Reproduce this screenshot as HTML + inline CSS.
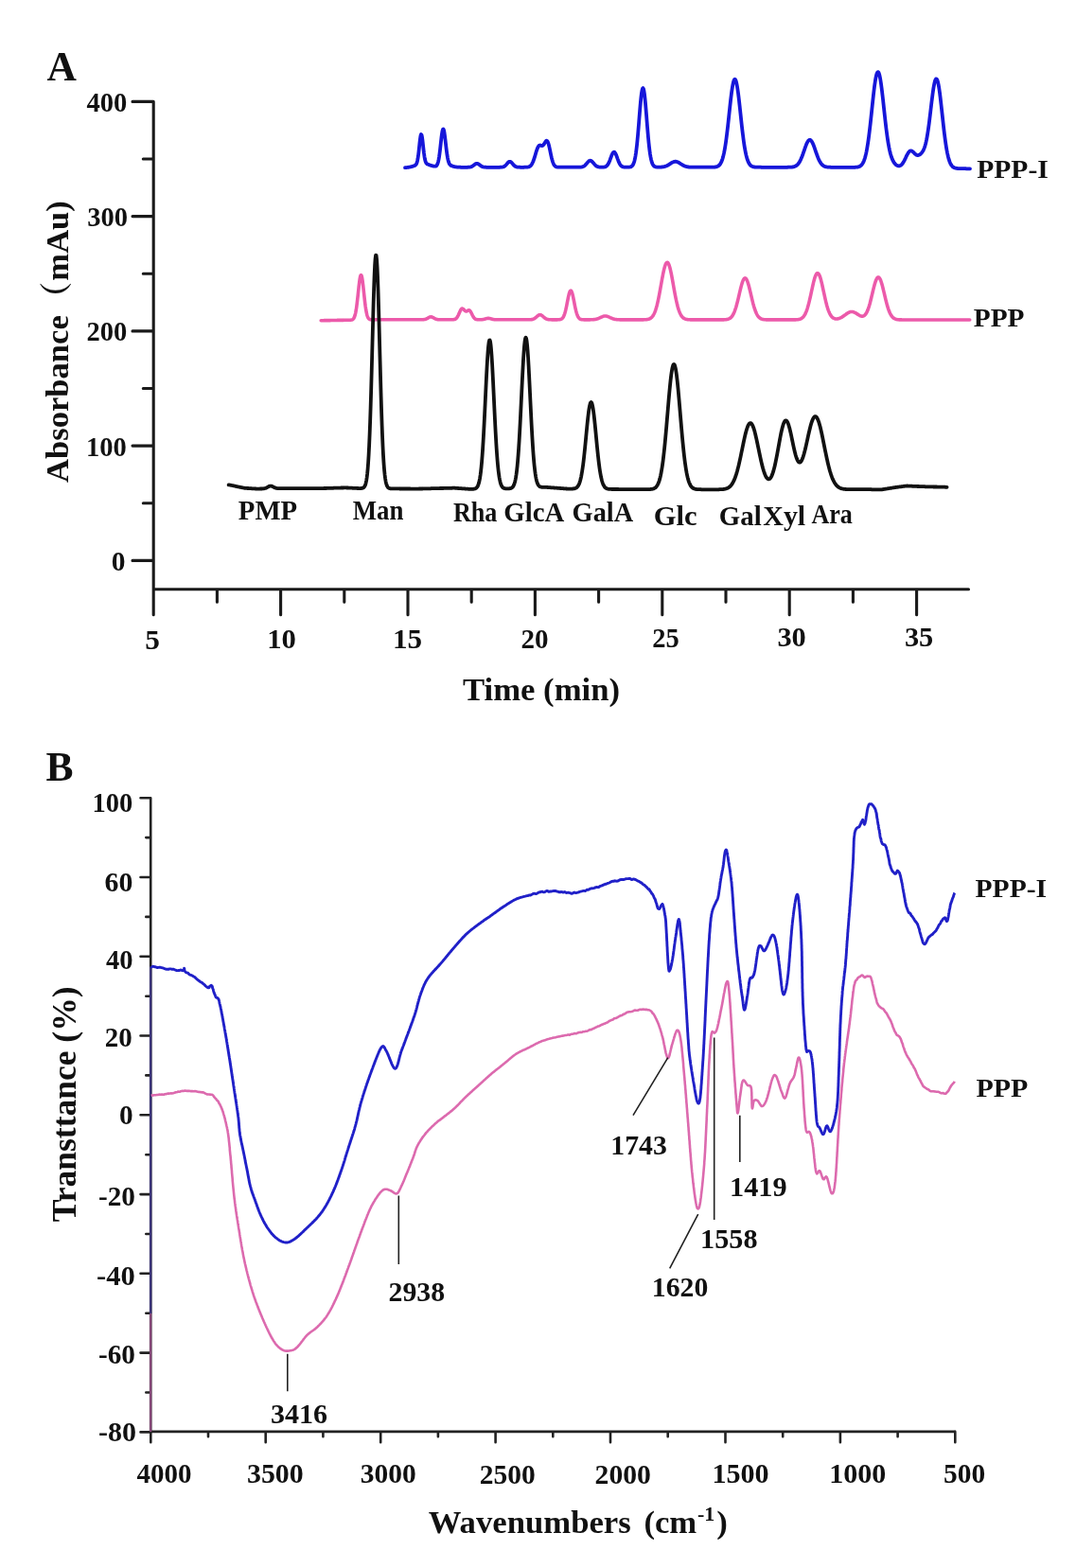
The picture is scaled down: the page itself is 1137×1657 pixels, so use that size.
<!DOCTYPE html><html><head><meta charset="utf-8"><title>Figure</title><style>html,body{margin:0;padding:0;background:#fff;}svg{display:block;}text{font-family:"Liberation Serif","Times New Roman",serif;font-weight:bold;fill:#111;}</style></head><body>
<svg width="1137" height="1657" viewBox="0 0 1137 1657">
<rect width="1137" height="1657" fill="#fff"/>
<path d="M162.2 107.6 V622.8 M162.2 622.8 H1023.5 M140 592.4 H162.2 M140 471.1 H162.2 M140 349.9 H162.2 M140 228.6 H162.2 M140 107.4 H162.2 M151.3 531.8 H162.2 M151.3 410.5 H162.2 M151.3 289.3 H162.2 M151.3 168 H162.2 M162.2 622.8 V649.8 M296.6 622.8 V649.8 M431 622.8 V649.8 M565.4 622.8 V649.8 M699.8 622.8 V649.8 M834.2 622.8 V649.8 M968.6 622.8 V649.8 M229.4 622.8 V636.3 M363.8 622.8 V636.3 M498.2 622.8 V636.3 M632.6 622.8 V636.3 M767 622.8 V636.3 M901.4 622.8 V636.3" stroke="#1a1a1a" stroke-width="3.1" fill="none" stroke-linecap="round" stroke-linejoin="round"/>
<path d="M339.2 338.7 L339.7 338.7 L340.2 338.7 L340.7 338.7 L341.2 338.7 L341.7 338.7 L342.2 338.7 L342.7 338.6 L343.2 338.6 L343.7 338.6 L344.2 338.6 L344.7 338.6 L345.2 338.6 L345.7 338.6 L346.2 338.6 L346.7 338.6 L347.2 338.6 L347.7 338.6 L348.2 338.6 L348.7 338.6 L349.2 338.6 L349.7 338.5 L350.2 338.5 L350.7 338.5 L351.2 338.5 L351.7 338.5 L352.2 338.5 L352.7 338.5 L353.2 338.5 L353.7 338.5 L354.2 338.5 L354.7 338.5 L355.2 338.5 L355.7 338.5 L356.2 338.4 L356.7 338.4 L357.2 338.4 L357.7 338.4 L358.2 338.4 L358.7 338.4 L359.2 338.4 L359.7 338.4 L360.2 338.4 L360.7 338.4 L361.2 338.4 L361.7 338.4 L362.2 338.4 L362.7 338.4 L363.2 338.3 L363.7 338.3 L364.2 338.3 L364.7 338.3 L365.2 338.3 L365.7 338.3 L366.2 338.3 L366.7 338.3 L367.2 338.3 L367.7 338.3 L368.2 338.3 L368.7 338.3 L369.2 338.2 L369.7 338.2 L370.2 338.2 L370.7 338.2 L371.2 338.1 L371.7 338 L372.2 337.8 L372.7 337.6 L373.2 337.2 L373.7 336.6 L374.2 335.7 L374.7 334.5 L375.2 332.9 L375.7 330.8 L376.2 328.2 L376.7 324.9 L377.2 321.1 L377.7 316.8 L378.2 312.2 L378.7 307.4 L379.2 302.7 L379.7 298.4 L380.2 294.8 L380.7 292.2 L381.2 290.8 L381.7 290.7 L382.2 291.8 L382.7 294.2 L383.2 297.6 L383.7 301.7 L384.2 306.4 L384.7 311.1 L385.2 315.8 L385.7 320.2 L386.2 324.1 L386.7 327.4 L387.2 330.2 L387.7 332.4 L388.2 334.1 L388.7 335.3 L389.2 336.2 L389.7 336.8 L390.2 337.2 L390.7 337.5 L391.2 337.7 L391.7 337.8 L392.2 337.8 L392.7 337.9 L393.2 337.9 L393.7 337.9 L394.2 337.9 L394.7 337.9 L395.2 337.9 L395.7 337.9 L396.2 337.9 L396.7 337.8 L397.2 337.8 L397.7 337.8 L398.2 337.8 L398.7 337.8 L399.2 337.8 L399.7 337.8 L400.2 337.8 L400.7 337.8 L401.2 337.8 L401.7 337.8 L402.2 337.8 L402.7 337.8 L403.2 337.8 L403.7 337.8 L404.2 337.8 L404.7 337.8 L405.2 337.8 L405.7 337.8 L406.2 337.8 L406.7 337.8 L407.2 337.8 L407.7 337.8 L408.2 337.8 L408.7 337.8 L409.2 337.8 L409.7 337.8 L410.2 337.8 L410.7 337.8 L411.2 337.8 L411.7 337.8 L412.2 337.8 L412.7 337.8 L413.2 337.8 L413.7 337.8 L414.2 337.8 L414.7 337.8 L415.2 337.8 L415.7 337.8 L416.2 337.8 L416.7 337.8 L417.2 337.8 L417.7 337.8 L418.2 337.8 L418.7 337.8 L419.2 337.8 L419.7 337.8 L420.2 337.8 L420.7 337.8 L421.2 337.8 L421.7 337.8 L422.2 337.8 L422.7 337.8 L423.2 337.8 L423.7 337.8 L424.2 337.8 L424.7 337.8 L425.2 337.8 L425.7 337.8 L426.2 337.8 L426.7 337.8 L427.2 337.8 L427.7 337.8 L428.2 337.8 L428.7 337.8 L429.2 337.8 L429.7 337.8 L430.2 337.8 L430.7 337.8 L431.2 337.8 L431.7 337.8 L432.2 337.8 L432.7 337.8 L433.2 337.8 L433.7 337.8 L434.2 337.8 L434.7 337.8 L435.2 337.8 L435.7 337.8 L436.2 337.8 L436.7 337.8 L437.2 337.8 L437.7 337.8 L438.2 337.8 L438.7 337.8 L439.2 337.8 L439.7 337.8 L440.2 337.8 L440.7 337.8 L441.2 337.8 L441.7 337.8 L442.2 337.8 L442.7 337.8 L443.2 337.8 L443.7 337.8 L444.2 337.8 L444.7 337.8 L445.2 337.8 L445.7 337.8 L446.2 337.8 L446.7 337.8 L447.2 337.7 L447.7 337.7 L448.2 337.6 L448.7 337.5 L449.2 337.4 L449.7 337.3 L450.2 337.1 L450.7 336.9 L451.2 336.6 L451.7 336.4 L452.2 336.1 L452.7 335.8 L453.2 335.5 L453.7 335.2 L454.2 335 L454.7 334.9 L455.2 334.8 L455.7 334.8 L456.2 334.9 L456.7 335.1 L457.2 335.4 L457.7 335.6 L458.2 335.9 L458.7 336.2 L459.2 336.5 L459.7 336.8 L460.2 337 L460.7 337.2 L461.2 337.4 L461.7 337.5 L462.2 337.6 L462.7 337.7 L463.2 337.7 L463.7 337.8 L464.2 337.8 L464.7 337.8 L465.2 337.8 L465.7 337.8 L466.2 337.8 L466.7 337.8 L467.2 337.8 L467.7 337.8 L468.2 337.8 L468.7 337.8 L469.2 337.8 L469.7 337.8 L470.2 337.8 L470.7 337.8 L471.2 337.8 L471.7 337.8 L472.2 337.8 L472.7 337.8 L473.2 337.8 L473.7 337.8 L474.2 337.8 L474.7 337.8 L475.2 337.8 L475.7 337.8 L476.2 337.8 L476.7 337.8 L477.2 337.8 L477.7 337.8 L478.2 337.8 L478.7 337.8 L479.2 337.7 L479.7 337.6 L480.2 337.5 L480.7 337.4 L481.2 337.1 L481.7 336.8 L482.2 336.4 L482.7 335.8 L483.2 335.1 L483.7 334.3 L484.2 333.3 L484.7 332.2 L485.2 331.1 L485.7 329.9 L486.2 328.8 L486.7 327.8 L487.2 327 L487.7 326.4 L488.2 326.1 L488.7 326.1 L489.2 326.3 L489.7 326.7 L490.2 327.2 L490.7 327.8 L491.2 328.3 L491.7 328.7 L492.2 328.9 L492.7 329 L493.2 328.8 L493.7 328.6 L494.2 328.3 L494.7 328 L495.2 327.8 L495.7 327.8 L496.2 328 L496.7 328.5 L497.2 329.2 L497.7 330 L498.2 331 L498.7 332 L499.2 333.1 L499.7 334 L500.2 334.9 L500.7 335.6 L501.2 336.2 L501.7 336.7 L502.2 337.1 L502.7 337.3 L503.2 337.5 L503.7 337.6 L504.2 337.7 L504.7 337.8 L505.2 337.8 L505.7 337.8 L506.2 337.8 L506.7 337.8 L507.2 337.8 L507.7 337.8 L508.2 337.8 L508.7 337.8 L509.2 337.7 L509.7 337.7 L510.2 337.6 L510.7 337.5 L511.2 337.4 L511.7 337.3 L512.2 337.2 L512.7 337 L513.2 336.9 L513.7 336.7 L514.2 336.6 L514.7 336.5 L515.2 336.4 L515.7 336.3 L516.2 336.3 L516.7 336.4 L517.2 336.5 L517.7 336.6 L518.2 336.7 L518.7 336.8 L519.2 337 L519.7 337.1 L520.2 337.3 L520.7 337.4 L521.2 337.5 L521.7 337.6 L522.2 337.7 L522.7 337.7 L523.2 337.8 L523.7 337.8 L524.2 337.8 L524.7 337.8 L525.2 337.8 L525.7 337.8 L526.2 337.8 L526.7 337.8 L527.2 337.8 L527.7 337.8 L528.2 337.8 L528.7 337.8 L529.2 337.8 L529.7 337.8 L530.2 337.8 L530.7 337.8 L531.2 337.8 L531.7 337.8 L532.2 337.8 L532.7 337.8 L533.2 337.8 L533.7 337.8 L534.2 337.8 L534.7 337.8 L535.2 337.8 L535.7 337.8 L536.2 337.8 L536.7 337.8 L537.2 337.8 L537.7 337.8 L538.2 337.8 L538.7 337.8 L539.2 337.8 L539.7 337.8 L540.2 337.8 L540.7 337.8 L541.2 337.8 L541.7 337.8 L542.2 337.8 L542.7 337.8 L543.2 337.8 L543.7 337.8 L544.2 337.8 L544.7 337.8 L545.2 337.8 L545.7 337.8 L546.2 337.8 L546.7 337.8 L547.2 337.8 L547.7 337.8 L548.2 337.8 L548.7 337.8 L549.2 337.8 L549.7 337.8 L550.2 337.8 L550.7 337.8 L551.2 337.8 L551.7 337.8 L552.2 337.8 L552.7 337.8 L553.2 337.8 L553.7 337.8 L554.2 337.8 L554.7 337.8 L555.2 337.8 L555.7 337.8 L556.2 337.8 L556.7 337.8 L557.2 337.8 L557.7 337.8 L558.2 337.8 L558.7 337.8 L559.2 337.8 L559.7 337.8 L560.2 337.8 L560.7 337.8 L561.2 337.7 L561.7 337.6 L562.2 337.6 L562.7 337.4 L563.2 337.3 L563.7 337.1 L564.2 336.9 L564.7 336.6 L565.2 336.3 L565.7 335.9 L566.2 335.5 L566.7 335.1 L567.2 334.6 L567.7 334.2 L568.2 333.7 L568.7 333.4 L569.2 333.1 L569.7 332.8 L570.2 332.7 L570.7 332.7 L571.2 332.7 L571.7 332.9 L572.2 333.2 L572.7 333.5 L573.2 333.9 L573.7 334.3 L574.2 334.8 L574.7 335.2 L575.2 335.7 L575.7 336.1 L576.2 336.4 L576.7 336.7 L577.2 337 L577.7 337.2 L578.2 337.4 L578.7 337.5 L579.2 337.6 L579.7 337.7 L580.2 337.7 L580.7 337.8 L581.2 337.8 L581.7 337.8 L582.2 337.8 L582.7 337.8 L583.2 337.9 L583.7 337.9 L584.2 337.9 L584.7 337.9 L585.2 337.9 L585.7 337.9 L586.2 337.9 L586.7 337.9 L587.2 337.9 L587.7 337.9 L588.2 337.9 L588.7 337.9 L589.2 337.8 L589.7 337.8 L590.2 337.8 L590.7 337.8 L591.2 337.7 L591.7 337.7 L592.2 337.5 L592.7 337.4 L593.2 337.2 L593.7 336.8 L594.2 336.4 L594.7 335.8 L595.2 335.1 L595.7 334.1 L596.2 333 L596.7 331.5 L597.2 329.8 L597.7 327.9 L598.2 325.7 L598.7 323.3 L599.2 320.7 L599.7 318.1 L600.2 315.6 L600.7 313.2 L601.2 311.1 L601.7 309.3 L602.2 308 L602.7 307.3 L603.2 307.1 L603.7 307.5 L604.2 308.5 L604.7 310 L605.2 311.9 L605.7 314.1 L606.2 316.6 L606.7 319.2 L607.2 321.8 L607.7 324.3 L608.2 326.6 L608.7 328.7 L609.2 330.5 L609.7 332.1 L610.2 333.5 L610.7 334.6 L611.2 335.4 L611.7 336.1 L612.2 336.6 L612.7 337 L613.2 337.3 L613.7 337.5 L614.2 337.6 L614.7 337.7 L615.2 337.8 L615.7 337.8 L616.2 337.8 L616.7 337.8 L617.2 337.9 L617.7 337.9 L618.2 337.9 L618.7 337.9 L619.2 337.9 L619.7 337.9 L620.2 337.9 L620.7 337.9 L621.2 337.9 L621.7 337.9 L622.2 337.9 L622.7 337.9 L623.2 337.9 L623.7 337.8 L624.2 337.8 L624.7 337.8 L625.2 337.8 L625.7 337.8 L626.2 337.8 L626.7 337.7 L627.2 337.7 L627.7 337.6 L628.2 337.6 L628.7 337.5 L629.2 337.4 L629.7 337.3 L630.2 337.2 L630.7 337.1 L631.2 336.9 L631.7 336.8 L632.2 336.6 L632.7 336.4 L633.2 336.2 L633.7 335.9 L634.2 335.7 L634.7 335.5 L635.2 335.2 L635.7 335 L636.2 334.8 L636.7 334.6 L637.2 334.4 L637.7 334.2 L638.2 334.1 L638.7 334 L639.2 334 L639.7 334 L640.2 334 L640.7 334.1 L641.2 334.2 L641.7 334.3 L642.2 334.5 L642.7 334.7 L643.2 334.9 L643.7 335.1 L644.2 335.3 L644.7 335.6 L645.2 335.8 L645.7 336 L646.2 336.2 L646.7 336.5 L647.2 336.7 L647.7 336.8 L648.2 337 L648.7 337.1 L649.2 337.3 L649.7 337.4 L650.2 337.5 L650.7 337.5 L651.2 337.6 L651.7 337.7 L652.2 337.7 L652.7 337.8 L653.2 337.8 L653.7 337.8 L654.2 337.8 L654.7 337.8 L655.2 337.9 L655.7 337.9 L656.2 337.9 L656.7 337.9 L657.2 337.9 L657.7 337.9 L658.2 337.9 L658.7 337.9 L659.2 337.9 L659.7 337.9 L660.2 337.9 L660.7 337.9 L661.2 337.9 L661.7 337.9 L662.2 337.9 L662.7 337.9 L663.2 337.9 L663.7 337.9 L664.2 337.9 L664.7 337.9 L665.2 337.9 L665.7 337.9 L666.2 337.9 L666.7 337.9 L667.2 337.9 L667.7 337.9 L668.2 337.9 L668.7 337.9 L669.2 337.9 L669.7 337.9 L670.2 337.9 L670.7 337.9 L671.2 337.9 L671.7 337.9 L672.2 337.9 L672.7 337.9 L673.2 337.9 L673.7 337.9 L674.2 337.9 L674.7 337.9 L675.2 337.9 L675.7 337.9 L676.2 337.9 L676.7 337.9 L677.2 337.9 L677.7 337.9 L678.2 337.9 L678.7 337.9 L679.2 337.9 L679.7 337.9 L680.2 337.8 L680.7 337.8 L681.2 337.8 L681.7 337.8 L682.2 337.8 L682.7 337.7 L683.2 337.7 L683.7 337.6 L684.2 337.5 L684.7 337.4 L685.2 337.3 L685.7 337.2 L686.2 337 L686.7 336.7 L687.2 336.5 L687.7 336.1 L688.2 335.7 L688.7 335.3 L689.2 334.7 L689.7 334.1 L690.2 333.4 L690.7 332.5 L691.2 331.5 L691.7 330.4 L692.2 329.2 L692.7 327.8 L693.2 326.2 L693.7 324.5 L694.2 322.7 L694.7 320.6 L695.2 318.4 L695.7 316.1 L696.2 313.7 L696.7 311.1 L697.2 308.4 L697.7 305.6 L698.2 302.8 L698.7 300 L699.2 297.2 L699.7 294.4 L700.2 291.8 L700.7 289.2 L701.2 286.8 L701.7 284.6 L702.2 282.7 L702.7 281 L703.2 279.6 L703.7 278.5 L704.2 277.8 L704.7 277.4 L705.2 277.3 L705.7 277.6 L706.2 278.3 L706.7 279.3 L707.2 280.7 L707.7 282.3 L708.2 284.2 L708.7 286.4 L709.2 288.7 L709.7 291.2 L710.2 293.9 L710.7 296.6 L711.2 299.4 L711.7 302.3 L712.2 305.1 L712.7 307.9 L713.2 310.6 L713.7 313.2 L714.2 315.6 L714.7 318 L715.2 320.2 L715.7 322.3 L716.2 324.2 L716.7 325.9 L717.2 327.5 L717.7 328.9 L718.2 330.2 L718.7 331.3 L719.2 332.3 L719.7 333.2 L720.2 334 L720.7 334.6 L721.2 335.2 L721.7 335.7 L722.2 336.1 L722.7 336.4 L723.2 336.7 L723.7 336.9 L724.2 337.1 L724.7 337.3 L725.2 337.4 L725.7 337.5 L726.2 337.6 L726.7 337.7 L727.2 337.7 L727.7 337.8 L728.2 337.8 L728.7 337.8 L729.2 337.8 L729.7 337.9 L730.2 337.9 L730.7 337.9 L731.2 337.9 L731.7 337.9 L732.2 337.9 L732.7 337.9 L733.2 337.9 L733.7 337.9 L734.2 337.9 L734.7 337.9 L735.2 337.9 L735.7 337.9 L736.2 337.9 L736.7 337.9 L737.2 337.9 L737.7 337.9 L738.2 337.9 L738.7 337.9 L739.2 337.9 L739.7 337.9 L740.2 337.9 L740.7 337.9 L741.2 337.9 L741.7 337.9 L742.2 337.9 L742.7 337.9 L743.2 337.9 L743.7 337.9 L744.2 337.9 L744.7 337.9 L745.2 337.9 L745.7 337.9 L746.2 337.9 L746.7 337.9 L747.2 337.9 L747.7 337.9 L748.2 337.9 L748.7 337.9 L749.2 337.9 L749.7 337.9 L750.2 337.9 L750.7 337.9 L751.2 337.9 L751.7 337.9 L752.2 337.9 L752.7 337.9 L753.2 337.9 L753.7 337.9 L754.2 337.9 L754.7 337.9 L755.2 337.9 L755.7 337.9 L756.2 337.9 L756.7 337.9 L757.2 337.9 L757.7 337.9 L758.2 337.9 L758.7 337.9 L759.2 337.9 L759.7 337.9 L760.2 337.9 L760.7 337.9 L761.2 337.9 L761.7 337.9 L762.2 337.9 L762.7 337.9 L763.2 337.9 L763.7 337.9 L764.2 337.9 L764.7 337.9 L765.2 337.8 L765.7 337.8 L766.2 337.8 L766.7 337.7 L767.2 337.7 L767.7 337.6 L768.2 337.5 L768.7 337.4 L769.2 337.3 L769.7 337.1 L770.2 336.9 L770.7 336.7 L771.2 336.4 L771.7 336.1 L772.2 335.7 L772.7 335.2 L773.2 334.6 L773.7 334 L774.2 333.2 L774.7 332.3 L775.2 331.4 L775.7 330.3 L776.2 329.1 L776.7 327.7 L777.2 326.2 L777.7 324.7 L778.2 322.9 L778.7 321.1 L779.2 319.2 L779.7 317.2 L780.2 315.1 L780.7 313 L781.2 310.8 L781.7 308.7 L782.2 306.6 L782.7 304.5 L783.2 302.6 L783.7 300.7 L784.2 299.1 L784.7 297.6 L785.2 296.4 L785.7 295.4 L786.2 294.6 L786.7 294.1 L787.2 293.9 L787.7 294 L788.2 294.4 L788.7 295 L789.2 295.9 L789.7 297.1 L790.2 298.5 L790.7 300.1 L791.2 301.8 L791.7 303.7 L792.2 305.7 L792.7 307.8 L793.2 309.9 L793.7 312.1 L794.2 314.2 L794.7 316.3 L795.2 318.4 L795.7 320.4 L796.2 322.2 L796.7 324 L797.2 325.6 L797.7 327.2 L798.2 328.5 L798.7 329.8 L799.2 331 L799.7 332 L800.2 332.9 L800.7 333.7 L801.2 334.4 L801.7 335 L802.2 335.5 L802.7 335.9 L803.2 336.3 L803.7 336.6 L804.2 336.9 L804.7 337.1 L805.2 337.2 L805.7 337.4 L806.2 337.5 L806.7 337.6 L807.2 337.7 L807.7 337.7 L808.2 337.8 L808.7 337.8 L809.2 337.8 L809.7 337.9 L810.2 337.9 L810.7 337.9 L811.2 337.9 L811.7 337.9 L812.2 337.9 L812.7 337.9 L813.2 337.9 L813.7 337.9 L814.2 337.9 L814.7 337.9 L815.2 337.9 L815.7 337.9 L816.2 337.9 L816.7 337.9 L817.2 337.9 L817.7 337.9 L818.2 337.9 L818.7 337.9 L819.2 337.9 L819.7 337.9 L820.2 337.9 L820.7 337.9 L821.2 337.9 L821.7 337.9 L822.2 337.9 L822.7 337.9 L823.2 337.9 L823.7 337.9 L824.2 337.9 L824.7 337.9 L825.2 337.9 L825.7 337.9 L826.2 337.9 L826.7 337.9 L827.2 337.9 L827.7 337.9 L828.2 337.9 L828.7 337.9 L829.2 337.9 L829.7 337.9 L830.2 337.9 L830.7 337.9 L831.2 337.9 L831.7 337.9 L832.2 337.9 L832.7 337.9 L833.2 337.9 L833.7 337.9 L834.2 337.9 L834.7 337.9 L835.2 337.9 L835.7 337.9 L836.2 337.9 L836.7 337.9 L837.2 337.9 L837.7 337.9 L838.2 337.9 L838.7 337.9 L839.2 337.9 L839.7 337.9 L840.2 337.9 L840.7 337.9 L841.2 337.8 L841.7 337.8 L842.2 337.8 L842.7 337.7 L843.2 337.7 L843.7 337.6 L844.2 337.5 L844.7 337.4 L845.2 337.3 L845.7 337.1 L846.2 336.9 L846.7 336.6 L847.2 336.3 L847.7 335.9 L848.2 335.5 L848.7 335 L849.2 334.4 L849.7 333.7 L850.2 333 L850.7 332.1 L851.2 331.1 L851.7 329.9 L852.2 328.7 L852.7 327.3 L853.2 325.8 L853.7 324.1 L854.2 322.3 L854.7 320.4 L855.2 318.4 L855.7 316.2 L856.2 314 L856.7 311.8 L857.2 309.4 L857.7 307.1 L858.2 304.8 L858.7 302.5 L859.2 300.3 L859.7 298.2 L860.2 296.2 L860.7 294.4 L861.2 292.8 L861.7 291.5 L862.2 290.4 L862.7 289.5 L863.2 288.9 L863.7 288.7 L864.2 288.7 L864.7 289 L865.2 289.7 L865.7 290.6 L866.2 291.7 L866.7 293.1 L867.2 294.8 L867.7 296.6 L868.2 298.6 L868.7 300.7 L869.2 303 L869.7 305.3 L870.2 307.6 L870.7 309.9 L871.2 312.2 L871.7 314.5 L872.2 316.7 L872.7 318.8 L873.2 320.8 L873.7 322.7 L874.2 324.4 L874.7 326.1 L875.2 327.6 L875.7 328.9 L876.2 330.1 L876.7 331.2 L877.2 332.2 L877.7 333.1 L878.2 333.8 L878.7 334.5 L879.2 335 L879.7 335.5 L880.2 335.9 L880.7 336.2 L881.2 336.4 L881.7 336.6 L882.2 336.8 L882.7 336.9 L883.2 337 L883.7 337 L884.2 337 L884.7 336.9 L885.2 336.9 L885.7 336.8 L886.2 336.6 L886.7 336.5 L887.2 336.3 L887.7 336.1 L888.2 335.9 L888.7 335.6 L889.2 335.4 L889.7 335.1 L890.2 334.8 L890.7 334.4 L891.2 334.1 L891.7 333.7 L892.2 333.4 L892.7 333 L893.2 332.7 L893.7 332.3 L894.2 331.9 L894.7 331.6 L895.2 331.2 L895.7 330.9 L896.2 330.6 L896.7 330.4 L897.2 330.1 L897.7 329.9 L898.2 329.7 L898.7 329.6 L899.2 329.5 L899.7 329.5 L900.2 329.5 L900.7 329.5 L901.2 329.6 L901.7 329.7 L902.2 329.9 L902.7 330.1 L903.2 330.3 L903.7 330.5 L904.2 330.8 L904.7 331.1 L905.2 331.4 L905.7 331.8 L906.2 332.1 L906.7 332.4 L907.2 332.7 L907.7 333 L908.2 333.3 L908.7 333.6 L909.2 333.8 L909.7 334 L910.2 334.1 L910.7 334.2 L911.2 334.2 L911.7 334.2 L912.2 334 L912.7 333.8 L913.2 333.5 L913.7 333.1 L914.2 332.6 L914.7 332 L915.2 331.3 L915.7 330.4 L916.2 329.4 L916.7 328.3 L917.2 327 L917.7 325.6 L918.2 324.1 L918.7 322.4 L919.2 320.7 L919.7 318.8 L920.2 316.8 L920.7 314.8 L921.2 312.7 L921.7 310.6 L922.2 308.5 L922.7 306.4 L923.2 304.4 L923.7 302.4 L924.2 300.6 L924.7 298.9 L925.2 297.3 L925.7 296 L926.2 294.9 L926.7 294 L927.2 293.4 L927.7 293.1 L928.2 293 L928.7 293.2 L929.2 293.6 L929.7 294.4 L930.2 295.3 L930.7 296.5 L931.2 298 L931.7 299.6 L932.2 301.3 L932.7 303.2 L933.2 305.2 L933.7 307.3 L934.2 309.4 L934.7 311.5 L935.2 313.7 L935.7 315.7 L936.2 317.8 L936.7 319.7 L937.2 321.6 L937.7 323.4 L938.2 325 L938.7 326.6 L939.2 328 L939.7 329.3 L940.2 330.4 L940.7 331.5 L941.2 332.4 L941.7 333.3 L942.2 334 L942.7 334.6 L943.2 335.2 L943.7 335.7 L944.2 336.1 L944.7 336.4 L945.2 336.7 L945.7 336.9 L946.2 337.1 L946.7 337.3 L947.2 337.5 L947.7 337.6 L948.2 337.7 L948.7 337.7 L949.2 337.8 L949.7 337.8 L950.2 337.9 L950.7 337.9 L951.2 337.9 L951.7 337.9 L952.2 337.9 L952.7 337.9 L953.2 338 L953.7 338 L954.2 338 L954.7 338 L955.2 338 L955.7 338 L956.2 338 L956.7 338 L957.2 338 L957.7 338 L958.2 338 L958.7 338 L959.2 338 L959.7 338 L960.2 338 L960.7 338 L961.2 338 L961.7 338 L962.2 338 L962.7 338 L963.2 338 L963.7 338 L964.2 338 L964.7 338 L965.2 338 L965.7 338 L966.2 338 L966.7 338 L967.2 338 L967.7 338 L968.2 338 L968.7 338 L969.2 338 L969.7 338 L970.2 338 L970.7 338 L971.2 338 L971.7 338 L972.2 338 L972.7 338 L973.2 338 L973.7 338 L974.2 338 L974.7 338 L975.2 338 L975.7 338 L976.2 338 L976.7 338 L977.2 338 L977.7 338 L978.2 338 L978.7 338 L979.2 338 L979.7 338 L980.2 338 L980.7 338 L981.2 338 L981.7 338 L982.2 338 L982.7 338 L983.2 338 L983.7 338 L984.2 338 L984.7 338 L985.2 338 L985.7 338 L986.2 338 L986.7 338 L987.2 338 L987.7 338 L988.2 338 L988.7 338 L989.2 338 L989.7 338 L990.2 338 L990.7 338 L991.2 338 L991.7 338 L992.2 338 L992.7 338 L993.2 338 L993.7 338 L994.2 338 L994.7 338 L995.2 338 L995.7 338 L996.2 338 L996.7 338 L997.2 338 L997.7 338 L998.2 338 L998.7 338 L999.2 338 L999.7 338 L1000.2 338 L1000.7 338 L1001.2 338 L1001.7 338 L1002.2 338 L1002.7 338 L1003.2 338 L1003.7 338 L1004.2 338 L1004.7 338 L1005.2 338 L1005.7 338 L1006.2 338 L1006.7 338 L1007.2 338 L1007.7 338 L1008.2 338 L1008.7 338 L1009.2 338 L1009.7 338 L1010.2 338 L1010.7 338 L1011.2 338 L1011.7 338 L1012.2 338 L1012.7 338 L1013.2 338 L1013.7 338 L1014.2 338 L1014.7 338 L1015.2 338 L1015.7 338 L1016.2 338 L1016.7 338 L1017.2 338 L1017.7 338 L1018.2 338 L1018.7 338 L1019.2 338 L1019.7 338 L1020.2 338 L1020.7 338 L1021.2 338 L1021.7 338 L1022.2 338 L1022.7 338 L1023.2 338 L1023.7 338 L1024.2 338 L1024.7 338" stroke="#ec5aaa" stroke-width="3.6" fill="none" stroke-linejoin="round" stroke-linecap="round"/>
<path d="M428 177.2 L428.5 177.2 L429 177.1 L429.5 177.1 L430 177 L430.5 176.9 L431 176.9 L431.5 176.8 L432 176.7 L432.5 176.6 L433 176.6 L433.5 176.4 L434 176.3 L434.5 176.2 L435 176.1 L435.5 175.9 L436 175.8 L436.5 175.6 L437 175.5 L437.5 175.3 L438 175.1 L438.5 174.8 L439 174.5 L439.5 174 L440 173.2 L440.5 172 L441 170.2 L441.5 167.7 L442 164.4 L442.5 160.2 L443 155.5 L443.5 150.8 L444 146.5 L444.5 143.4 L445 142 L445.5 142.5 L446 144.8 L446.5 148.5 L447 153.1 L447.5 157.7 L448 162 L448.5 165.6 L449 168.3 L449.5 170.3 L450 171.6 L450.5 172.5 L451 173 L451.5 173.4 L452 173.6 L452.5 173.8 L453 174 L453.5 174.2 L454 174.4 L454.5 174.5 L455 174.7 L455.5 174.9 L456 175 L456.5 175.2 L457 175.3 L457.5 175.5 L458 175.6 L458.5 175.7 L459 175.7 L459.5 175.7 L460 175.7 L460.5 175.6 L461 175.3 L461.5 174.8 L462 174 L462.5 172.8 L463 171.2 L463.5 168.9 L464 166.1 L464.5 162.6 L465 158.5 L465.5 154 L466 149.4 L466.5 145 L467 141.2 L467.5 138.3 L468 136.7 L468.5 136.4 L469 137.5 L469.5 139.9 L470 143.4 L470.5 147.5 L471 151.9 L471.5 156.2 L472 160.3 L472.5 163.9 L473 166.8 L473.5 169.2 L474 171 L474.5 172.3 L475 173.3 L475.5 174 L476 174.5 L476.5 174.9 L477 175.1 L477.5 175.3 L478 175.5 L478.5 175.7 L479 175.8 L479.5 176 L480 176.1 L480.5 176.2 L481 176.3 L481.5 176.4 L482 176.4 L482.5 176.5 L483 176.6 L483.5 176.6 L484 176.6 L484.5 176.7 L485 176.7 L485.5 176.7 L486 176.7 L486.5 176.7 L487 176.8 L487.5 176.8 L488 176.8 L488.5 176.8 L489 176.8 L489.5 176.8 L490 176.8 L490.5 176.8 L491 176.8 L491.5 176.8 L492 176.8 L492.5 176.8 L493 176.8 L493.5 176.8 L494 176.8 L494.5 176.7 L495 176.7 L495.5 176.7 L496 176.7 L496.5 176.6 L497 176.5 L497.5 176.4 L498 176.2 L498.5 176 L499 175.7 L499.5 175.4 L500 175.1 L500.5 174.7 L501 174.3 L501.5 173.9 L502 173.5 L502.5 173.2 L503 173 L503.5 172.8 L504 172.8 L504.5 172.9 L505 173 L505.5 173.3 L506 173.6 L506.5 174 L507 174.4 L507.5 174.8 L508 175.2 L508.5 175.5 L509 175.8 L509.5 176.1 L510 176.3 L510.5 176.4 L511 176.5 L511.5 176.6 L512 176.7 L512.5 176.7 L513 176.7 L513.5 176.7 L514 176.8 L514.5 176.8 L515 176.8 L515.5 176.8 L516 176.8 L516.5 176.8 L517 176.8 L517.5 176.8 L518 176.8 L518.5 176.8 L519 176.8 L519.5 176.8 L520 176.8 L520.5 176.8 L521 176.8 L521.5 176.8 L522 176.8 L522.5 176.8 L523 176.8 L523.5 176.8 L524 176.8 L524.5 176.8 L525 176.8 L525.5 176.8 L526 176.8 L526.5 176.8 L527 176.8 L527.5 176.8 L528 176.8 L528.5 176.7 L529 176.7 L529.5 176.7 L530 176.7 L530.5 176.6 L531 176.5 L531.5 176.4 L532 176.3 L532.5 176.1 L533 175.8 L533.5 175.4 L534 175 L534.5 174.5 L535 174 L535.5 173.4 L536 172.8 L536.5 172.2 L537 171.7 L537.5 171.2 L538 170.9 L538.5 170.8 L539 170.8 L539.5 171 L540 171.3 L540.5 171.7 L541 172.3 L541.5 172.9 L542 173.5 L542.5 174.1 L543 174.6 L543.5 175.1 L544 175.5 L544.5 175.8 L545 176.1 L545.5 176.3 L546 176.4 L546.5 176.6 L547 176.6 L547.5 176.7 L548 176.7 L548.5 176.7 L549 176.7 L549.5 176.7 L550 176.8 L550.5 176.8 L551 176.8 L551.5 176.8 L552 176.8 L552.5 176.8 L553 176.8 L553.5 176.8 L554 176.7 L554.5 176.7 L555 176.7 L555.5 176.7 L556 176.7 L556.5 176.7 L557 176.6 L557.5 176.6 L558 176.5 L558.5 176.4 L559 176.2 L559.5 176 L560 175.7 L560.5 175.3 L561 174.8 L561.5 174.2 L562 173.4 L562.5 172.5 L563 171.5 L563.5 170.3 L564 168.9 L564.5 167.5 L565 165.9 L565.5 164.2 L566 162.5 L566.5 160.8 L567 159.2 L567.5 157.8 L568 156.5 L568.5 155.4 L569 154.6 L569.5 154 L570 153.7 L570.5 153.5 L571 153.6 L571.5 153.7 L572 153.9 L572.5 154 L573 154 L573.5 153.8 L574 153.4 L574.5 152.8 L575 152.1 L575.5 151.2 L576 150.4 L576.5 149.6 L577 149 L577.5 148.7 L578 148.8 L578.5 149.3 L579 150.3 L579.5 151.7 L580 153.5 L580.5 155.6 L581 157.9 L581.5 160.4 L582 162.8 L582.5 165.1 L583 167.2 L583.5 169.1 L584 170.8 L584.5 172.2 L585 173.3 L585.5 174.3 L586 175 L586.5 175.5 L587 175.9 L587.5 176.2 L588 176.4 L588.5 176.5 L589 176.6 L589.5 176.7 L590 176.7 L590.5 176.7 L591 176.7 L591.5 176.7 L592 176.7 L592.5 176.7 L593 176.7 L593.5 176.7 L594 176.7 L594.5 176.7 L595 176.7 L595.5 176.7 L596 176.7 L596.5 176.7 L597 176.7 L597.5 176.7 L598 176.7 L598.5 176.7 L599 176.7 L599.5 176.7 L600 176.7 L600.5 176.7 L601 176.7 L601.5 176.7 L602 176.7 L602.5 176.7 L603 176.7 L603.5 176.7 L604 176.7 L604.5 176.7 L605 176.7 L605.5 176.7 L606 176.7 L606.5 176.7 L607 176.7 L607.5 176.7 L608 176.7 L608.5 176.7 L609 176.7 L609.5 176.7 L610 176.7 L610.5 176.7 L611 176.7 L611.5 176.7 L612 176.7 L612.5 176.7 L613 176.7 L613.5 176.6 L614 176.6 L614.5 176.5 L615 176.4 L615.5 176.3 L616 176.1 L616.5 175.9 L617 175.6 L617.5 175.3 L618 174.9 L618.5 174.4 L619 173.9 L619.5 173.3 L620 172.7 L620.5 172.1 L621 171.5 L621.5 171 L622 170.5 L622.5 170.1 L623 169.9 L623.5 169.7 L624 169.8 L624.5 169.9 L625 170.2 L625.5 170.6 L626 171.1 L626.5 171.6 L627 172.2 L627.5 172.8 L628 173.4 L628.5 174 L629 174.5 L629.5 175 L630 175.3 L630.5 175.7 L631 175.9 L631.5 176.1 L632 176.3 L632.5 176.4 L633 176.5 L633.5 176.6 L634 176.6 L634.5 176.7 L635 176.7 L635.5 176.7 L636 176.7 L636.5 176.7 L637 176.7 L637.5 176.6 L638 176.6 L638.5 176.5 L639 176.4 L639.5 176.3 L640 176 L640.5 175.8 L641 175.4 L641.5 174.9 L642 174.3 L642.5 173.6 L643 172.7 L643.5 171.6 L644 170.5 L644.5 169.2 L645 167.8 L645.5 166.5 L646 165.1 L646.5 163.8 L647 162.7 L647.5 161.8 L648 161.1 L648.5 160.8 L649 160.7 L649.5 161 L650 161.6 L650.5 162.5 L651 163.6 L651.5 164.8 L652 166.2 L652.5 167.6 L653 168.9 L653.5 170.2 L654 171.4 L654.5 172.5 L655 173.4 L655.5 174.2 L656 174.8 L656.5 175.3 L657 175.7 L657.5 176 L658 176.2 L658.5 176.4 L659 176.5 L659.5 176.6 L660 176.6 L660.5 176.7 L661 176.7 L661.5 176.7 L662 176.7 L662.5 176.7 L663 176.7 L663.5 176.7 L664 176.7 L664.5 176.6 L665 176.6 L665.5 176.5 L666 176.4 L666.5 176.3 L667 176 L667.5 175.7 L668 175.3 L668.5 174.7 L669 173.9 L669.5 172.8 L670 171.4 L670.5 169.7 L671 167.5 L671.5 164.8 L672 161.6 L672.5 157.8 L673 153.5 L673.5 148.5 L674 143.1 L674.5 137.2 L675 131.1 L675.5 124.7 L676 118.5 L676.5 112.4 L677 106.9 L677.5 102 L678 98.1 L678.5 95.2 L679 93.5 L679.5 93.1 L680 94 L680.5 96.2 L681 99.5 L681.5 103.9 L682 109 L682.5 114.8 L683 120.9 L683.5 127.3 L684 133.6 L684.5 139.6 L685 145.3 L685.5 150.6 L686 155.3 L686.5 159.4 L687 163 L687.5 165.9 L688 168.4 L688.5 170.4 L689 172 L689.5 173.3 L690 174.2 L690.5 174.9 L691 175.5 L691.5 175.8 L692 176.1 L692.5 176.3 L693 176.4 L693.5 176.5 L694 176.6 L694.5 176.6 L695 176.6 L695.5 176.7 L696 176.7 L696.5 176.6 L697 176.6 L697.5 176.6 L698 176.6 L698.5 176.6 L699 176.5 L699.5 176.5 L700 176.4 L700.5 176.4 L701 176.3 L701.5 176.2 L702 176.1 L702.5 175.9 L703 175.8 L703.5 175.6 L704 175.4 L704.5 175.2 L705 175 L705.5 174.7 L706 174.5 L706.5 174.2 L707 173.8 L707.5 173.5 L708 173.2 L708.5 172.9 L709 172.5 L709.5 172.2 L710 171.9 L710.5 171.6 L711 171.4 L711.5 171.2 L712 171 L712.5 170.8 L713 170.8 L713.5 170.7 L714 170.7 L714.5 170.8 L715 170.9 L715.5 171 L716 171.2 L716.5 171.4 L717 171.7 L717.5 172 L718 172.3 L718.5 172.6 L719 172.9 L719.5 173.3 L720 173.6 L720.5 173.9 L721 174.2 L721.5 174.5 L722 174.8 L722.5 175 L723 175.3 L723.5 175.5 L724 175.7 L724.5 175.8 L725 176 L725.5 176.1 L726 176.2 L726.5 176.3 L727 176.4 L727.5 176.5 L728 176.5 L728.5 176.6 L729 176.6 L729.5 176.6 L730 176.6 L730.5 176.7 L731 176.7 L731.5 176.7 L732 176.7 L732.5 176.7 L733 176.7 L733.5 176.7 L734 176.7 L734.5 176.7 L735 176.7 L735.5 176.7 L736 176.7 L736.5 176.7 L737 176.7 L737.5 176.7 L738 176.7 L738.5 176.7 L739 176.7 L739.5 176.7 L740 176.7 L740.5 176.7 L741 176.7 L741.5 176.7 L742 176.7 L742.5 176.7 L743 176.7 L743.5 176.7 L744 176.7 L744.5 176.7 L745 176.7 L745.5 176.7 L746 176.7 L746.5 176.7 L747 176.7 L747.5 176.7 L748 176.7 L748.5 176.7 L749 176.7 L749.5 176.7 L750 176.7 L750.5 176.7 L751 176.7 L751.5 176.7 L752 176.7 L752.5 176.7 L753 176.7 L753.5 176.7 L754 176.6 L754.5 176.6 L755 176.6 L755.5 176.5 L756 176.5 L756.5 176.4 L757 176.3 L757.5 176.1 L758 175.9 L758.5 175.7 L759 175.4 L759.5 175 L760 174.6 L760.5 174.1 L761 173.4 L761.5 172.6 L762 171.7 L762.5 170.6 L763 169.3 L763.5 167.8 L764 166.1 L764.5 164.1 L765 161.9 L765.5 159.4 L766 156.6 L766.5 153.5 L767 150.2 L767.5 146.5 L768 142.6 L768.5 138.5 L769 134.2 L769.5 129.6 L770 125 L770.5 120.3 L771 115.6 L771.5 111 L772 106.5 L772.5 102.3 L773 98.3 L773.5 94.7 L774 91.5 L774.5 88.8 L775 86.6 L775.5 85 L776 84.1 L776.5 83.7 L777 84.1 L777.5 85 L778 86.6 L778.5 88.8 L779 91.5 L779.5 94.7 L780 98.3 L780.5 102.3 L781 106.5 L781.5 111 L782 115.6 L782.5 120.3 L783 125 L783.5 129.7 L784 134.2 L784.5 138.5 L785 142.6 L785.5 146.6 L786 150.2 L786.5 153.6 L787 156.6 L787.5 159.4 L788 161.9 L788.5 164.2 L789 166.1 L789.5 167.9 L790 169.3 L790.5 170.6 L791 171.7 L791.5 172.7 L792 173.4 L792.5 174.1 L793 174.6 L793.5 175.1 L794 175.4 L794.5 175.7 L795 175.9 L795.5 176.1 L796 176.3 L796.5 176.4 L797 176.5 L797.5 176.5 L798 176.6 L798.5 176.6 L799 176.7 L799.5 176.7 L800 176.7 L800.5 176.7 L801 176.7 L801.5 176.7 L802 176.7 L802.5 176.7 L803 176.7 L803.5 176.7 L804 176.7 L804.5 176.8 L805 176.8 L805.5 176.8 L806 176.8 L806.5 176.8 L807 176.8 L807.5 176.8 L808 176.8 L808.5 176.8 L809 176.8 L809.5 176.8 L810 176.8 L810.5 176.8 L811 176.8 L811.5 176.8 L812 176.8 L812.5 176.8 L813 176.8 L813.5 176.8 L814 176.8 L814.5 176.8 L815 176.8 L815.5 176.8 L816 176.8 L816.5 176.8 L817 176.8 L817.5 176.8 L818 176.8 L818.5 176.8 L819 176.8 L819.5 176.8 L820 176.8 L820.5 176.8 L821 176.8 L821.5 176.8 L822 176.8 L822.5 176.8 L823 176.8 L823.5 176.8 L824 176.8 L824.5 176.8 L825 176.8 L825.5 176.8 L826 176.8 L826.5 176.8 L827 176.8 L827.5 176.8 L828 176.8 L828.5 176.8 L829 176.8 L829.5 176.8 L830 176.8 L830.5 176.8 L831 176.8 L831.5 176.8 L832 176.8 L832.5 176.7 L833 176.7 L833.5 176.7 L834 176.7 L834.5 176.7 L835 176.7 L835.5 176.7 L836 176.6 L836.5 176.6 L837 176.5 L837.5 176.5 L838 176.4 L838.5 176.3 L839 176.2 L839.5 176 L840 175.8 L840.5 175.6 L841 175.3 L841.5 175 L842 174.6 L842.5 174.2 L843 173.7 L843.5 173.1 L844 172.4 L844.5 171.7 L845 170.9 L845.5 169.9 L846 168.9 L846.5 167.8 L847 166.6 L847.5 165.4 L848 164 L848.5 162.7 L849 161.2 L849.5 159.8 L850 158.3 L850.5 156.9 L851 155.4 L851.5 154.1 L852 152.8 L852.5 151.6 L853 150.6 L853.5 149.7 L854 148.9 L854.5 148.4 L855 148 L855.5 147.8 L856 147.8 L856.5 148 L857 148.5 L857.5 149.1 L858 149.8 L858.5 150.8 L859 151.9 L859.5 153 L860 154.3 L860.5 155.7 L861 157.1 L861.5 158.6 L862 160.1 L862.5 161.5 L863 162.9 L863.5 164.3 L864 165.6 L864.5 166.9 L865 168.1 L865.5 169.1 L866 170.1 L866.5 171 L867 171.9 L867.5 172.6 L868 173.2 L868.5 173.8 L869 174.3 L869.5 174.7 L870 175.1 L870.5 175.4 L871 175.7 L871.5 175.9 L872 176.1 L872.5 176.2 L873 176.3 L873.5 176.4 L874 176.5 L874.5 176.6 L875 176.6 L875.5 176.7 L876 176.7 L876.5 176.7 L877 176.7 L877.5 176.7 L878 176.8 L878.5 176.8 L879 176.8 L879.5 176.8 L880 176.8 L880.5 176.8 L881 176.8 L881.5 176.8 L882 176.8 L882.5 176.8 L883 176.8 L883.5 176.8 L884 176.8 L884.5 176.8 L885 176.8 L885.5 176.8 L886 176.8 L886.5 176.8 L887 176.8 L887.5 176.8 L888 176.8 L888.5 176.8 L889 176.8 L889.5 176.8 L890 176.8 L890.5 176.8 L891 176.8 L891.5 176.8 L892 176.8 L892.5 176.8 L893 176.8 L893.5 176.8 L894 176.8 L894.5 176.8 L895 176.8 L895.5 176.8 L896 176.8 L896.5 176.8 L897 176.8 L897.5 176.8 L898 176.8 L898.5 176.8 L899 176.8 L899.5 176.8 L900 176.8 L900.5 176.8 L901 176.8 L901.5 176.8 L902 176.8 L902.5 176.8 L903 176.8 L903.5 176.8 L904 176.7 L904.5 176.7 L905 176.7 L905.5 176.6 L906 176.5 L906.5 176.5 L907 176.3 L907.5 176.2 L908 176 L908.5 175.8 L909 175.5 L909.5 175.1 L910 174.7 L910.5 174.2 L911 173.6 L911.5 172.8 L912 172 L912.5 170.9 L913 169.7 L913.5 168.3 L914 166.8 L914.5 164.9 L915 162.9 L915.5 160.6 L916 158 L916.5 155.2 L917 152 L917.5 148.6 L918 145 L918.5 141.1 L919 136.9 L919.5 132.6 L920 128.1 L920.5 123.4 L921 118.7 L921.5 113.9 L922 109.1 L922.5 104.5 L923 99.9 L923.5 95.6 L924 91.6 L924.5 88 L925 84.7 L925.5 81.9 L926 79.6 L926.5 77.9 L927 76.7 L927.5 76.1 L928 76.2 L928.5 76.8 L929 78.1 L929.5 79.9 L930 82.3 L930.5 85.2 L931 88.5 L931.5 92.2 L932 96.2 L932.5 100.5 L933 104.9 L933.5 109.5 L934 114.2 L934.5 118.8 L935 123.4 L935.5 127.9 L936 132.2 L936.5 136.4 L937 140.3 L937.5 144 L938 147.4 L938.5 150.6 L939 153.5 L939.5 156.2 L940 158.6 L940.5 160.7 L941 162.7 L941.5 164.4 L942 166 L942.5 167.3 L943 168.6 L943.5 169.6 L944 170.6 L944.5 171.4 L945 172.2 L945.5 172.8 L946 173.4 L946.5 173.9 L947 174.3 L947.5 174.6 L948 174.9 L948.5 175.1 L949 175.3 L949.5 175.3 L950 175.4 L950.5 175.3 L951 175.1 L951.5 174.9 L952 174.6 L952.5 174.2 L953 173.7 L953.5 173.1 L954 172.4 L954.5 171.6 L955 170.8 L955.5 169.9 L956 168.9 L956.5 167.8 L957 166.8 L957.5 165.7 L958 164.7 L958.5 163.7 L959 162.8 L959.5 161.9 L960 161.1 L960.5 160.5 L961 160 L961.5 159.6 L962 159.4 L962.5 159.3 L963 159.4 L963.5 159.6 L964 159.9 L964.5 160.3 L965 160.7 L965.5 161.2 L966 161.7 L966.5 162.3 L967 162.7 L967.5 163.1 L968 163.5 L968.5 163.8 L969 164 L969.5 164.1 L970 164.1 L970.5 164 L971 163.8 L971.5 163.6 L972 163.3 L972.5 162.9 L973 162.5 L973.5 162 L974 161.4 L974.5 160.7 L975 160 L975.5 159.1 L976 158.1 L976.5 156.9 L977 155.6 L977.5 154 L978 152.2 L978.5 150.2 L979 147.9 L979.5 145.3 L980 142.4 L980.5 139.3 L981 135.9 L981.5 132.2 L982 128.4 L982.5 124.3 L983 120.1 L983.5 115.9 L984 111.6 L984.5 107.4 L985 103.4 L985.5 99.5 L986 95.9 L986.5 92.6 L987 89.8 L987.5 87.4 L988 85.5 L988.5 84.2 L989 83.4 L989.5 83.3 L990 83.8 L990.5 84.8 L991 86.5 L991.5 88.6 L992 91.3 L992.5 94.5 L993 98.1 L993.5 102 L994 106.2 L994.5 110.6 L995 115.1 L995.5 119.7 L996 124.3 L996.5 128.9 L997 133.4 L997.5 137.7 L998 141.9 L998.5 145.8 L999 149.5 L999.5 152.9 L1000 156.1 L1000.5 159 L1001 161.6 L1001.5 163.9 L1002 166 L1002.5 167.9 L1003 169.5 L1003.5 170.9 L1004 172.1 L1004.5 173.2 L1005 174.1 L1005.5 174.8 L1006 175.4 L1006.5 176 L1007 176.4 L1007.5 176.8 L1008 177 L1008.5 177.3 L1009 177.5 L1009.5 177.6 L1010 177.7 L1010.5 177.8 L1011 177.9 L1011.5 178 L1012 178 L1012.5 178.1 L1013 178.1 L1013.5 178.1 L1014 178.1 L1014.5 178.1 L1015 178.2 L1015.5 178.2 L1016 178.2 L1016.5 178.2 L1017 178.2 L1017.5 178.2 L1018 178.2 L1018.5 178.2 L1019 178.2 L1019.5 178.2 L1020 178.2 L1020.5 178.2 L1021 178.3 L1021.5 178.3 L1022 178.3 L1022.5 178.3 L1023 178.3 L1023.5 178.3 L1024 178.3 L1024.5 178.3 L1025 178.3" stroke="#1616da" stroke-width="3.8" fill="none" stroke-linejoin="round" stroke-linecap="round"/>
<path d="M241.6 512.4 L242.1 512.4 L242.6 512.5 L243.1 512.6 L243.6 512.7 L244.1 512.8 L244.6 512.9 L245.1 513 L245.6 513.1 L246.1 513.2 L246.6 513.3 L247.1 513.4 L247.6 513.5 L248.1 513.6 L248.6 513.7 L249.1 513.9 L249.6 514 L250.1 514.1 L250.6 514.2 L251.1 514.3 L251.6 514.4 L252.1 514.5 L252.6 514.6 L253.1 514.7 L253.6 514.8 L254.1 514.9 L254.6 515 L255.1 515.1 L255.6 515.2 L256.1 515.3 L256.6 515.4 L257.1 515.5 L257.6 515.6 L258.1 515.7 L258.6 515.8 L259.1 515.8 L259.6 515.9 L260.1 515.9 L260.6 515.9 L261.1 516 L261.6 516 L262.1 516 L262.6 516 L263.1 516.1 L263.6 516.1 L264.1 516.1 L264.6 516.2 L265.1 516.2 L265.6 516.2 L266.1 516.3 L266.6 516.3 L267.1 516.3 L267.6 516.4 L268.1 516.4 L268.6 516.4 L269.1 516.4 L269.6 516.5 L270.1 516.5 L270.6 516.5 L271.1 516.6 L271.6 516.6 L272.1 516.6 L272.6 516.6 L273.1 516.6 L273.6 516.6 L274.1 516.6 L274.6 516.5 L275.1 516.5 L275.6 516.5 L276.1 516.5 L276.6 516.5 L277.1 516.5 L277.6 516.4 L278.1 516.4 L278.6 516.3 L279.1 516.3 L279.6 516.1 L280.1 516 L280.6 515.9 L281.1 515.7 L281.6 515.4 L282.1 515.2 L282.6 514.9 L283.1 514.6 L283.6 514.3 L284.1 514 L284.6 513.8 L285.1 513.7 L285.6 513.6 L286.1 513.6 L286.6 513.6 L287.1 513.7 L287.6 513.9 L288.1 514.2 L288.6 514.4 L289.1 514.7 L289.6 515 L290.1 515.2 L290.6 515.5 L291.1 515.6 L291.6 515.8 L292.1 515.9 L292.6 516 L293.1 516.1 L293.6 516.1 L294.1 516.1 L294.6 516.2 L295.1 516.2 L295.6 516.2 L296.1 516.2 L296.6 516.2 L297.1 516.2 L297.6 516.2 L298.1 516.2 L298.6 516.2 L299.1 516.2 L299.6 516.2 L300.1 516.2 L300.6 516.2 L301.1 516.2 L301.6 516.2 L302.1 516.2 L302.6 516.2 L303.1 516.2 L303.6 516.2 L304.1 516.2 L304.6 516.2 L305.1 516.2 L305.6 516.2 L306.1 516.2 L306.6 516.2 L307.1 516.2 L307.6 516.2 L308.1 516.2 L308.6 516.2 L309.1 516.2 L309.6 516.2 L310.1 516.2 L310.6 516.2 L311.1 516.2 L311.6 516.2 L312.1 516.2 L312.6 516.2 L313.1 516.2 L313.6 516.2 L314.1 516.2 L314.6 516.2 L315.1 516.2 L315.6 516.2 L316.1 516.2 L316.6 516.2 L317.1 516.2 L317.6 516.1 L318.1 516.1 L318.6 516.1 L319.1 516.1 L319.6 516.1 L320.1 516.1 L320.6 516.1 L321.1 516.1 L321.6 516.1 L322.1 516.1 L322.6 516.1 L323.1 516.1 L323.6 516.1 L324.1 516.1 L324.6 516.1 L325.1 516.1 L325.6 516.1 L326.1 516.1 L326.6 516.1 L327.1 516.1 L327.6 516.1 L328.1 516.1 L328.6 516.1 L329.1 516.1 L329.6 516.1 L330.1 516.1 L330.6 516.1 L331.1 516.1 L331.6 516.1 L332.1 516.1 L332.6 516.1 L333.1 516.1 L333.6 516.1 L334.1 516.1 L334.6 516.1 L335.1 516.1 L335.6 516.1 L336.1 516.1 L336.6 516.1 L337.1 516.1 L337.6 516.1 L338.1 516.1 L338.6 516.1 L339.1 516.1 L339.6 516.1 L340.1 516.1 L340.6 516.1 L341.1 516.1 L341.6 516.1 L342.1 516 L342.6 516 L343.1 516 L343.6 516 L344.1 516 L344.6 516 L345.1 516 L345.6 515.9 L346.1 515.9 L346.6 515.9 L347.1 515.9 L347.6 515.9 L348.1 515.9 L348.6 515.9 L349.1 515.8 L349.6 515.8 L350.1 515.8 L350.6 515.8 L351.1 515.8 L351.6 515.8 L352.1 515.8 L352.6 515.7 L353.1 515.7 L353.6 515.7 L354.1 515.7 L354.6 515.7 L355.1 515.7 L355.6 515.7 L356.1 515.6 L356.6 515.6 L357.1 515.6 L357.6 515.6 L358.1 515.6 L358.6 515.6 L359.1 515.6 L359.6 515.6 L360.1 515.5 L360.6 515.5 L361.1 515.5 L361.6 515.5 L362.1 515.5 L362.6 515.5 L363.1 515.5 L363.6 515.4 L364.1 515.4 L364.6 515.4 L365.1 515.4 L365.6 515.4 L366.1 515.5 L366.6 515.5 L367.1 515.5 L367.6 515.5 L368.1 515.5 L368.6 515.6 L369.1 515.6 L369.6 515.6 L370.1 515.6 L370.6 515.7 L371.1 515.7 L371.6 515.7 L372.1 515.7 L372.6 515.8 L373.1 515.8 L373.6 515.8 L374.1 515.8 L374.6 515.8 L375.1 515.9 L375.6 515.9 L376.1 515.9 L376.6 515.9 L377.1 516 L377.6 516 L378.1 516 L378.6 516 L379.1 516.1 L379.6 516.1 L380.1 516.1 L380.6 516.1 L381.1 516.1 L381.6 516 L382.1 516 L382.6 515.9 L383.1 515.8 L383.6 515.6 L384.1 515.3 L384.6 514.9 L385.1 514.3 L385.6 513.4 L386.1 512.2 L386.6 510.4 L387.1 508.1 L387.6 505 L388.1 500.9 L388.6 495.7 L389.1 489.1 L389.6 481 L390.1 471.2 L390.6 459.7 L391.1 446.4 L391.6 431.3 L392.1 414.7 L392.6 396.7 L393.1 377.9 L393.6 358.7 L394.1 339.8 L394.6 321.9 L395.1 305.6 L395.6 291.6 L396.1 280.7 L396.6 273.2 L397.1 269.6 L397.6 270 L398.1 274.4 L398.6 282.6 L399.1 294.2 L399.6 308.7 L400.1 325.4 L400.6 343.6 L401.1 362.6 L401.6 381.8 L402.1 400.5 L402.6 418.2 L403.1 434.6 L403.6 449.3 L404.1 462.3 L404.6 473.5 L405.1 482.9 L405.6 490.7 L406.1 496.9 L406.6 501.9 L407.1 505.8 L407.6 508.8 L408.1 511 L408.6 512.6 L409.1 513.8 L409.6 514.6 L410.1 515.2 L410.6 515.6 L411.1 515.9 L411.6 516.1 L412.1 516.2 L412.6 516.3 L413.1 516.3 L413.6 516.3 L414.1 516.4 L414.6 516.4 L415.1 516.4 L415.6 516.4 L416.1 516.4 L416.6 516.4 L417.1 516.4 L417.6 516.4 L418.1 516.4 L418.6 516.4 L419.1 516.4 L419.6 516.4 L420.1 516.4 L420.6 516.4 L421.1 516.4 L421.6 516.4 L422.1 516.5 L422.6 516.5 L423.1 516.5 L423.6 516.5 L424.1 516.5 L424.6 516.5 L425.1 516.5 L425.6 516.5 L426.1 516.5 L426.6 516.5 L427.1 516.5 L427.6 516.5 L428.1 516.5 L428.6 516.5 L429.1 516.5 L429.6 516.5 L430.1 516.5 L430.6 516.5 L431.1 516.5 L431.6 516.5 L432.1 516.5 L432.6 516.5 L433.1 516.5 L433.6 516.5 L434.1 516.6 L434.6 516.6 L435.1 516.6 L435.6 516.6 L436.1 516.6 L436.6 516.6 L437.1 516.6 L437.6 516.6 L438.1 516.6 L438.6 516.6 L439.1 516.6 L439.6 516.6 L440.1 516.6 L440.6 516.6 L441.1 516.6 L441.6 516.6 L442.1 516.6 L442.6 516.5 L443.1 516.5 L443.6 516.5 L444.1 516.5 L444.6 516.5 L445.1 516.5 L445.6 516.5 L446.1 516.5 L446.6 516.5 L447.1 516.4 L447.6 516.4 L448.1 516.4 L448.6 516.4 L449.1 516.4 L449.6 516.4 L450.1 516.4 L450.6 516.4 L451.1 516.4 L451.6 516.3 L452.1 516.3 L452.6 516.3 L453.1 516.3 L453.6 516.3 L454.1 516.3 L454.6 516.3 L455.1 516.3 L455.6 516.2 L456.1 516.2 L456.6 516.2 L457.1 516.2 L457.6 516.2 L458.1 516.2 L458.6 516.2 L459.1 516.2 L459.6 516.2 L460.1 516.1 L460.6 516.1 L461.1 516.1 L461.6 516.1 L462.1 516.1 L462.6 516.1 L463.1 516.1 L463.6 516.1 L464.1 516.1 L464.6 516 L465.1 516 L465.6 516 L466.1 516 L466.6 516 L467.1 516 L467.6 516 L468.1 516 L468.6 516 L469.1 515.9 L469.6 515.9 L470.1 515.9 L470.6 515.9 L471.1 515.9 L471.6 515.9 L472.1 515.9 L472.6 515.9 L473.1 515.9 L473.6 515.8 L474.1 515.8 L474.6 515.8 L475.1 515.8 L475.6 515.8 L476.1 515.8 L476.6 515.8 L477.1 515.8 L477.6 515.8 L478.1 515.7 L478.6 515.7 L479.1 515.7 L479.6 515.7 L480.1 515.7 L480.6 515.7 L481.1 515.8 L481.6 515.8 L482.1 515.8 L482.6 515.9 L483.1 515.9 L483.6 516 L484.1 516 L484.6 516 L485.1 516.1 L485.6 516.1 L486.1 516.1 L486.6 516.2 L487.1 516.2 L487.6 516.2 L488.1 516.3 L488.6 516.3 L489.1 516.3 L489.6 516.4 L490.1 516.4 L490.6 516.4 L491.1 516.5 L491.6 516.5 L492.1 516.6 L492.6 516.6 L493.1 516.6 L493.6 516.7 L494.1 516.7 L494.6 516.7 L495.1 516.8 L495.6 516.8 L496.1 516.8 L496.6 516.9 L497.1 516.9 L497.6 516.9 L498.1 516.9 L498.6 516.9 L499.1 516.8 L499.6 516.8 L500.1 516.8 L500.6 516.7 L501.1 516.6 L501.6 516.5 L502.1 516.4 L502.6 516.1 L503.1 515.8 L503.6 515.4 L504.1 514.8 L504.6 514.1 L505.1 513.1 L505.6 511.7 L506.1 510.1 L506.6 508 L507.1 505.3 L507.6 502.1 L508.1 498.2 L508.6 493.5 L509.1 488 L509.6 481.7 L510.1 474.5 L510.6 466.5 L511.1 457.7 L511.6 448.1 L512.1 438.1 L512.6 427.6 L513.1 417 L513.6 406.5 L514.1 396.4 L514.6 387 L515.1 378.6 L515.6 371.4 L516.1 365.7 L516.6 361.7 L517.1 359.6 L517.6 359.4 L518.1 361.1 L518.6 364.7 L519.1 370.1 L519.6 377 L520.1 385.2 L520.6 394.4 L521.1 404.4 L521.6 414.8 L522.1 425.4 L522.6 435.9 L523.1 446 L523.6 455.7 L524.1 464.6 L524.6 472.8 L525.1 480.2 L525.6 486.6 L526.1 492.3 L526.6 497.1 L527.1 501.1 L527.6 504.5 L528.1 507.2 L528.6 509.4 L529.1 511.2 L529.6 512.5 L530.1 513.6 L530.6 514.4 L531.1 515 L531.6 515.4 L532.1 515.7 L532.6 516 L533.1 516.1 L533.6 516.2 L534.1 516.3 L534.6 516.4 L535.1 516.4 L535.6 516.4 L536.1 516.4 L536.6 516.4 L537.1 516.4 L537.6 516.3 L538.1 516.3 L538.6 516.2 L539.1 516.2 L539.6 516 L540.1 515.9 L540.6 515.6 L541.1 515.2 L541.6 514.8 L542.1 514.2 L542.6 513.4 L543.1 512.3 L543.6 510.9 L544.1 509.2 L544.6 507.1 L545.1 504.4 L545.6 501.2 L546.1 497.3 L546.6 492.7 L547.1 487.2 L547.6 481 L548.1 474 L548.6 466.1 L549.1 457.4 L549.6 448.1 L550.1 438.2 L550.6 427.9 L551.1 417.4 L551.6 406.9 L552.1 396.8 L552.6 387.3 L553.1 378.6 L553.6 371.1 L554.1 365 L554.6 360.5 L555.1 357.7 L555.6 356.7 L556.1 357.6 L556.6 360.4 L557.1 364.9 L557.6 371 L558.1 378.4 L558.6 387 L559.1 396.5 L559.6 406.6 L560.1 417 L560.6 427.4 L561.1 437.7 L561.6 447.5 L562.1 456.8 L562.6 465.4 L563.1 473.3 L563.6 480.3 L564.1 486.5 L564.6 491.9 L565.1 496.4 L565.6 500.3 L566.1 503.5 L566.6 506.1 L567.1 508.2 L567.6 509.9 L568.1 511.2 L568.6 512.2 L569.1 513 L569.6 513.5 L570.1 514 L570.6 514.3 L571.1 514.5 L571.6 514.6 L572.1 514.7 L572.6 514.8 L573.1 514.8 L573.6 514.8 L574.1 514.8 L574.6 514.8 L575.1 514.8 L575.6 514.8 L576.1 514.8 L576.6 514.8 L577.1 514.9 L577.6 514.9 L578.1 515 L578.6 515 L579.1 515 L579.6 515.1 L580.1 515.1 L580.6 515.1 L581.1 515.2 L581.6 515.2 L582.1 515.3 L582.6 515.3 L583.1 515.3 L583.6 515.4 L584.1 515.4 L584.6 515.4 L585.1 515.5 L585.6 515.5 L586.1 515.6 L586.6 515.6 L587.1 515.6 L587.6 515.7 L588.1 515.7 L588.6 515.7 L589.1 515.8 L589.6 515.8 L590.1 515.9 L590.6 515.9 L591.1 515.9 L591.6 516 L592.1 516 L592.6 516 L593.1 516.1 L593.6 516.1 L594.1 516.2 L594.6 516.2 L595.1 516.2 L595.6 516.3 L596.1 516.3 L596.6 516.3 L597.1 516.4 L597.6 516.4 L598.1 516.5 L598.6 516.5 L599.1 516.5 L599.6 516.6 L600.1 516.6 L600.6 516.6 L601.1 516.6 L601.6 516.6 L602.1 516.6 L602.6 516.6 L603.1 516.6 L603.6 516.6 L604.1 516.6 L604.6 516.6 L605.1 516.5 L605.6 516.5 L606.1 516.4 L606.6 516.4 L607.1 516.3 L607.6 516.1 L608.1 515.9 L608.6 515.7 L609.1 515.4 L609.6 515 L610.1 514.5 L610.6 513.9 L611.1 513.1 L611.6 512.2 L612.1 511 L612.6 509.6 L613.1 508 L613.6 506.1 L614.1 503.8 L614.6 501.2 L615.1 498.3 L615.6 495 L616.1 491.4 L616.6 487.4 L617.1 483 L617.6 478.4 L618.1 473.5 L618.6 468.4 L619.1 463.2 L619.6 457.9 L620.1 452.7 L620.6 447.7 L621.1 443 L621.6 438.6 L622.1 434.6 L622.6 431.3 L623.1 428.6 L623.6 426.6 L624.1 425.4 L624.6 425 L625.1 425.4 L625.6 426.6 L626.1 428.6 L626.6 431.3 L627.1 434.7 L627.6 438.6 L628.1 443 L628.6 447.8 L629.1 452.8 L629.6 458 L630.1 463.3 L630.6 468.5 L631.1 473.6 L631.6 478.5 L632.1 483.1 L632.6 487.5 L633.1 491.5 L633.6 495.2 L634.1 498.5 L634.6 501.4 L635.1 504 L635.6 506.2 L636.1 508.2 L636.6 509.8 L637.1 511.2 L637.6 512.4 L638.1 513.3 L638.6 514.1 L639.1 514.8 L639.6 515.3 L640.1 515.7 L640.6 516 L641.1 516.2 L641.6 516.4 L642.1 516.6 L642.6 516.7 L643.1 516.8 L643.6 516.8 L644.1 516.9 L644.6 516.9 L645.1 516.9 L645.6 516.9 L646.1 517 L646.6 517 L647.1 517 L647.6 517 L648.1 517 L648.6 517 L649.1 517 L649.6 517 L650.1 517 L650.6 517 L651.1 517 L651.6 517 L652.1 517 L652.6 517 L653.1 517 L653.6 517 L654.1 517.1 L654.6 517.1 L655.1 517.1 L655.6 517.1 L656.1 517.1 L656.6 517.1 L657.1 517.1 L657.6 517.1 L658.1 517.1 L658.6 517.1 L659.1 517.1 L659.6 517.1 L660.1 517.1 L660.6 517.1 L661.1 517.1 L661.6 517.1 L662.1 517.1 L662.6 517.1 L663.1 517.1 L663.6 517.1 L664.1 517.1 L664.6 517.1 L665.1 517.1 L665.6 517.1 L666.1 517.1 L666.6 517.1 L667.1 517.1 L667.6 517.1 L668.1 517.1 L668.6 517.1 L669.1 517.1 L669.6 517.1 L670.1 517.1 L670.6 517.1 L671.1 517.1 L671.6 517.1 L672.1 517.1 L672.6 517.1 L673.1 517.1 L673.6 517.1 L674.1 517.1 L674.6 517.1 L675.1 517.1 L675.6 517.1 L676.1 517.1 L676.6 517.1 L677.1 517.1 L677.6 517.1 L678.1 517.1 L678.6 517.1 L679.1 517.1 L679.6 517.1 L680.1 517.1 L680.6 517.1 L681.1 517.1 L681.6 517.1 L682.1 517.1 L682.6 517.1 L683.1 517.1 L683.6 517.1 L684.1 517.1 L684.6 517.1 L685.1 517.1 L685.6 517.1 L686.1 517.1 L686.6 517.1 L687.1 517 L687.6 517 L688.1 516.9 L688.6 516.9 L689.1 516.8 L689.6 516.7 L690.1 516.6 L690.6 516.4 L691.1 516.2 L691.6 515.9 L692.1 515.6 L692.6 515.3 L693.1 514.8 L693.6 514.2 L694.1 513.6 L694.6 512.8 L695.1 511.9 L695.6 510.8 L696.1 509.5 L696.6 508.1 L697.1 506.4 L697.6 504.5 L698.1 502.3 L698.6 499.8 L699.1 497 L699.6 494 L700.1 490.6 L700.6 486.9 L701.1 482.8 L701.6 478.4 L702.1 473.8 L702.6 468.8 L703.1 463.5 L703.6 458 L704.1 452.3 L704.6 446.5 L705.1 440.5 L705.6 434.6 L706.1 428.6 L706.6 422.7 L707.1 417 L707.6 411.6 L708.1 406.5 L708.6 401.8 L709.1 397.5 L709.6 393.8 L710.1 390.7 L710.6 388.2 L711.1 386.4 L711.6 385.3 L712.1 384.9 L712.6 385.3 L713.1 386.4 L713.6 388.2 L714.1 390.7 L714.6 393.8 L715.1 397.5 L715.6 401.8 L716.1 406.5 L716.6 411.6 L717.1 417.1 L717.6 422.8 L718.1 428.6 L718.6 434.6 L719.1 440.6 L719.6 446.5 L720.1 452.4 L720.6 458.1 L721.1 463.6 L721.6 468.8 L722.1 473.8 L722.6 478.5 L723.1 482.9 L723.6 486.9 L724.1 490.6 L724.6 494 L725.1 497.1 L725.6 499.9 L726.1 502.3 L726.6 504.5 L727.1 506.4 L727.6 508.1 L728.1 509.6 L728.6 510.9 L729.1 511.9 L729.6 512.9 L730.1 513.7 L730.6 514.3 L731.1 514.9 L731.6 515.3 L732.1 515.7 L732.6 516 L733.1 516.3 L733.6 516.5 L734.1 516.6 L734.6 516.8 L735.1 516.9 L735.6 517 L736.1 517 L736.6 517.1 L737.1 517.1 L737.6 517.2 L738.1 517.2 L738.6 517.2 L739.1 517.2 L739.6 517.2 L740.1 517.2 L740.6 517.2 L741.1 517.3 L741.6 517.3 L742.1 517.3 L742.6 517.3 L743.1 517.3 L743.6 517.3 L744.1 517.3 L744.6 517.3 L745.1 517.3 L745.6 517.3 L746.1 517.3 L746.6 517.3 L747.1 517.3 L747.6 517.3 L748.1 517.3 L748.6 517.3 L749.1 517.3 L749.6 517.3 L750.1 517.3 L750.6 517.3 L751.1 517.3 L751.6 517.3 L752.1 517.3 L752.6 517.3 L753.1 517.3 L753.6 517.3 L754.1 517.3 L754.6 517.3 L755.1 517.3 L755.6 517.3 L756.1 517.3 L756.6 517.3 L757.1 517.3 L757.6 517.3 L758.1 517.3 L758.6 517.3 L759.1 517.3 L759.6 517.3 L760.1 517.2 L760.6 517.2 L761.1 517.2 L761.6 517.2 L762.1 517.2 L762.6 517.1 L763.1 517.1 L763.6 517.1 L764.1 517 L764.6 517 L765.1 516.9 L765.6 516.8 L766.1 516.7 L766.6 516.6 L767.1 516.4 L767.6 516.3 L768.1 516.1 L768.6 515.9 L769.1 515.7 L769.6 515.4 L770.1 515.1 L770.6 514.7 L771.1 514.3 L771.6 513.8 L772.1 513.3 L772.6 512.7 L773.1 512.1 L773.6 511.4 L774.1 510.6 L774.6 509.7 L775.1 508.7 L775.6 507.7 L776.1 506.5 L776.6 505.3 L777.1 503.9 L777.6 502.4 L778.1 500.9 L778.6 499.2 L779.1 497.5 L779.6 495.6 L780.1 493.6 L780.6 491.6 L781.1 489.4 L781.6 487.2 L782.1 484.9 L782.6 482.6 L783.1 480.2 L783.6 477.7 L784.1 475.3 L784.6 472.8 L785.1 470.4 L785.6 468 L786.1 465.6 L786.6 463.3 L787.1 461.1 L787.6 459 L788.1 457 L788.6 455.2 L789.1 453.5 L789.6 452 L790.1 450.6 L790.6 449.5 L791.1 448.6 L791.6 447.9 L792.1 447.4 L792.6 447.1 L793.1 447.1 L793.6 447.3 L794.1 447.7 L794.6 448.4 L795.1 449.3 L795.6 450.4 L796.1 451.7 L796.6 453.2 L797.1 454.8 L797.6 456.6 L798.1 458.6 L798.6 460.7 L799.1 462.9 L799.6 465.1 L800.1 467.5 L800.6 469.9 L801.1 472.3 L801.6 474.7 L802.1 477.1 L802.6 479.5 L803.1 481.9 L803.6 484.2 L804.1 486.5 L804.6 488.6 L805.1 490.7 L805.6 492.7 L806.1 494.6 L806.6 496.3 L807.1 498 L807.6 499.5 L808.1 500.8 L808.6 502 L809.1 503.1 L809.6 504.1 L810.1 504.8 L810.6 505.4 L811.1 505.9 L811.6 506.2 L812.1 506.3 L812.6 506.3 L813.1 506.1 L813.6 505.8 L814.1 505.2 L814.6 504.5 L815.1 503.6 L815.6 502.6 L816.1 501.3 L816.6 499.9 L817.1 498.4 L817.6 496.6 L818.1 494.7 L818.6 492.7 L819.1 490.5 L819.6 488.2 L820.1 485.7 L820.6 483.2 L821.1 480.6 L821.6 477.9 L822.1 475.1 L822.6 472.3 L823.1 469.6 L823.6 466.8 L824.1 464.1 L824.6 461.5 L825.1 458.9 L825.6 456.5 L826.1 454.3 L826.6 452.2 L827.1 450.4 L827.6 448.7 L828.1 447.3 L828.6 446.2 L829.1 445.3 L829.6 444.7 L830.1 444.4 L830.6 444.4 L831.1 444.6 L831.6 445.2 L832.1 446 L832.6 447.1 L833.1 448.4 L833.6 450 L834.1 451.7 L834.6 453.6 L835.1 455.7 L835.6 457.9 L836.1 460.2 L836.6 462.6 L837.1 465 L837.6 467.4 L838.1 469.8 L838.6 472.1 L839.1 474.4 L839.6 476.5 L840.1 478.6 L840.6 480.5 L841.1 482.2 L841.6 483.8 L842.1 485.1 L842.6 486.3 L843.1 487.2 L843.6 487.9 L844.1 488.4 L844.6 488.7 L845.1 488.7 L845.6 488.5 L846.1 488.1 L846.6 487.4 L847.1 486.6 L847.6 485.5 L848.1 484.3 L848.6 482.9 L849.1 481.3 L849.6 479.6 L850.1 477.7 L850.6 475.8 L851.1 473.7 L851.6 471.6 L852.1 469.3 L852.6 467.1 L853.1 464.8 L853.6 462.5 L854.1 460.2 L854.6 458 L855.1 455.8 L855.6 453.7 L856.1 451.7 L856.6 449.8 L857.1 448 L857.6 446.4 L858.1 445 L858.6 443.7 L859.1 442.6 L859.6 441.7 L860.1 440.9 L860.6 440.5 L861.1 440.2 L861.6 440.1 L862.1 440.3 L862.6 440.7 L863.1 441.2 L863.6 442.1 L864.1 443.1 L864.6 444.3 L865.1 445.7 L865.6 447.2 L866.1 449 L866.6 450.8 L867.1 452.8 L867.6 455 L868.1 457.2 L868.6 459.5 L869.1 461.9 L869.6 464.3 L870.1 466.8 L870.6 469.3 L871.1 471.8 L871.6 474.3 L872.1 476.8 L872.6 479.2 L873.1 481.6 L873.6 484 L874.1 486.2 L874.6 488.5 L875.1 490.6 L875.6 492.6 L876.1 494.6 L876.6 496.4 L877.1 498.2 L877.6 499.8 L878.1 501.4 L878.6 502.8 L879.1 504.2 L879.6 505.5 L880.1 506.7 L880.6 507.7 L881.1 508.7 L881.6 509.6 L882.1 510.5 L882.6 511.2 L883.1 511.9 L883.6 512.6 L884.1 513.1 L884.6 513.6 L885.1 514.1 L885.6 514.5 L886.1 514.8 L886.6 515.1 L887.1 515.4 L887.6 515.7 L888.1 515.9 L888.6 516.1 L889.1 516.2 L889.6 516.4 L890.1 516.5 L890.6 516.6 L891.1 516.7 L891.6 516.8 L892.1 516.9 L892.6 516.9 L893.1 517 L893.6 517 L894.1 517 L894.6 517.1 L895.1 517.1 L895.6 517.1 L896.1 517.1 L896.6 517.1 L897.1 517.2 L897.6 517.2 L898.1 517.2 L898.6 517.2 L899.1 517.2 L899.6 517.2 L900.1 517.2 L900.6 517.2 L901.1 517.2 L901.6 517.2 L902.1 517.2 L902.6 517.2 L903.1 517.2 L903.6 517.2 L904.1 517.2 L904.6 517.2 L905.1 517.2 L905.6 517.2 L906.1 517.2 L906.6 517.2 L907.1 517.2 L907.6 517.2 L908.1 517.2 L908.6 517.2 L909.1 517.2 L909.6 517.2 L910.1 517.2 L910.6 517.2 L911.1 517.2 L911.6 517.2 L912.1 517.2 L912.6 517.2 L913.1 517.2 L913.6 517.2 L914.1 517.2 L914.6 517.2 L915.1 517.2 L915.6 517.2 L916.1 517.2 L916.6 517.2 L917.1 517.2 L917.6 517.2 L918.1 517.2 L918.6 517.2 L919.1 517.2 L919.6 517.2 L920.1 517.2 L920.6 517.2 L921.1 517.3 L921.6 517.3 L922.1 517.3 L922.6 517.3 L923.1 517.3 L923.6 517.3 L924.1 517.3 L924.6 517.3 L925.1 517.3 L925.6 517.3 L926.1 517.3 L926.6 517.3 L927.1 517.3 L927.6 517.3 L928.1 517.3 L928.6 517.3 L929.1 517.3 L929.6 517.3 L930.1 517.3 L930.6 517.3 L931.1 517.3 L931.6 517.3 L932.1 517.3 L932.6 517.2 L933.1 517.1 L933.6 517 L934.1 517 L934.6 516.9 L935.1 516.8 L935.6 516.7 L936.1 516.6 L936.6 516.6 L937.1 516.5 L937.6 516.4 L938.1 516.3 L938.6 516.2 L939.1 516.2 L939.6 516.1 L940.1 516 L940.6 515.9 L941.1 515.8 L941.6 515.8 L942.1 515.7 L942.6 515.6 L943.1 515.5 L943.6 515.4 L944.1 515.4 L944.6 515.3 L945.1 515.2 L945.6 515.1 L946.1 515 L946.6 515 L947.1 514.9 L947.6 514.8 L948.1 514.8 L948.6 514.7 L949.1 514.6 L949.6 514.6 L950.1 514.5 L950.6 514.4 L951.1 514.4 L951.6 514.3 L952.1 514.3 L952.6 514.2 L953.1 514.1 L953.6 514.1 L954.1 514 L954.6 513.9 L955.1 513.9 L955.6 513.8 L956.1 513.7 L956.6 513.7 L957.1 513.6 L957.6 513.6 L958.1 513.5 L958.6 513.5 L959.1 513.5 L959.6 513.6 L960.1 513.6 L960.6 513.6 L961.1 513.6 L961.6 513.6 L962.1 513.7 L962.6 513.7 L963.1 513.7 L963.6 513.7 L964.1 513.8 L964.6 513.8 L965.1 513.8 L965.6 513.8 L966.1 513.8 L966.6 513.9 L967.1 513.9 L967.6 513.9 L968.1 513.9 L968.6 513.9 L969.1 514 L969.6 514 L970.1 514 L970.6 514 L971.1 514 L971.6 514.1 L972.1 514.1 L972.6 514.1 L973.1 514.1 L973.6 514.1 L974.1 514.2 L974.6 514.2 L975.1 514.2 L975.6 514.2 L976.1 514.2 L976.6 514.2 L977.1 514.2 L977.6 514.3 L978.1 514.3 L978.6 514.3 L979.1 514.3 L979.6 514.3 L980.1 514.3 L980.6 514.3 L981.1 514.3 L981.6 514.4 L982.1 514.4 L982.6 514.4 L983.1 514.4 L983.6 514.4 L984.1 514.4 L984.6 514.4 L985.1 514.4 L985.6 514.4 L986.1 514.5 L986.6 514.5 L987.1 514.5 L987.6 514.5 L988.1 514.5 L988.6 514.5 L989.1 514.5 L989.6 514.5 L990.1 514.5 L990.6 514.6 L991.1 514.6 L991.6 514.6 L992.1 514.6 L992.6 514.6 L993.1 514.6 L993.6 514.6 L994.1 514.6 L994.6 514.7 L995.1 514.7 L995.6 514.7 L996.1 514.7 L996.6 514.7 L997.1 514.7 L997.6 514.7 L998.1 514.7 L998.6 514.7 L999.1 514.8 L999.6 514.8 L1000.1 514.8 L1000.6 514.8" stroke="#111" stroke-width="3.8" fill="none" stroke-linejoin="round" stroke-linecap="round"/>
<text x="49.45" y="85.3" font-size="43.5">A</text>
<text x="91.5" y="118.3" font-size="28.5">400</text>
<text x="92.2" y="238.9" font-size="28.5">300</text>
<text x="91.4" y="360.3" font-size="28.5">200</text>
<text x="90.9" y="481.7" font-size="28.5">100</text>
<text x="117.7" y="602.5" font-size="28.5" textLength="14.73" lengthAdjust="spacingAndGlyphs">0</text>
<text x="153.2" y="685.9" font-size="28.5" textLength="15.68" lengthAdjust="spacingAndGlyphs">5</text>
<text x="282.15" y="685.3" font-size="28.5" textLength="30.67" lengthAdjust="spacingAndGlyphs">10</text>
<text x="414.95" y="685.3" font-size="28.5" textLength="31.12" lengthAdjust="spacingAndGlyphs">15</text>
<text x="550.55" y="684.7" font-size="28.5" textLength="29.05" lengthAdjust="spacingAndGlyphs">20</text>
<text x="689.25" y="683.9" font-size="28.5">25</text>
<text x="821.45" y="682.8" font-size="28.5" textLength="30.36" lengthAdjust="spacingAndGlyphs">30</text>
<text x="955.95" y="682.8" font-size="28.5" textLength="30.36" lengthAdjust="spacingAndGlyphs">35</text>
<text x="251.8" y="549.2" font-size="28.8">PMP</text>
<text x="372.75" y="548.8" font-size="28.8" textLength="53.67" lengthAdjust="spacingAndGlyphs">Man</text>
<text x="478.9" y="550.8" font-size="28.8" textLength="46.4" lengthAdjust="spacingAndGlyphs">Rha</text>
<text x="532.3" y="551.0" font-size="28.8">GlcA</text>
<text x="604.6" y="551.0" font-size="28.8" textLength="64.58" lengthAdjust="spacingAndGlyphs">GalA</text>
<text x="690.8" y="555.0" font-size="28.8" textLength="45.86" lengthAdjust="spacingAndGlyphs">Glc</text>
<text x="759.85" y="555.0" font-size="28.8">Gal</text>
<text x="806.3" y="555.0" font-size="28.8" textLength="44.85" lengthAdjust="spacingAndGlyphs">Xyl</text>
<text x="857.45" y="553.0" font-size="28.8" textLength="43.39" lengthAdjust="spacingAndGlyphs">Ara</text>
<text x="1028.75" y="344.7" font-size="27.5" textLength="53.8" lengthAdjust="spacingAndGlyphs">PPP</text>
<text x="1032.2" y="188.0" font-size="27.5" textLength="75.56" lengthAdjust="spacingAndGlyphs">PPP-I</text>
<text x="489" y="740" font-size="34.7">Time (min)</text>
<text transform="translate(72.3 510) rotate(-90)" font-size="34.6">Absorbance<tspan dx="1" font-family="Noto Serif CJK SC, serif">（</tspan><tspan dx="1">mAu)</tspan></text>
<path d="M159.2 843.3 V1512.9 M159.2 1512.9 H1009 M148.5 843.2 H159.2 M148.5 927 H159.2 M148.5 1010.8 H159.2 M148.5 1094.5 H159.2 M148.5 1178.3 H159.2 M148.5 1262.1 H159.2 M148.5 1345.8 H159.2 M148.5 1429.6 H159.2 M148.5 1513.4 H159.2 M154.3 885.1 H159.2 M154.3 968.9 H159.2 M154.3 1052.7 H159.2 M154.3 1136.4 H159.2 M154.3 1220.2 H159.2 M154.3 1304 H159.2 M154.3 1387.8 H159.2 M154.3 1471.5 H159.2 M159.3 1512.9 V1524.2 M280.7 1512.9 V1524.2 M402.2 1512.9 V1524.2 M523.6 1512.9 V1524.2 M645 1512.9 V1524.2 M766.5 1512.9 V1524.2 M887.9 1512.9 V1524.2 M1009.3 1512.9 V1524.2 M220 1512.9 V1518.3 M341.4 1512.9 V1518.3 M462.9 1512.9 V1518.3 M584.3 1512.9 V1518.3 M705.7 1512.9 V1518.3 M827.2 1512.9 V1518.3 M948.6 1512.9 V1518.3" stroke="#222" stroke-width="2.6" fill="none" stroke-linecap="round" stroke-linejoin="round"/>
<path d="M159.2 1513 V1388" stroke="#8a4a7c" stroke-width="2.2" fill="none"/>
<path d="M159.2 1388 V1021.5" stroke="#3b3478" stroke-width="2.4" fill="none"/>
<path d="M159.8 1157.8 L160.3 1157.5 L161 1157.8 L161.8 1157.6 L162.6 1157.2 L163.6 1157.2 L164.6 1157.2 L165.6 1157 L166.7 1157 L167.7 1156.7 L168.8 1156.6 L169.8 1156.7 L170.8 1156.6 L171.7 1156.6 L172.6 1156.7 L173.5 1156.6 L174.4 1156.2 L175.3 1156.1 L176.2 1156 L177.2 1155.6 L178.1 1155.5 L179 1155.6 L179.9 1155.4 L180.9 1155.2 L181.8 1155.4 L182.7 1155.2 L183.6 1154.9 L184.6 1154.7 L185.5 1154.3 L186.4 1154.2 L187.4 1153.9 L188.3 1153.6 L189.3 1153.7 L190.2 1153.7 L191.1 1153.2 L192 1153 L192.9 1152.9 L193.8 1153 L194.6 1152.8 L195.6 1152.6 L196.6 1152.8 L197.6 1152.9 L198.5 1152.9 L199.4 1152.9 L200.4 1152.9 L201.3 1153.1 L202.2 1153.1 L203.1 1153 L204.1 1153.2 L205 1153.2 L206 1153.1 L207 1153.3 L208 1153.5 L209 1153.7 L210 1153.9 L211 1154 L211.9 1154.1 L212.8 1154.3 L213.6 1154.4 L214.4 1154.3 L215.6 1154.7 L216.6 1155.4 L217.5 1155.8 L218.3 1156.2 L219.1 1156.4 L219.9 1156.5 L220.9 1156.5 L222 1156.6 L223 1156.7 L223.9 1156.8 L224.7 1157.1 L225.3 1157.7 L225.8 1158.4 L226.1 1159 L226.5 1159.4 L227 1160 L227.6 1160.7 L228.3 1161.3 L228.9 1162.2 L229.6 1163.1 L230.2 1163.6 L230.7 1164.2 L231.2 1165.2 L231.6 1166.2 L232.1 1166.7 L232.6 1167.7 L232.9 1168.4 L233.3 1169.1 L233.6 1169.9 L234 1170.7 L234.3 1171.6 L234.7 1172.5 L235.1 1173.5 L235.4 1174.5 L235.8 1175.6 L236 1176.4 L236.3 1177.2 L236.5 1178.1 L236.8 1178.9 L237 1179.9 L237.3 1180.8 L237.5 1181.7 L237.8 1182.7 L238 1183.7 L238.2 1184.6 L238.5 1185.6 L238.7 1186.6 L238.9 1187.5 L239.1 1188.4 L239.3 1189.3 L239.5 1190.1 L239.7 1190.9 L239.9 1191.6 L240 1192.5 L240.2 1193.3 L240.4 1194.2 L240.6 1195.1 L240.7 1196.2 L240.9 1197.3 L241.1 1198.6 L241.3 1200 L241.4 1200.7 L241.5 1201.5 L241.6 1202.2 L241.7 1203 L241.8 1203.8 L241.8 1204.6 L241.9 1205.4 L242 1206.3 L242.1 1207.1 L242.2 1208 L242.3 1208.9 L242.4 1209.9 L242.5 1210.8 L242.6 1211.8 L242.7 1212.7 L242.8 1213.7 L242.8 1214.8 L242.9 1215.8 L243 1216.9 L243.1 1217.9 L243.2 1219 L243.3 1220.1 L243.5 1221.3 L243.6 1222.4 L243.7 1223.6 L243.8 1224.8 L243.9 1226 L244 1226.8 L244.1 1227.7 L244.1 1228.5 L244.2 1229.4 L244.3 1230.3 L244.4 1231.2 L244.5 1232.1 L244.5 1233 L244.6 1234 L244.7 1234.9 L244.8 1235.9 L244.9 1236.9 L245 1237.9 L245 1238.9 L245.1 1239.9 L245.2 1240.9 L245.3 1241.9 L245.4 1243 L245.5 1244 L245.6 1245 L245.7 1246.1 L245.7 1247.1 L245.8 1248.2 L245.9 1249.2 L246 1250.2 L246.1 1251.3 L246.2 1252.3 L246.3 1253.4 L246.4 1254.4 L246.5 1255.4 L246.6 1256.4 L246.7 1257.4 L246.8 1258.4 L246.9 1259.4 L247 1260.4 L247.1 1261.4 L247.2 1262.3 L247.3 1263.3 L247.4 1264.2 L247.5 1265.1 L247.6 1266 L247.7 1267.1 L247.9 1268.1 L248 1269.2 L248.1 1270.2 L248.2 1271.2 L248.4 1272.2 L248.5 1273.2 L248.6 1274.2 L248.8 1275.2 L248.9 1276.2 L249 1277.1 L249.2 1278.1 L249.3 1279 L249.4 1280 L249.6 1280.9 L249.7 1281.9 L249.8 1282.8 L250 1283.8 L250.1 1284.7 L250.3 1285.6 L250.4 1286.6 L250.6 1287.5 L250.7 1288.4 L250.9 1289.4 L251 1290.3 L251.2 1291.3 L251.3 1292.2 L251.5 1293.2 L251.6 1294.1 L251.8 1295.1 L251.9 1296 L252.1 1297 L252.2 1298 L252.4 1299 L252.6 1299.9 L252.7 1300.9 L252.9 1301.8 L253 1302.8 L253.2 1303.8 L253.3 1304.7 L253.5 1305.7 L253.6 1306.7 L253.8 1307.6 L253.9 1308.6 L254.1 1309.6 L254.3 1310.6 L254.4 1311.5 L254.6 1312.5 L254.8 1313.5 L254.9 1314.5 L255.1 1315.5 L255.2 1316.5 L255.4 1317.4 L255.6 1318.4 L255.8 1319.4 L255.9 1320.4 L256.1 1321.4 L256.3 1322.3 L256.5 1323.3 L256.7 1324.3 L256.8 1325.3 L257 1326.2 L257.2 1327.2 L257.4 1328.2 L257.6 1329.1 L257.8 1330.1 L258 1331.1 L258.2 1332 L258.4 1333 L258.6 1333.9 L258.8 1334.9 L259 1335.8 L259.3 1336.8 L259.5 1337.8 L259.7 1338.8 L259.9 1339.7 L260.2 1340.7 L260.4 1341.7 L260.6 1342.6 L260.9 1343.6 L261.1 1344.6 L261.3 1345.5 L261.6 1346.5 L261.8 1347.4 L262.1 1348.4 L262.3 1349.4 L262.6 1350.3 L262.8 1351.3 L263.1 1352.2 L263.3 1353.2 L263.6 1354.1 L263.9 1355 L264.1 1356 L264.4 1356.9 L264.6 1357.8 L264.9 1358.8 L265.2 1359.7 L265.5 1360.6 L265.7 1361.5 L266 1362.4 L266.3 1363.3 L266.6 1364.2 L266.8 1365.1 L267.1 1366 L267.4 1366.9 L267.7 1367.9 L268 1368.9 L268.4 1369.9 L268.7 1370.9 L269 1371.8 L269.4 1372.8 L269.7 1373.8 L270.1 1374.8 L270.4 1375.7 L270.8 1376.7 L271.1 1377.6 L271.5 1378.6 L271.9 1379.5 L272.2 1380.5 L272.6 1381.4 L272.9 1382.4 L273.3 1383.3 L273.7 1384.2 L274 1385.1 L274.4 1386 L274.8 1386.9 L275.1 1387.8 L275.5 1388.7 L275.9 1389.6 L276.2 1390.4 L276.6 1391.3 L277 1392.2 L277.3 1393 L277.7 1393.8 L278 1394.7 L278.4 1395.5 L278.8 1396.5 L279.3 1397.5 L279.7 1398.5 L280.2 1399.5 L280.6 1400.5 L281.1 1401.5 L281.5 1402.5 L282 1403.5 L282.5 1404.5 L282.9 1405.4 L283.4 1406.4 L283.8 1407.3 L284.3 1408.2 L284.7 1409.1 L285.2 1410 L285.6 1410.8 L286 1411.7 L286.5 1412.5 L286.9 1413.3 L287.3 1414.1 L287.8 1414.8 L288.2 1415.5 L288.6 1416.2 L289 1416.9 L289.4 1417.5 L290.2 1418.6 L290.9 1419.7 L291.6 1420.6 L292.3 1421.4 L293 1422.2 L293.7 1422.9 L294.3 1423.5 L295 1424.1 L295.6 1424.6 L296.3 1425.1 L296.9 1425.5 L297.6 1425.9 L298.2 1426.3 L299.2 1426.8 L300.2 1427.2 L301.2 1427.5 L302.1 1427.6 L303.1 1427.6 L304 1427.6 L304.9 1427.5 L305.9 1427.4 L306.7 1427.3 L307.5 1427.2 L308.3 1427 L309.1 1426.8 L310 1426.5 L310.8 1426.1 L311.7 1425.6 L312.6 1424.9 L313.6 1424.1 L314.1 1423.6 L314.7 1423 L315.2 1422.4 L315.8 1421.7 L316.4 1421 L317 1420.3 L317.6 1419.5 L318.2 1418.7 L318.8 1417.8 L319.5 1417 L320.1 1416.2 L320.7 1415.3 L321.4 1414.5 L322 1413.7 L322.6 1413 L323.3 1412.2 L323.9 1411.5 L324.5 1410.9 L325.2 1410.2 L326 1409.5 L326.7 1408.9 L327.4 1408.4 L328.2 1407.8 L328.9 1407.3 L329.6 1406.8 L330.4 1406.2 L331.1 1405.7 L331.8 1405.2 L332.6 1404.6 L333.3 1404.1 L334 1403.5 L334.8 1402.8 L335.5 1402.1 L336.1 1401.5 L336.7 1400.9 L337.3 1400.3 L337.9 1399.6 L338.6 1399 L339.2 1398.4 L339.8 1397.7 L340.4 1397 L341 1396.3 L341.6 1395.6 L342.2 1394.9 L342.8 1394.1 L343.4 1393.3 L344.1 1392.5 L344.7 1391.7 L345.3 1390.8 L345.9 1389.9 L346.5 1388.9 L346.9 1388.2 L347.4 1387.5 L347.8 1386.7 L348.3 1385.9 L348.7 1385.2 L349.1 1384.4 L349.6 1383.6 L350 1382.7 L350.5 1381.9 L350.9 1381.1 L351.3 1380.2 L351.8 1379.3 L352.2 1378.4 L352.7 1377.5 L353.1 1376.6 L353.5 1375.7 L354 1374.7 L354.4 1373.8 L354.9 1372.8 L355.3 1371.9 L355.7 1370.9 L356.2 1369.9 L356.6 1368.9 L357.1 1367.9 L357.5 1366.9 L357.9 1366.1 L358.2 1365.2 L358.6 1364.4 L358.9 1363.5 L359.3 1362.7 L359.6 1361.8 L360 1360.9 L360.3 1360 L360.7 1359.1 L361 1358.2 L361.4 1357.3 L361.8 1356.4 L362.1 1355.5 L362.5 1354.6 L362.8 1353.6 L363.2 1352.7 L363.5 1351.7 L363.9 1350.8 L364.2 1349.8 L364.6 1348.9 L365 1347.9 L365.3 1347 L365.7 1346 L366 1345 L366.4 1344.1 L366.7 1343.1 L367.1 1342.1 L367.4 1341.2 L367.8 1340.2 L368.1 1339.3 L368.5 1338.3 L368.8 1337.4 L369.2 1336.5 L369.5 1335.6 L369.8 1334.7 L370.2 1333.7 L370.5 1332.8 L370.8 1331.9 L371.2 1330.9 L371.5 1330 L371.8 1329.1 L372.2 1328.1 L372.5 1327.2 L372.8 1326.2 L373.2 1325.3 L373.5 1324.3 L373.8 1323.4 L374.2 1322.4 L374.5 1321.5 L374.8 1320.5 L375.2 1319.6 L375.5 1318.6 L375.8 1317.7 L376.2 1316.7 L376.5 1315.8 L376.8 1314.9 L377.2 1313.9 L377.5 1313 L377.8 1312.1 L378.2 1311.1 L378.5 1310.2 L378.8 1309.3 L379.2 1308.4 L379.5 1307.5 L379.9 1306.5 L380.2 1305.6 L380.6 1304.6 L380.9 1303.6 L381.3 1302.6 L381.7 1301.6 L382 1300.6 L382.4 1299.6 L382.8 1298.6 L383.1 1297.6 L383.5 1296.6 L383.9 1295.7 L384.2 1294.7 L384.6 1293.7 L385 1292.7 L385.3 1291.7 L385.7 1290.8 L386 1289.8 L386.4 1288.9 L386.8 1288 L387.1 1287.1 L387.5 1286.2 L387.8 1285.3 L388.2 1284.4 L388.5 1283.6 L388.9 1282.7 L389.2 1281.9 L389.5 1281.1 L389.9 1280.4 L390.2 1279.6 L390.5 1278.9 L391 1277.7 L391.6 1276.6 L392.1 1275.5 L392.6 1274.4 L393.2 1273.4 L393.7 1272.5 L394.2 1271.6 L394.7 1270.7 L395.2 1269.9 L395.7 1269.1 L396.1 1268.3 L396.6 1267.6 L397.1 1266.8 L397.5 1266.2 L398 1265.5 L398.4 1264.8 L398.9 1264.2 L399.3 1263.6 L400 1262.6 L400.8 1261.6 L401.4 1260.7 L402.1 1260 L402.7 1259.3 L403.4 1258.7 L404 1258.1 L404.6 1257.7 L405.2 1257.3 L405.9 1257 L406.8 1256.7 L407.8 1256.7 L408.7 1256.8 L409.7 1257.1 L410.6 1257.4 L411.6 1257.8 L412.5 1258.1 L413.3 1258.5 L414.2 1259 L415.1 1259.6 L415.9 1260.2 L416.8 1260.8 L417.6 1261.2 L418.4 1261.4 L419.1 1261.4 L419.7 1261.1 L420.3 1260.7 L420.8 1260 L421.3 1259.3 L421.8 1258.4 L422.3 1257.3 L422.9 1256.1 L423.5 1254.8 L423.8 1254.1 L424.2 1253.4 L424.5 1252.6 L424.9 1251.8 L425.3 1250.9 L425.7 1250.1 L426.1 1249.1 L426.5 1248.2 L426.9 1247.2 L427.3 1246.3 L427.7 1245.3 L428.1 1244.3 L428.5 1243.3 L428.9 1242.3 L429.3 1241.3 L429.7 1240.3 L430.1 1239.4 L430.5 1238.5 L430.8 1237.6 L431.2 1236.7 L431.6 1235.7 L432 1234.8 L432.4 1233.8 L432.8 1232.9 L433.2 1231.9 L433.5 1230.9 L433.9 1230 L434.3 1229 L434.7 1228.1 L435 1227.2 L435.4 1226.3 L435.7 1225.4 L436.1 1224.5 L436.4 1223.7 L436.7 1222.9 L437.1 1221.8 L437.5 1220.8 L437.8 1219.8 L438.1 1218.9 L438.4 1218 L438.6 1217.1 L438.9 1216.2 L439.2 1215.3 L439.5 1214.5 L439.8 1213.6 L440.2 1212.7 L440.6 1211.8 L441.1 1210.8 L441.5 1210 L442 1209.2 L442.4 1208.4 L442.9 1207.5 L443.5 1206.7 L444 1205.8 L444.5 1205 L445.1 1204.1 L445.7 1203.3 L446.2 1202.4 L446.8 1201.6 L447.4 1200.8 L448.1 1200 L448.7 1199.2 L449.3 1198.4 L449.9 1197.6 L450.5 1196.8 L451.2 1196.1 L451.9 1195.3 L452.6 1194.5 L453.4 1193.8 L454.1 1193 L454.9 1192.3 L455.6 1191.5 L456.3 1190.8 L457.1 1190.1 L457.8 1189.5 L458.5 1188.8 L459.1 1188.2 L459.8 1187.6 L460.4 1187.1 L460.9 1186.6 L461.9 1185.7 L462.6 1185.1 L463.2 1184.6 L463.8 1184.2 L464.4 1183.8 L465.3 1183.2 L466.4 1182.3 L467 1181.8 L467.6 1181.4 L468.3 1180.9 L469 1180.3 L469.7 1179.7 L470.5 1179.2 L471.3 1178.6 L472.1 1177.9 L472.9 1177.3 L473.8 1176.6 L474.6 1176 L475.5 1175.3 L476.3 1174.6 L477.2 1173.9 L478 1173.2 L478.8 1172.5 L479.6 1171.8 L480.3 1171.2 L481 1170.5 L481.7 1169.9 L482.4 1169.2 L483.1 1168.5 L483.8 1167.8 L484.5 1167.1 L485.2 1166.4 L485.9 1165.6 L486.5 1164.9 L487.2 1164.2 L487.9 1163.5 L488.6 1162.8 L489.3 1162 L490 1161.3 L490.7 1160.6 L491.4 1159.9 L492.1 1159.3 L492.8 1158.6 L493.5 1157.9 L494.3 1157.2 L495 1156.5 L495.7 1155.9 L496.5 1155.2 L497.2 1154.5 L497.9 1153.9 L498.7 1153.2 L499.4 1152.6 L500.1 1151.9 L500.9 1151.3 L501.6 1150.6 L502.3 1150 L503.1 1149.3 L503.8 1148.7 L504.5 1148 L505.3 1147.4 L506 1146.7 L506.7 1146 L507.5 1145.4 L508.2 1144.7 L508.9 1144 L509.7 1143.4 L510.4 1142.7 L511.1 1142 L511.9 1141.3 L512.6 1140.7 L513.3 1140 L514.1 1139.3 L514.8 1138.7 L515.5 1138 L516.3 1137.4 L517 1136.7 L517.7 1136.1 L518.5 1135.4 L519.2 1134.8 L520 1134.1 L520.7 1133.5 L521.5 1132.9 L522.3 1132.2 L523.1 1131.6 L523.8 1131 L524.6 1130.4 L525.4 1129.8 L526.1 1129.2 L526.9 1128.6 L527.7 1128 L528.4 1127.4 L529.2 1126.7 L530 1126.1 L530.8 1125.5 L531.5 1124.9 L532.3 1124.3 L533.1 1123.7 L533.8 1123 L534.6 1122.4 L535.4 1121.7 L536.2 1121.1 L537 1120.4 L537.7 1119.7 L538.5 1119.1 L539.3 1118.4 L540.1 1117.8 L540.8 1117.1 L541.6 1116.5 L542.4 1115.9 L543.2 1115.3 L543.9 1114.8 L544.7 1114.2 L545.5 1113.7 L546.4 1113.1 L547.3 1112.6 L548.1 1112.1 L549 1111.7 L549.9 1111.2 L550.8 1110.8 L551.7 1110.4 L552.5 1109.9 L553.4 1109.5 L554.3 1109.2 L555.2 1108.8 L556.1 1108.4 L556.9 1107.9 L557.8 1107.5 L558.7 1107.1 L559.6 1106.7 L560.5 1106.2 L561.3 1105.7 L562.2 1105.3 L563.1 1104.8 L564 1104.3 L564.9 1103.9 L565.7 1103.4 L566.6 1102.9 L567.5 1102.5 L568.4 1102.1 L569.3 1101.6 L570.1 1101.2 L571 1100.9 L571.9 1100.5 L572.8 1100.1 L573.8 1099.8 L574.7 1099.5 L575.7 1099.2 L576.6 1098.9 L577.6 1098.6 L578.5 1098.3 L579.4 1098 L580.4 1097.8 L581.3 1097.5 L582.3 1097.3 L583.2 1097.1 L584.2 1096.8 L585.1 1096.6 L586 1096.4 L587 1096.2 L587.9 1095.9 L588.9 1095.7 L589.8 1095.5 L590.8 1095.4 L591.7 1095.2 L592.6 1095 L593.6 1094.8 L594.5 1094.6 L595.5 1094.5 L596.4 1094.3 L597.4 1094.1 L598.3 1093.9 L599.2 1093.7 L600.2 1093.4 L601.1 1093.6 L602.1 1093.6 L603 1093.1 L604 1092.7 L604.9 1092.7 L605.8 1092.5 L606.8 1092.1 L607.7 1092 L608.7 1092.2 L609.6 1091.9 L610.6 1091.4 L611.5 1091.1 L612.4 1091 L613.4 1090.8 L614.3 1090.9 L615.3 1090.7 L616.2 1090.2 L617.2 1090.2 L618.1 1090 L619 1089.7 L620 1089.7 L620.9 1089.5 L621.9 1088.9 L622.8 1088.3 L623.8 1088.1 L624.7 1088.1 L625.6 1087.6 L626.5 1087.1 L627.3 1086.9 L628.2 1086.5 L629.1 1085.9 L630 1085.5 L630.9 1085.1 L631.7 1084.6 L632.6 1084.4 L633.5 1084.2 L634.4 1083.6 L635.3 1083.1 L636.1 1082.7 L637 1082.4 L637.9 1082.1 L638.8 1081.8 L639.7 1081.3 L640.5 1081 L641.4 1080.6 L642.3 1080.2 L643.2 1079.4 L644.1 1078.8 L644.9 1078.5 L645.8 1078.1 L646.7 1077.8 L647.6 1077.5 L648.5 1076.7 L649.3 1076.2 L650.2 1076 L651.1 1075.9 L652 1075.4 L652.9 1074.8 L653.7 1074.4 L654.6 1073.9 L655.5 1073.4 L656.4 1073.3 L657.3 1072.9 L658.1 1072.2 L659 1071.8 L659.9 1071.6 L660.8 1071 L661.7 1070.3 L662.5 1069.8 L663.4 1069.6 L664.3 1069.4 L665.2 1069.3 L666.2 1069.3 L667.2 1069.1 L668.2 1068.8 L669.1 1068.4 L670.1 1067.8 L671.1 1067.6 L672 1067.8 L673 1067.8 L673.9 1067.7 L674.9 1067.3 L675.8 1066.8 L676.6 1066.8 L677.5 1066.9 L678.6 1066.8 L679.6 1066.6 L680.7 1066.8 L681.7 1066.9 L682.7 1066.8 L683.6 1066.9 L684.6 1067.2 L685.5 1067.3 L686.4 1067.5 L687.2 1068 L688 1068.5 L688.6 1069.2 L689.2 1070.1 L689.8 1070.9 L690.4 1071.3 L690.9 1072.1 L691.4 1072.9 L691.9 1073.7 L692.3 1074.6 L692.8 1075.5 L693.2 1076.4 L693.7 1077.4 L694.1 1078.4 L694.6 1079.4 L694.9 1080.2 L695.3 1081 L695.6 1081.9 L696 1082.7 L696.3 1083.6 L696.6 1084.5 L696.9 1085.4 L697.3 1086.4 L697.6 1087.3 L697.9 1088.3 L698.2 1089.3 L698.5 1090.3 L698.8 1091.3 L699.1 1092.3 L699.3 1093.3 L699.6 1094.3 L699.9 1095.3 L700.1 1096.2 L700.4 1097.2 L700.6 1098.2 L700.9 1099.3 L701.1 1100.3 L701.3 1101.4 L701.5 1102.5 L701.7 1103.6 L702 1104.7 L702.2 1105.8 L702.4 1106.8 L702.6 1107.9 L702.8 1108.9 L703 1109.8 L703.2 1110.7 L703.4 1111.6 L703.5 1112.4 L703.7 1113.1 L703.9 1113.7 L704.5 1115.7 L705 1117.2 L705.4 1118.1 L705.9 1118.3 L706.5 1117.7 L706.7 1117.3 L706.9 1116.8 L707.1 1116.1 L707.4 1115.4 L707.6 1114.5 L707.8 1113.6 L708 1112.6 L708.3 1111.6 L708.5 1110.5 L708.8 1109.5 L709 1108.4 L709.3 1107.3 L709.6 1106.2 L709.8 1105.1 L710.1 1104.1 L710.4 1103.2 L710.7 1102.2 L711 1101.2 L711.3 1100.1 L711.6 1099 L712 1097.8 L712.3 1096.6 L712.7 1095.5 L713 1094.3 L713.3 1093.3 L713.7 1092.2 L714 1091.3 L714.4 1090.5 L714.7 1089.8 L715 1089.3 L715.3 1088.9 L715.6 1088.7 L716 1088.7 L716.3 1088.8 L716.7 1089.1 L717 1089.6 L717.3 1090.2 L717.6 1091.1 L718 1092.1 L718.3 1093.3 L718.6 1094.7 L718.9 1096.3 L719.2 1098 L719.5 1100 L719.6 1100.6 L719.7 1101.3 L719.8 1102 L719.9 1102.7 L720 1103.5 L720.1 1104.3 L720.2 1105.1 L720.3 1105.9 L720.4 1106.7 L720.5 1107.6 L720.6 1108.5 L720.6 1109.4 L720.7 1110.3 L720.8 1111.2 L720.9 1112.2 L721 1113.2 L721.1 1114.2 L721.2 1115.2 L721.3 1116.2 L721.4 1117.2 L721.5 1118.2 L721.6 1119.3 L721.7 1120.3 L721.8 1121.4 L721.9 1122.5 L722 1123.6 L722.1 1124.7 L722.1 1125.8 L722.2 1126.9 L722.3 1128 L722.4 1129.1 L722.5 1130.2 L722.6 1131.3 L722.7 1132.4 L722.8 1133.5 L722.9 1134.7 L723 1135.8 L723.1 1136.9 L723.2 1138 L723.3 1138.9 L723.4 1139.8 L723.4 1140.7 L723.5 1141.6 L723.6 1142.5 L723.7 1143.4 L723.7 1144.4 L723.8 1145.3 L723.9 1146.3 L724 1147.2 L724.1 1148.2 L724.1 1149.1 L724.2 1150.1 L724.3 1151.1 L724.4 1152 L724.5 1153 L724.5 1154 L724.6 1155 L724.7 1156 L724.8 1157 L724.9 1158 L724.9 1159 L725 1160 L725.1 1161 L725.2 1162.1 L725.3 1163.1 L725.3 1164.1 L725.4 1165.1 L725.5 1166.1 L725.6 1167.2 L725.7 1168.2 L725.7 1169.2 L725.8 1170.2 L725.9 1171.2 L726 1172.3 L726.1 1173.3 L726.1 1174.3 L726.2 1175.3 L726.3 1176.4 L726.4 1177.4 L726.5 1178.4 L726.5 1179.4 L726.6 1180.4 L726.7 1181.4 L726.8 1182.4 L726.9 1183.4 L726.9 1184.4 L727 1185.4 L727.1 1186.4 L727.2 1187.4 L727.3 1188.4 L727.3 1189.4 L727.4 1190.4 L727.5 1191.4 L727.6 1192.4 L727.6 1193.4 L727.7 1194.5 L727.8 1195.5 L727.9 1196.5 L728 1197.6 L728 1198.6 L728.1 1199.6 L728.2 1200.7 L728.3 1201.7 L728.3 1202.8 L728.4 1203.8 L728.5 1204.8 L728.6 1205.9 L728.7 1206.9 L728.7 1208 L728.8 1209 L728.9 1210 L729 1211.1 L729 1212.1 L729.1 1213.1 L729.2 1214.1 L729.3 1215.1 L729.3 1216.2 L729.4 1217.2 L729.5 1218.2 L729.6 1219.2 L729.7 1220.1 L729.7 1221.1 L729.8 1222.1 L729.9 1223.1 L730 1224 L730 1225 L730.1 1225.9 L730.2 1226.9 L730.3 1227.8 L730.4 1228.7 L730.4 1229.6 L730.5 1230.5 L730.6 1231.4 L730.7 1232.3 L730.7 1233.1 L730.8 1234 L730.9 1234.8 L731 1236 L731.1 1237.2 L731.2 1238.4 L731.4 1239.5 L731.5 1240.7 L731.6 1241.8 L731.7 1243 L731.8 1244.1 L732 1245.2 L732.1 1246.3 L732.2 1247.4 L732.3 1248.5 L732.4 1249.6 L732.5 1250.6 L732.7 1251.6 L732.8 1252.7 L732.9 1253.7 L733 1254.7 L733.1 1255.6 L733.3 1256.6 L733.4 1257.5 L733.5 1258.4 L733.6 1259.3 L733.7 1260.2 L733.8 1261.1 L733.9 1261.9 L734.1 1262.7 L734.2 1263.5 L734.3 1264.2 L734.4 1265 L734.5 1265.7 L734.6 1266.4 L734.7 1267.1 L734.8 1267.7 L735.1 1269.5 L735.4 1271.2 L735.7 1272.6 L735.9 1273.8 L736.2 1274.9 L736.4 1275.7 L736.7 1276.4 L736.9 1276.9 L737.2 1277.2 L737.4 1277.4 L737.7 1277.4 L737.9 1277.3 L738.2 1277 L738.4 1276.7 L738.6 1276.2 L738.9 1275.6 L739.1 1274.8 L739.3 1273.8 L739.6 1272.6 L739.8 1271.2 L740.1 1269.7 L740.3 1267.9 L740.6 1265.8 L740.7 1265.2 L740.8 1264.5 L740.9 1263.8 L740.9 1263.1 L741 1262.3 L741.1 1261.6 L741.2 1260.8 L741.3 1260 L741.4 1259.1 L741.5 1258.3 L741.6 1257.4 L741.7 1256.5 L741.8 1255.6 L741.9 1254.7 L742 1253.8 L742.1 1252.8 L742.2 1251.9 L742.3 1250.9 L742.4 1249.9 L742.5 1248.9 L742.6 1247.8 L742.7 1246.8 L742.8 1245.7 L742.9 1244.7 L743 1243.6 L743.1 1242.5 L743.2 1241.4 L743.3 1240.3 L743.4 1239.2 L743.5 1238 L743.6 1236.9 L743.7 1235.7 L743.8 1234.6 L743.9 1233.4 L744 1232.2 L744.1 1231.1 L744.2 1229.9 L744.2 1228.7 L744.3 1227.5 L744.4 1226.3 L744.5 1225.1 L744.6 1224.3 L744.6 1223.4 L744.7 1222.5 L744.7 1221.7 L744.8 1220.8 L744.8 1219.9 L744.9 1218.9 L745 1218 L745 1217.1 L745.1 1216.2 L745.1 1215.2 L745.2 1214.2 L745.2 1213.3 L745.3 1212.3 L745.3 1211.3 L745.4 1210.3 L745.4 1209.3 L745.5 1208.3 L745.5 1207.3 L745.6 1206.3 L745.6 1205.3 L745.7 1204.3 L745.7 1203.2 L745.8 1202.2 L745.8 1201.2 L745.9 1200.1 L745.9 1199.1 L746 1198.1 L746 1197 L746.1 1196 L746.1 1194.9 L746.2 1193.9 L746.2 1192.8 L746.3 1191.8 L746.3 1190.8 L746.4 1189.7 L746.4 1188.7 L746.5 1187.6 L746.5 1186.6 L746.6 1185.6 L746.6 1184.6 L746.7 1183.5 L746.7 1182.5 L746.7 1181.5 L746.8 1180.5 L746.8 1179.5 L746.9 1178.5 L746.9 1177.5 L747 1176.5 L747 1175.5 L747.1 1174.5 L747.1 1173.6 L747.1 1172.6 L747.2 1171.7 L747.2 1170.7 L747.3 1169.8 L747.3 1168.9 L747.4 1168 L747.4 1167.1 L747.5 1166 L747.5 1164.9 L747.6 1163.8 L747.6 1162.7 L747.7 1161.6 L747.7 1160.6 L747.7 1159.5 L747.8 1158.4 L747.8 1157.3 L747.9 1156.2 L747.9 1155.2 L748 1154.1 L748 1153 L748.1 1152 L748.1 1150.9 L748.1 1149.9 L748.2 1148.8 L748.2 1147.8 L748.3 1146.8 L748.3 1145.7 L748.4 1144.7 L748.4 1143.7 L748.4 1142.7 L748.5 1141.7 L748.5 1140.7 L748.6 1139.7 L748.6 1138.7 L748.6 1137.7 L748.7 1136.7 L748.7 1135.8 L748.8 1134.8 L748.8 1133.9 L748.8 1132.9 L748.9 1132 L748.9 1131.1 L749 1130.2 L749 1129.3 L749.1 1128.4 L749.1 1127.5 L749.1 1126.6 L749.2 1125.8 L749.2 1124.9 L749.3 1124.1 L749.3 1123.2 L749.4 1122.4 L749.4 1121.6 L749.5 1120.8 L749.5 1120 L749.6 1118.7 L749.7 1117.4 L749.7 1116.2 L749.8 1114.9 L749.9 1113.7 L750 1112.5 L750 1111.3 L750.1 1110.1 L750.2 1109 L750.3 1107.9 L750.4 1106.8 L750.4 1105.7 L750.5 1104.6 L750.6 1103.6 L750.7 1102.6 L750.8 1101.6 L750.8 1100.7 L750.9 1099.8 L751 1098.9 L751.1 1098 L751.2 1097.2 L751.3 1096.4 L751.3 1095.7 L751.4 1095 L751.5 1094.3 L751.6 1093.7 L751.7 1093.1 L751.8 1092.5 L751.9 1092 L752.7 1090.1 L753.5 1090.4 L754.3 1091.4 L755.1 1091.6 L755.5 1091.2 L755.9 1090.8 L756.3 1090.4 L756.7 1089.8 L757.1 1088.9 L757.5 1087.7 L758 1086 L758.2 1085.4 L758.3 1084.7 L758.5 1083.9 L758.7 1083.2 L758.9 1082.3 L759.1 1081.5 L759.3 1080.6 L759.5 1079.6 L759.6 1078.7 L759.8 1077.7 L760 1076.7 L760.3 1075.6 L760.5 1074.6 L760.7 1073.5 L760.9 1072.4 L761.1 1071.3 L761.3 1070.2 L761.5 1069.1 L761.7 1068 L762 1066.9 L762.2 1065.8 L762.4 1064.7 L762.6 1063.8 L762.8 1062.8 L763 1061.8 L763.2 1060.7 L763.4 1059.6 L763.6 1058.5 L763.8 1057.3 L764 1056.2 L764.2 1055 L764.4 1053.8 L764.6 1052.6 L764.8 1051.4 L765 1050.2 L765.3 1049 L765.5 1047.9 L765.7 1046.8 L765.9 1045.7 L766.1 1044.7 L766.3 1043.7 L766.5 1042.8 L766.7 1041.9 L766.9 1041.1 L767 1040.4 L767.2 1039.7 L767.4 1039.2 L767.5 1038.7 L767.7 1038.3 L768.1 1037.6 L768.4 1037.1 L768.7 1037 L768.9 1037.2 L769.2 1037.8 L769.4 1038.7 L769.6 1040.1 L769.9 1042 L770.1 1044.3 L770.4 1047.1 L770.5 1047.7 L770.5 1048.3 L770.6 1049 L770.6 1049.7 L770.7 1050.5 L770.8 1051.3 L770.8 1052.1 L770.9 1052.9 L771 1053.8 L771 1054.7 L771.1 1055.6 L771.2 1056.6 L771.2 1057.5 L771.3 1058.5 L771.4 1059.5 L771.5 1060.6 L771.5 1061.6 L771.6 1062.7 L771.7 1063.8 L771.7 1064.9 L771.8 1066 L771.9 1067.1 L772 1068.2 L772 1069.4 L772.1 1070.5 L772.2 1071.7 L772.3 1072.8 L772.3 1074 L772.4 1075.2 L772.5 1076.3 L772.5 1077.5 L772.6 1078.6 L772.7 1079.8 L772.8 1081 L772.8 1082.1 L772.9 1083.2 L773 1084.3 L773 1085.5 L773.1 1086.6 L773.2 1087.6 L773.2 1088.7 L773.3 1089.8 L773.3 1090.8 L773.4 1091.8 L773.5 1092.8 L773.5 1093.8 L773.6 1094.8 L773.6 1095.7 L773.7 1096.6 L773.7 1097.5 L773.8 1098.3 L773.9 1099.1 L773.9 1099.9 L774 1101.3 L774.1 1102.6 L774.1 1103.8 L774.2 1105 L774.3 1106.1 L774.3 1107.2 L774.4 1108.2 L774.4 1109.2 L774.5 1110.2 L774.5 1111.1 L774.6 1112 L774.6 1112.9 L774.7 1113.8 L774.7 1114.6 L774.8 1115.4 L774.8 1116.3 L774.8 1117.1 L774.9 1117.9 L774.9 1118.8 L775 1119.6 L775 1120.5 L775.1 1121.3 L775.1 1122.3 L775.2 1123.2 L775.2 1124.1 L775.3 1125.1 L775.4 1126.2 L775.4 1127.3 L775.5 1128.4 L775.6 1129.3 L775.6 1130.2 L775.7 1131.1 L775.8 1132.1 L775.8 1133.1 L775.9 1134.1 L776 1135.1 L776 1136.2 L776.1 1137.2 L776.2 1138.3 L776.3 1139.4 L776.3 1140.5 L776.4 1141.7 L776.5 1142.8 L776.6 1143.9 L776.7 1145 L776.8 1146.2 L776.8 1147.3 L776.9 1148.4 L777 1149.5 L777.1 1150.7 L777.2 1151.8 L777.3 1152.9 L777.3 1153.9 L777.4 1155 L777.5 1156 L777.6 1157.1 L777.7 1158.1 L777.7 1159.1 L777.8 1160 L777.9 1160.9 L778 1161.8 L778 1162.7 L778.1 1163.5 L778.2 1164.3 L778.2 1165.1 L778.3 1165.8 L778.3 1166.5 L778.4 1167.1 L778.6 1169.5 L778.8 1171.6 L778.9 1173.2 L779 1174.5 L779.1 1175.4 L779.2 1176 L779.4 1176.3 L779.5 1176.2 L779.7 1175.8 L779.8 1175.5 L779.9 1175 L780 1174.4 L780.1 1173.7 L780.3 1172.8 L780.4 1171.9 L780.5 1170.9 L780.6 1169.8 L780.8 1168.7 L780.9 1167.5 L781.1 1166.3 L781.2 1165.1 L781.3 1163.9 L781.5 1162.7 L781.6 1161.6 L781.8 1160.4 L781.9 1159.3 L782.1 1158.3 L782.2 1157.4 L782.4 1156.3 L782.5 1155.2 L782.7 1154 L782.9 1152.8 L783 1151.7 L783.2 1150.5 L783.3 1149.3 L783.5 1148.2 L783.7 1147.1 L783.8 1146.1 L784 1145.1 L784.2 1144.3 L784.4 1143.5 L784.6 1142.8 L784.9 1142.3 L785.1 1141.9 L785.7 1141.5 L786.4 1141.9 L787.1 1142.7 L787.9 1143.8 L788.6 1145 L789.3 1146 L790 1146.8 L790.9 1147.2 L791.7 1147.2 L792.5 1147.3 L793.2 1148 L793.8 1149.7 L793.9 1150.3 L794 1151 L794.1 1151.9 L794.1 1152.8 L794.2 1153.9 L794.3 1154.9 L794.3 1156.1 L794.3 1157.3 L794.4 1158.5 L794.4 1159.7 L794.4 1161 L794.4 1162.2 L794.5 1163.4 L794.5 1164.5 L794.5 1165.7 L794.5 1166.7 L794.6 1167.7 L794.6 1168.6 L794.6 1169.3 L794.7 1170 L794.7 1170.5 L794.8 1170.9 L795 1171.3 L795.2 1170.8 L795.4 1169.8 L795.6 1168.4 L795.8 1166.8 L796.1 1165.3 L796.4 1164 L796.7 1163.2 L797.5 1162.5 L798.5 1162.4 L799.5 1162.6 L800.6 1163.2 L801.2 1163.7 L801.7 1164.6 L802.3 1165.5 L802.9 1166.6 L803.6 1167.6 L804.2 1168.4 L804.8 1168.9 L805.4 1169 L805.9 1168.8 L806.4 1168.5 L806.8 1168.1 L807.3 1167.5 L807.8 1166.8 L808.3 1166 L808.8 1165 L809.3 1163.9 L809.8 1162.7 L810.3 1161.3 L810.5 1160.6 L810.8 1159.9 L811 1159.1 L811.3 1158.2 L811.5 1157.2 L811.8 1156.2 L812.1 1155.2 L812.3 1154.2 L812.6 1153.1 L812.9 1152 L813.1 1150.9 L813.4 1149.8 L813.7 1148.7 L813.9 1147.6 L814.2 1146.6 L814.4 1145.6 L814.7 1144.6 L814.9 1143.7 L815.2 1142.8 L815.4 1142 L815.7 1141.2 L815.9 1140.6 L816.1 1140 L817 1137.9 L817.7 1136.6 L818.4 1136 L819.1 1136.2 L820 1137.1 L820.3 1137.5 L820.6 1138.1 L820.9 1138.8 L821.2 1139.6 L821.5 1140.5 L821.9 1141.5 L822.2 1142.5 L822.6 1143.6 L822.9 1144.7 L823.3 1145.8 L823.6 1146.9 L823.9 1148 L824.3 1149.1 L824.6 1150.1 L824.9 1151.1 L825.2 1152 L825.5 1152.8 L825.8 1153.5 L826.4 1155 L826.9 1156.4 L827.3 1157.7 L827.8 1158.9 L828.2 1159.8 L828.6 1160.4 L829.1 1160.6 L829.6 1160.3 L829.9 1159.9 L830.2 1159.4 L830.5 1158.7 L830.8 1157.9 L831.1 1156.9 L831.4 1155.9 L831.7 1154.8 L832 1153.6 L832.3 1152.5 L832.6 1151.3 L833 1150.1 L833.3 1149 L833.6 1147.9 L833.9 1146.9 L834.2 1146 L834.5 1145.2 L835 1144 L835.6 1143 L836.1 1142.2 L836.7 1141.4 L837.2 1140.7 L837.7 1140 L838.2 1139.3 L838.6 1138.5 L839 1137.6 L839.3 1136.8 L839.6 1135.9 L839.8 1135 L840 1134.1 L840.2 1133.2 L840.4 1132.3 L840.6 1131.3 L840.7 1130.4 L841 1129.4 L841.2 1128.4 L841.4 1127.5 L841.7 1126.4 L841.9 1125.2 L842.1 1123.9 L842.4 1122.6 L842.6 1121.4 L842.9 1120.2 L843.2 1119.2 L843.4 1118.4 L843.7 1117.8 L843.9 1117.5 L844.2 1117.5 L844.4 1117.7 L844.6 1118 L844.8 1118.5 L845 1119 L845.2 1119.7 L845.4 1120.4 L845.6 1121.3 L845.8 1122.3 L846 1123.3 L846.2 1124.5 L846.4 1125.7 L846.6 1127 L846.8 1128.4 L847 1129.9 L847.1 1131.5 L847.3 1133.1 L847.4 1133.8 L847.4 1134.6 L847.5 1135.4 L847.6 1136.2 L847.6 1137.1 L847.7 1138 L847.8 1138.9 L847.8 1139.8 L847.9 1140.8 L848 1141.8 L848 1142.8 L848.1 1143.8 L848.1 1144.9 L848.2 1145.9 L848.3 1147 L848.3 1148.1 L848.4 1149.2 L848.4 1150.3 L848.5 1151.4 L848.6 1152.5 L848.6 1153.6 L848.7 1154.7 L848.7 1155.9 L848.8 1157 L848.8 1158.1 L848.9 1159.1 L849 1160.2 L849 1161.3 L849.1 1162.3 L849.1 1163.4 L849.2 1164.4 L849.2 1165.4 L849.3 1166.3 L849.4 1167.3 L849.4 1168.2 L849.5 1169.1 L849.5 1170 L849.6 1170.8 L849.7 1172 L849.8 1173.3 L849.9 1174.5 L850 1175.7 L850 1176.9 L850.1 1178 L850.2 1179.2 L850.3 1180.3 L850.4 1181.4 L850.5 1182.5 L850.5 1183.6 L850.6 1184.7 L850.7 1185.7 L850.8 1186.6 L850.9 1187.6 L851 1188.5 L851.1 1189.4 L851.2 1190.3 L851.3 1191.1 L851.4 1191.8 L851.5 1192.6 L851.6 1193.2 L851.7 1193.9 L851.8 1194.5 L851.9 1195 L852.7 1196.7 L853.7 1196.5 L854.7 1195.9 L855.6 1196.5 L855.9 1197 L856.1 1197.6 L856.3 1198.2 L856.6 1198.8 L856.8 1199.5 L857 1200.3 L857.3 1201.1 L857.5 1202.1 L857.7 1203.1 L858 1204.3 L858.2 1205.5 L858.4 1207 L858.7 1208.5 L858.8 1209.2 L858.9 1210 L859 1210.8 L859.1 1211.7 L859.3 1212.7 L859.4 1213.7 L859.5 1214.7 L859.6 1215.8 L859.7 1216.9 L859.8 1218 L860 1219.2 L860.1 1220.3 L860.2 1221.5 L860.3 1222.7 L860.4 1223.9 L860.6 1225 L860.7 1226.2 L860.8 1227.3 L860.9 1228.5 L861.1 1229.6 L861.2 1230.7 L861.3 1231.7 L861.4 1232.7 L861.5 1233.7 L861.7 1234.6 L861.8 1235.4 L861.9 1236.2 L862 1237 L862.2 1237.6 L862.3 1238.2 L862.4 1238.7 L863.2 1240.3 L863.9 1239.9 L864.7 1238.6 L865.4 1237.3 L866.2 1237.2 L866.6 1237.7 L867 1238.5 L867.3 1239.5 L867.7 1240.6 L868.1 1241.7 L868.5 1242.9 L868.9 1244 L869.2 1244.9 L869.6 1245.7 L870 1246.2 L870.7 1246.2 L871.4 1245.2 L872.1 1244 L872.9 1243.4 L873.7 1244 L873.9 1244.5 L874.2 1245.2 L874.5 1246 L874.7 1246.9 L875 1248 L875.3 1249.1 L875.6 1250.3 L875.9 1251.6 L876.2 1252.8 L876.5 1254.1 L876.8 1255.3 L877.1 1256.5 L877.4 1257.6 L877.7 1258.6 L878 1259.4 L878.2 1260.2 L878.5 1260.7 L878.8 1261.1 L879 1261.3 L879.3 1261.3 L879.5 1261.3 L879.8 1261.1 L880.1 1260.9 L880.3 1260.5 L880.5 1260 L880.8 1259.4 L881 1258.6 L881.2 1257.7 L881.4 1256.6 L881.7 1255.3 L881.9 1253.9 L882.1 1252.3 L882.3 1250.5 L882.6 1248.4 L882.8 1246.2 L882.9 1245.6 L882.9 1244.9 L883 1244.2 L883 1243.5 L883.1 1242.8 L883.2 1242.1 L883.2 1241.3 L883.3 1240.5 L883.3 1239.7 L883.4 1238.9 L883.5 1238.1 L883.5 1237.2 L883.6 1236.3 L883.6 1235.4 L883.7 1234.5 L883.8 1233.6 L883.8 1232.7 L883.9 1231.7 L883.9 1230.8 L884 1229.8 L884.1 1228.8 L884.1 1227.8 L884.2 1226.8 L884.2 1225.7 L884.3 1224.7 L884.3 1223.7 L884.4 1222.6 L884.5 1221.6 L884.5 1220.5 L884.6 1219.4 L884.6 1218.3 L884.7 1217.2 L884.8 1216.2 L884.8 1215.1 L884.9 1214 L884.9 1212.9 L885 1211.7 L885.1 1210.6 L885.1 1209.5 L885.2 1208.4 L885.3 1207.3 L885.3 1206.2 L885.4 1205.1 L885.4 1204 L885.5 1202.9 L885.6 1201.8 L885.6 1200.7 L885.7 1199.6 L885.8 1198.5 L885.8 1197.4 L885.9 1196.3 L886 1195.2 L886 1194.1 L886.1 1193.1 L886.2 1192 L886.2 1191 L886.3 1189.9 L886.4 1188.9 L886.5 1187.9 L886.5 1186.9 L886.6 1185.9 L886.7 1184.9 L886.7 1183.9 L886.8 1182.9 L886.9 1181.9 L887 1180.9 L887.1 1179.9 L887.1 1178.9 L887.2 1177.9 L887.3 1176.9 L887.4 1175.8 L887.4 1174.8 L887.5 1173.8 L887.6 1172.8 L887.7 1171.8 L887.8 1170.7 L887.8 1169.7 L887.9 1168.7 L888 1167.6 L888.1 1166.6 L888.2 1165.6 L888.3 1164.6 L888.3 1163.5 L888.4 1162.5 L888.5 1161.5 L888.6 1160.4 L888.7 1159.4 L888.8 1158.4 L888.8 1157.4 L888.9 1156.3 L889 1155.3 L889.1 1154.3 L889.2 1153.3 L889.3 1152.3 L889.4 1151.3 L889.4 1150.2 L889.5 1149.2 L889.6 1148.2 L889.7 1147.2 L889.8 1146.2 L889.9 1145.2 L890 1144.3 L890.1 1143.3 L890.2 1142.3 L890.2 1141.3 L890.3 1140.3 L890.4 1139.4 L890.5 1138.4 L890.6 1137.5 L890.7 1136.5 L890.8 1135.6 L890.9 1134.6 L891 1133.7 L891.1 1132.8 L891.2 1131.8 L891.2 1130.9 L891.3 1130 L891.4 1129.1 L891.5 1128.2 L891.6 1127.3 L891.7 1126.5 L891.8 1125.6 L891.9 1124.5 L892 1123.3 L892.2 1122.2 L892.3 1121.1 L892.4 1120 L892.6 1118.9 L892.7 1117.8 L892.8 1116.7 L893 1115.7 L893.1 1114.6 L893.2 1113.6 L893.4 1112.5 L893.5 1111.5 L893.6 1110.5 L893.8 1109.4 L893.9 1108.4 L894.1 1107.4 L894.2 1106.4 L894.3 1105.4 L894.5 1104.5 L894.6 1103.5 L894.8 1102.5 L894.9 1101.5 L895 1100.6 L895.2 1099.6 L895.3 1098.7 L895.4 1097.7 L895.6 1096.8 L895.7 1095.8 L895.9 1094.9 L896 1094 L896.1 1093 L896.3 1092.1 L896.4 1091.2 L896.5 1090.3 L896.7 1089.4 L896.8 1088.5 L896.9 1087.5 L897.1 1086.6 L897.2 1085.7 L897.3 1084.8 L897.4 1083.9 L897.5 1083 L897.7 1082.1 L897.8 1081.2 L897.9 1080.3 L898 1079.2 L898.2 1078.1 L898.3 1077 L898.4 1075.9 L898.6 1074.7 L898.7 1073.6 L898.8 1072.5 L899 1071.4 L899.1 1070.2 L899.2 1069.1 L899.3 1068 L899.5 1066.8 L899.6 1065.7 L899.7 1064.6 L899.8 1063.5 L899.9 1062.4 L900.1 1061.1 L900.2 1059.8 L900.3 1058.8 L900.4 1057.8 L900.5 1056.8 L900.6 1055.9 L900.7 1055 L900.9 1054 L901 1053.3 L901.1 1052.4 L901.2 1051.4 L901.3 1050.4 L901.4 1049.5 L901.5 1048.8 L901.6 1047.8 L901.7 1047 L901.9 1046.2 L902 1045.2 L902.1 1044.4 L902.2 1043.6 L902.3 1042.9 L902.4 1042.3 L902.8 1040.5 L903.2 1039.3 L903.6 1038 L903.9 1036.8 L904.3 1036.3 L904.7 1036 L905 1035.5 L905.4 1035.3 L905.8 1034.7 L906.2 1033.9 L906.9 1033 L907.7 1032.6 L908.5 1032.2 L909.3 1031.6 L910 1031 L910.7 1030.5 L911.6 1030.7 L912.3 1031.6 L913 1032.4 L913.7 1032.9 L914.4 1032.7 L915.1 1032.1 L915.9 1031.7 L916.7 1031.6 L917.4 1031.8 L918.2 1031.7 L918.9 1031.7 L919.7 1032.2 L920.5 1033.6 L920.7 1034.2 L920.9 1035.1 L921.1 1035.7 L921.3 1036.4 L921.6 1037.5 L921.8 1038.7 L922 1039.8 L922.2 1040.7 L922.4 1041.3 L922.6 1042 L922.8 1042.9 L923 1043.9 L923.3 1045.2 L923.5 1046.4 L923.7 1047.3 L923.9 1048.3 L924.1 1049.4 L924.3 1050.1 L924.6 1051.3 L924.9 1052.5 L925.1 1053.4 L925.4 1054.3 L925.7 1055.3 L925.9 1056.2 L926.2 1057.2 L926.5 1058.6 L926.8 1059.8 L927.1 1060.4 L927.4 1060.8 L927.7 1061.3 L928 1062 L928.6 1062.9 L929.3 1063.6 L930 1064.2 L930.7 1064.9 L931.5 1065.4 L932.3 1065.7 L933.1 1066.2 L933.6 1066.6 L934.1 1067.3 L934.6 1068.1 L935.1 1068.8 L935.6 1069.4 L936.1 1070.1 L936.7 1070.6 L937.2 1071.5 L937.8 1072.6 L938.3 1073.5 L938.8 1074.7 L939.4 1075.7 L939.9 1076.3 L940.3 1076.9 L940.7 1077.9 L941.1 1078.6 L941.5 1079.4 L941.9 1080.5 L942.3 1081.5 L942.7 1082.5 L943 1083.5 L943.4 1084.7 L943.8 1085.8 L944.2 1086.6 L944.6 1087.8 L945 1088.8 L945.3 1089.6 L945.7 1090.2 L946 1090.7 L946.4 1091.3 L946.7 1092.1 L947.4 1093.4 L948.1 1094 L948.7 1094.2 L949.2 1094.6 L949.8 1095 L950.5 1095.7 L951.2 1096.8 L951.5 1097.3 L951.8 1098.1 L952.1 1098.7 L952.4 1099.4 L952.7 1100.7 L953 1101.6 L953.4 1102.2 L953.7 1102.9 L954 1104.2 L954.4 1105.6 L954.7 1106.5 L955.1 1107.3 L955.4 1108.5 L955.8 1109.7 L956.2 1110.7 L956.5 1111.6 L956.9 1112.4 L957.3 1113.1 L957.6 1114 L958 1114.8 L958.5 1115.7 L958.9 1116.5 L959.4 1117.3 L959.9 1118 L960.4 1118.7 L960.8 1119.5 L961.3 1120.3 L961.8 1121.1 L962.3 1121.9 L962.8 1123 L963.3 1124.1 L963.8 1124.8 L964.3 1125.3 L964.9 1126.3 L965.4 1127.6 L965.9 1128.5 L966.3 1128.9 L966.7 1129.6 L967.1 1130.6 L967.6 1131.5 L968 1132.6 L968.5 1133.9 L968.9 1135 L969.3 1135.8 L969.8 1136.8 L970.2 1137.8 L970.7 1138.8 L971.1 1139.5 L971.6 1140.2 L972 1141.1 L972.5 1142 L972.9 1142.7 L973.3 1143.6 L973.7 1144.5 L974.1 1145 L974.5 1145.8 L974.9 1146.8 L975.7 1148 L976.5 1148.6 L977.2 1149 L977.8 1149.5 L978.5 1150 L979.2 1150.5 L979.9 1150.9 L980.8 1151.2 L981.7 1151.8 L982.5 1152.7 L983.4 1153.2 L984.3 1153.3 L985.3 1153.3 L986.3 1153.3 L987.4 1153.4 L988.4 1153.6 L989.4 1153.8 L990.4 1153.8 L991.3 1153.8 L992.2 1154 L993 1154.5 L994.2 1155.1 L995.3 1155.2 L996.3 1155.1 L997.3 1155.4 L998.2 1155.8 L999 1155.8 L999.8 1155.3 L1000.4 1154.6 L1001 1154 L1001.5 1153.5 L1002 1153 L1002.4 1152.3 L1002.9 1151.5 L1003.3 1150.5 L1003.8 1149.5 L1004.3 1148.7 L1004.9 1147.7 L1005.5 1146.8 L1006.2 1146 L1006.8 1145.2 L1007.4 1144.7 L1008 1144.1 L1008.5 1143.3 L1008.8 1142.8" stroke="#dc6aae" stroke-width="2.6" fill="none" stroke-linejoin="round"/>
<path d="M159.7 1021.1 L160.2 1021.7 L160.9 1021.6 L161.6 1021.2 L162.4 1021.4 L163.3 1021.7 L164.2 1021.7 L165.2 1022.2 L166.3 1022.6 L167.4 1022.4 L168.5 1022.3 L169.6 1022.3 L170.7 1022.6 L171.8 1022.9 L172.9 1023.2 L174 1023.7 L175.1 1024.1 L176.1 1024.2 L177.1 1024.3 L178.1 1024.3 L179.1 1023.9 L180.2 1023.9 L181.3 1024.2 L182.4 1024.1 L183.5 1024.2 L184.6 1024.7 L185.6 1025.2 L186.7 1025.6 L187.7 1025.6 L188.7 1025.5 L189.7 1025.5 L190.5 1025.2 L191.3 1025 L192.1 1025.4 L192.7 1025.7 L193.3 1025.6 L194.9 1024.6 L194.8 1023.5 L194.6 1023.2 L194.7 1023.4 L194.5 1024.1 L194.7 1025.6 L195.8 1026.9 L196.3 1027.4 L196.9 1027.8 L197.5 1027.9 L198.2 1028.1 L199 1028.6 L199.8 1029.5 L200.7 1030.1 L201.6 1030.4 L202.5 1030.7 L203.4 1031.1 L204.3 1031.7 L205.2 1032.2 L206.1 1032.9 L207 1033.8 L207.8 1034.5 L208.6 1035.3 L209.5 1035.9 L210.3 1036.4 L211.2 1037.2 L212.1 1037.7 L213 1038.2 L213.9 1038.8 L214.7 1039.6 L215.6 1040.2 L216.4 1041 L217.1 1041.9 L217.8 1042.4 L218.5 1042.8 L219.1 1043.3 L219.6 1043.8 L220.9 1043.8 L221.4 1042.8 L221.6 1042.2 L222 1042 L222.7 1041.7 L223.3 1041.3 L224.1 1042 L224.4 1042.8 L224.6 1044.1 L224.9 1044.8 L225.3 1045.6 L225.6 1047.1 L225.9 1048.2 L226.2 1049.1 L226.6 1050 L226.9 1050.9 L227.3 1051.5 L227.6 1052.4 L228.1 1053.7 L228.6 1054.2 L229.2 1054.2 L229.7 1054.5 L230.3 1055.1 L230.9 1055.8 L231.5 1057.5 L231.7 1058 L231.8 1058.9 L232 1060.3 L232.2 1061 L232.4 1061.5 L232.6 1062.5 L232.8 1063.5 L233 1064.2 L233.2 1065.1 L233.4 1066.1 L233.6 1066.9 L233.8 1068.1 L234 1069.4 L234.2 1070.4 L234.4 1071.2 L234.6 1072.2 L234.8 1073.2 L235 1074.6 L235.2 1075.8 L235.4 1076.4 L235.6 1077.7 L235.8 1078.9 L236 1080 L236.2 1081.1 L236.4 1082.2 L236.6 1083.3 L236.8 1084.4 L237 1085.3 L237.1 1086.2 L237.3 1087.1 L237.4 1088 L237.6 1088.9 L237.8 1089.8 L237.9 1090.7 L238.1 1091.7 L238.2 1092.6 L238.4 1093.5 L238.6 1094.5 L238.7 1095.4 L238.9 1096.4 L239.1 1097.3 L239.2 1098.3 L239.4 1099.3 L239.5 1100.2 L239.7 1101.2 L239.9 1102.2 L240 1103.2 L240.2 1104.2 L240.3 1105.1 L240.5 1106.1 L240.7 1107.1 L240.8 1108.1 L241 1109.1 L241.1 1110.1 L241.3 1111.1 L241.5 1112.1 L241.6 1113.1 L241.8 1114.1 L241.9 1115.1 L242.1 1116.1 L242.3 1117 L242.4 1118 L242.6 1119 L242.7 1119.9 L242.9 1120.9 L243 1121.9 L243.2 1122.9 L243.3 1123.9 L243.5 1124.9 L243.6 1125.8 L243.8 1126.8 L243.9 1127.8 L244.1 1128.9 L244.2 1129.9 L244.4 1130.9 L244.5 1131.9 L244.7 1132.9 L244.8 1133.9 L245 1134.9 L245.1 1135.9 L245.3 1136.9 L245.4 1137.9 L245.6 1138.9 L245.7 1139.9 L245.9 1140.9 L246 1141.8 L246.2 1142.8 L246.3 1143.8 L246.5 1144.8 L246.6 1145.7 L246.7 1146.7 L246.9 1147.6 L247 1148.6 L247.2 1149.5 L247.3 1150.4 L247.5 1151.5 L247.6 1152.5 L247.8 1153.6 L247.9 1154.7 L248.1 1155.7 L248.3 1156.8 L248.4 1157.9 L248.6 1158.9 L248.8 1160 L248.9 1161 L249.1 1162.1 L249.2 1163.1 L249.4 1164.1 L249.6 1165.2 L249.7 1166.2 L249.9 1167.2 L250 1168.2 L250.2 1169.2 L250.3 1170.2 L250.5 1171.1 L250.6 1172.1 L250.7 1173 L250.9 1174 L251 1174.9 L251.1 1175.8 L251.2 1176.6 L251.4 1177.5 L251.5 1178.4 L251.6 1179.2 L251.7 1180 L251.9 1181.2 L252 1182.4 L252.1 1183.5 L252.2 1184.6 L252.3 1185.7 L252.4 1186.7 L252.5 1187.6 L252.5 1188.6 L252.6 1189.5 L252.7 1190.4 L252.7 1191.3 L252.8 1192.2 L252.9 1193 L253 1193.9 L253 1194.8 L253.1 1195.7 L253.2 1196.6 L253.4 1197.5 L253.5 1198.5 L253.6 1199.5 L253.8 1200.4 L254 1201.4 L254.2 1202.4 L254.3 1203.3 L254.5 1204.3 L254.7 1205.3 L254.9 1206.2 L255.1 1207.2 L255.3 1208.2 L255.5 1209.2 L255.8 1210.1 L256 1211.1 L256.2 1212.1 L256.4 1213 L256.6 1214 L256.8 1215 L257 1215.9 L257.2 1216.9 L257.4 1217.9 L257.6 1218.8 L257.8 1219.8 L258 1220.8 L258.2 1221.8 L258.4 1222.7 L258.6 1223.7 L258.8 1224.7 L259 1225.7 L259.1 1226.6 L259.3 1227.6 L259.5 1228.6 L259.7 1229.6 L259.9 1230.5 L260.1 1231.5 L260.3 1232.5 L260.5 1233.5 L260.7 1234.4 L260.9 1235.4 L261.1 1236.4 L261.3 1237.4 L261.5 1238.4 L261.7 1239.4 L261.8 1240.4 L262 1241.4 L262.2 1242.4 L262.4 1243.4 L262.6 1244.4 L262.8 1245.4 L263 1246.4 L263.1 1247.4 L263.3 1248.3 L263.5 1249.3 L263.7 1250.2 L263.9 1251.2 L264.2 1252.1 L264.4 1253 L264.6 1253.9 L264.9 1254.9 L265.2 1255.9 L265.4 1256.9 L265.7 1257.8 L266 1258.8 L266.3 1259.7 L266.6 1260.6 L266.9 1261.5 L267.3 1262.3 L267.6 1263.2 L267.9 1264.1 L268.2 1265 L268.6 1265.9 L268.9 1266.8 L269.3 1267.7 L269.6 1268.7 L269.9 1269.6 L270.2 1270.4 L270.5 1271.3 L270.9 1272.2 L271.2 1273.1 L271.5 1274 L271.8 1275 L272.2 1275.9 L272.5 1276.8 L272.8 1277.7 L273.2 1278.6 L273.5 1279.5 L273.9 1280.4 L274.2 1281.3 L274.6 1282.2 L275 1283 L275.3 1283.9 L275.7 1284.7 L276.1 1285.6 L276.6 1286.5 L277 1287.4 L277.4 1288.3 L277.9 1289.2 L278.3 1290.1 L278.8 1291 L279.2 1291.8 L279.7 1292.7 L280.2 1293.5 L280.7 1294.3 L281.1 1295.1 L281.6 1295.9 L282.1 1296.7 L282.6 1297.5 L283.1 1298.2 L283.7 1299 L284.3 1299.8 L284.8 1300.6 L285.4 1301.4 L286 1302.2 L286.6 1303 L287.2 1303.7 L287.9 1304.4 L288.5 1305.1 L289.1 1305.7 L289.7 1306.4 L290.4 1307 L291 1307.6 L291.7 1308.1 L292.5 1308.7 L293.3 1309.3 L294.1 1309.9 L294.9 1310.4 L295.7 1310.9 L296.6 1311.4 L297.4 1311.8 L298.3 1312.2 L299.1 1312.5 L299.9 1312.7 L300.8 1312.9 L301.6 1313 L302.5 1313 L303.4 1313 L304.2 1312.8 L305.1 1312.6 L305.9 1312.3 L306.8 1312 L307.7 1311.6 L308.5 1311.1 L309.5 1310.5 L310.4 1309.9 L311.4 1309.3 L312.1 1308.8 L312.7 1308.3 L313.4 1307.8 L314.1 1307.2 L314.8 1306.6 L315.6 1306 L316.3 1305.3 L317 1304.6 L317.8 1303.9 L318.5 1303.2 L319.3 1302.5 L320 1301.8 L320.8 1301.1 L321.5 1300.3 L322.2 1299.6 L323 1298.9 L323.7 1298.2 L324.4 1297.5 L325.1 1296.9 L325.8 1296.2 L326.5 1295.5 L327.2 1294.9 L327.9 1294.2 L328.6 1293.5 L329.4 1292.8 L330.1 1292.1 L330.8 1291.4 L331.5 1290.7 L332.2 1290 L332.8 1289.4 L333.5 1288.7 L334.2 1288 L334.8 1287.3 L335.4 1286.6 L336 1285.9 L336.6 1285.1 L337.3 1284.4 L337.9 1283.7 L338.4 1282.9 L339 1282.2 L339.5 1281.5 L340.1 1280.8 L340.6 1280.1 L341.1 1279.3 L341.6 1278.6 L342.1 1277.8 L342.6 1277 L343.1 1276.2 L343.6 1275.4 L344.2 1274.5 L344.7 1273.6 L345.1 1272.9 L345.6 1272.1 L346 1271.3 L346.4 1270.5 L346.9 1269.7 L347.3 1268.9 L347.8 1268 L348.2 1267.2 L348.6 1266.3 L349.1 1265.4 L349.5 1264.5 L350 1263.6 L350.4 1262.7 L350.8 1261.8 L351.2 1260.9 L351.7 1260 L352.1 1259.1 L352.5 1258.1 L352.9 1257.2 L353.3 1256.3 L353.7 1255.5 L354 1254.6 L354.4 1253.8 L354.7 1252.9 L355.1 1252.1 L355.4 1251.2 L355.7 1250.3 L356.1 1249.5 L356.4 1248.6 L356.7 1247.7 L357.1 1246.8 L357.4 1245.9 L357.7 1245 L358.1 1244.1 L358.4 1243.2 L358.7 1242.3 L359 1241.4 L359.4 1240.4 L359.7 1239.5 L360 1238.5 L360.4 1237.6 L360.7 1236.6 L361 1235.7 L361.3 1234.9 L361.6 1234 L361.9 1233.1 L362.2 1232.2 L362.5 1231.2 L362.8 1230.3 L363.1 1229.4 L363.4 1228.4 L363.7 1227.5 L364 1226.6 L364.3 1225.6 L364.5 1224.6 L364.8 1223.7 L365.1 1222.7 L365.4 1221.8 L365.7 1220.8 L366 1219.8 L366.3 1218.9 L366.6 1217.9 L366.9 1217 L367.2 1216 L367.5 1215.1 L367.8 1214.1 L368.1 1213.2 L368.4 1212.3 L368.7 1211.3 L369 1210.4 L369.3 1209.5 L369.6 1208.6 L369.9 1207.7 L370.2 1206.8 L370.5 1205.8 L370.8 1204.9 L371.1 1204 L371.4 1203.1 L371.7 1202.2 L372 1201.3 L372.3 1200.4 L372.6 1199.4 L372.9 1198.5 L373.2 1197.6 L373.5 1196.6 L373.8 1195.7 L374.1 1194.8 L374.4 1193.8 L374.7 1192.8 L374.9 1191.9 L375.2 1190.9 L375.5 1189.9 L375.7 1189 L376 1188.1 L376.2 1187.2 L376.4 1186.3 L376.6 1185.5 L376.9 1184.6 L377.1 1183.7 L377.3 1182.8 L377.5 1181.9 L377.7 1180.9 L377.9 1180 L378.1 1179.1 L378.3 1178.2 L378.5 1177.3 L378.7 1176.3 L378.9 1175.4 L379.1 1174.5 L379.3 1173.5 L379.6 1172.6 L379.8 1171.6 L380 1170.6 L380.3 1169.6 L380.5 1168.7 L380.8 1167.7 L381 1166.7 L381.3 1165.7 L381.6 1164.6 L381.9 1163.6 L382.2 1162.7 L382.4 1161.9 L382.7 1161 L383 1160.1 L383.2 1159.2 L383.5 1158.2 L383.8 1157.3 L384.1 1156.4 L384.4 1155.4 L384.7 1154.5 L385 1153.5 L385.3 1152.5 L385.7 1151.6 L386 1150.6 L386.3 1149.6 L386.6 1148.6 L386.9 1147.7 L387.3 1146.7 L387.6 1145.7 L387.9 1144.7 L388.3 1143.8 L388.6 1142.8 L388.9 1141.9 L389.3 1140.9 L389.6 1140 L389.9 1139 L390.3 1138.1 L390.6 1137.2 L390.9 1136.3 L391.2 1135.4 L391.6 1134.5 L391.9 1133.6 L392.2 1132.7 L392.5 1131.9 L392.9 1130.9 L393.3 1129.8 L393.7 1128.8 L394.1 1127.7 L394.4 1126.7 L394.9 1125.6 L395.3 1124.5 L395.7 1123.4 L396.1 1122.4 L396.5 1121.3 L396.9 1120.2 L397.3 1119.2 L397.7 1118.2 L398.1 1117.2 L398.5 1116.2 L398.9 1115.2 L399.3 1114.3 L399.6 1113.4 L400 1112.6 L400.4 1111.7 L400.7 1111 L401.1 1110.2 L401.4 1109.5 L401.8 1108.9 L402.1 1108.3 L402.4 1107.8 L402.7 1107.3 L403 1106.9 L404 1105.8 L404.8 1105.5 L405.4 1105.8 L406 1106.6 L406.7 1107.8 L407.4 1109.2 L408.3 1110.8 L408.7 1111.4 L409 1112.1 L409.4 1113 L409.8 1114 L410.3 1115 L410.7 1116.1 L411.2 1117.3 L411.6 1118.4 L412.1 1119.6 L412.6 1120.9 L413.1 1122 L413.5 1123.2 L414 1124.3 L414.5 1125.3 L414.9 1126.3 L415.4 1127.1 L415.9 1127.9 L416.3 1128.5 L416.7 1128.9 L417.1 1129.2 L417.5 1129.3 L417.9 1129.2 L418.3 1129 L418.6 1128.6 L419 1128 L419.3 1127.3 L419.6 1126.6 L420 1125.7 L420.3 1124.7 L420.6 1123.6 L420.9 1122.5 L421.2 1121.4 L421.5 1120.2 L421.8 1118.9 L422.1 1117.7 L422.4 1116.5 L422.7 1115.3 L423.1 1114.1 L423.4 1112.9 L423.7 1111.8 L424.1 1110.8 L424.4 1109.9 L424.7 1109.1 L425.1 1108.2 L425.4 1107.3 L425.8 1106.3 L426.1 1105.4 L426.5 1104.5 L426.8 1103.6 L427.2 1102.6 L427.5 1101.7 L427.9 1100.7 L428.2 1099.8 L428.6 1098.8 L428.9 1097.9 L429.3 1096.9 L429.6 1096 L430 1095.1 L430.3 1094.2 L430.7 1093.2 L431 1092.3 L431.4 1091.4 L431.7 1090.6 L432 1089.7 L432.4 1088.7 L432.7 1087.8 L433.1 1086.8 L433.4 1085.9 L433.8 1084.9 L434.1 1084 L434.4 1083.1 L434.8 1082.2 L435.1 1081.3 L435.4 1080.4 L435.8 1079.5 L436.1 1078.6 L436.4 1077.7 L436.7 1076.8 L437 1075.9 L437.3 1075 L437.7 1074.1 L438 1073.1 L438.3 1072.2 L438.6 1071.2 L438.9 1070.3 L439.2 1069.4 L439.4 1068.5 L439.7 1067.5 L440 1066.6 L440.2 1065.6 L440.5 1064.6 L440.7 1063.7 L441 1062.7 L441.2 1061.7 L441.5 1060.7 L441.7 1059.7 L442 1058.8 L442.3 1057.8 L442.5 1056.9 L442.8 1055.9 L443.1 1055 L443.3 1054 L443.6 1053.1 L443.9 1052.2 L444.2 1051.4 L444.5 1050.5 L444.8 1049.5 L445.2 1048.6 L445.5 1047.7 L445.9 1046.8 L446.2 1045.9 L446.5 1045 L446.8 1044.1 L447.2 1043.3 L447.5 1042.4 L447.9 1041.6 L448.3 1040.7 L448.7 1039.9 L449.1 1039.1 L449.5 1038.2 L449.9 1037.4 L450.4 1036.6 L450.9 1035.7 L451.4 1034.9 L452 1034 L452.5 1033.2 L453.1 1032.5 L453.6 1031.7 L454.2 1031 L454.8 1030.2 L455.5 1029.5 L456.1 1028.7 L456.8 1027.9 L457.5 1027.2 L458.1 1026.4 L458.8 1025.7 L459.5 1024.9 L460.3 1024.1 L461 1023.4 L461.7 1022.6 L462.4 1021.9 L463.1 1021.1 L463.8 1020.4 L464.4 1019.6 L465.1 1018.9 L465.8 1018.1 L466.4 1017.4 L467.1 1016.6 L467.7 1015.9 L468.3 1015.1 L469 1014.3 L469.6 1013.6 L470.3 1012.8 L470.9 1012 L471.5 1011.3 L472.1 1010.5 L472.8 1009.7 L473.4 1009 L474 1008.2 L474.6 1007.5 L475.2 1006.7 L475.9 1006 L476.5 1005.3 L477.1 1004.5 L477.7 1003.8 L478.3 1003.1 L479 1002.3 L479.6 1001.6 L480.3 1000.8 L480.9 1000.1 L481.6 999.3 L482.2 998.6 L482.9 997.8 L483.6 997 L484.2 996.3 L484.9 995.5 L485.5 994.8 L486.2 994 L486.9 993.3 L487.5 992.6 L488.2 991.8 L488.8 991.1 L489.5 990.4 L490.2 989.7 L490.8 989.1 L491.5 988.4 L492.1 987.7 L492.8 987.1 L493.6 986.4 L494.4 985.7 L495.1 985 L495.9 984.3 L496.7 983.7 L497.5 983 L498.2 982.4 L499 981.8 L499.8 981.2 L500.6 980.6 L501.3 980 L502.1 979.4 L502.9 978.8 L503.7 978.2 L504.4 977.7 L505.2 977.1 L506 976.5 L506.8 975.9 L507.6 975.4 L508.3 974.8 L509.1 974.2 L509.9 973.7 L510.7 973.2 L511.4 972.6 L512.2 972.1 L513 971.6 L513.8 971 L514.5 970.5 L515.3 970 L516.1 969.4 L516.9 968.9 L517.7 968.4 L518.4 967.8 L519.2 967.3 L520 966.8 L520.7 966.2 L521.5 965.6 L522.3 965.1 L523.1 964.5 L523.8 964 L524.6 963.4 L525.4 962.8 L526.1 962.3 L526.9 961.7 L527.7 961.2 L528.4 960.6 L529.2 960.1 L530 959.6 L530.8 959 L531.5 958.5 L532.3 958 L533.1 957.5 L533.9 956.9 L534.8 956.4 L535.6 955.8 L536.4 955.3 L537.2 954.8 L538.1 954.2 L538.9 953.7 L539.7 953.2 L540.5 952.7 L541.4 952.2 L542.2 951.8 L543 951.3 L543.8 950.9 L544.7 950.5 L545.5 950.1 L546.4 949.7 L547.4 949.3 L548.3 949 L549.3 948.7 L550.2 948.4 L551.2 948.1 L552.1 947.9 L553 947.6 L554 947.4 L554.9 947.2 L555.9 946.9 L556.8 946.7 L557.8 946.5 L558.7 946.2 L559.6 945.9 L560.6 946 L561.5 945.5 L562.5 945 L563.4 944.4 L564.4 944.2 L565.3 944.4 L566.2 944.6 L567.2 944.3 L568.1 943.8 L569.1 943.1 L570 942.8 L571 942.8 L571.9 942.3 L572.8 942.1 L573.8 942.6 L574.7 942.8 L575.7 942.6 L576.6 942 L577.6 941.5 L578.5 941.5 L579.4 942.2 L580.4 942.3 L581.3 942 L582.3 942 L583.2 941.8 L584.2 941.6 L585.1 941.5 L586.1 941.4 L587 941.5 L588 941.8 L589 942.1 L590 942.4 L591 942.8 L592 942.8 L593 942.5 L594 942.6 L594.9 943.1 L595.8 942.9 L596.7 942.5 L597.5 942.8 L598.3 943.5 L599.5 943.4 L600.5 943.1 L601.4 943.4 L602.2 943.6 L603.1 943.9 L604 944.3 L605 944.1 L606.2 943.3 L607 943 L607.8 943.3 L608.7 943.6 L609.6 943.4 L610.5 943.2 L611.5 942.8 L612.5 942.4 L613.5 942.2 L614.5 941.9 L615.5 941.7 L616.5 941.4 L617.5 941.4 L618.4 941.6 L619.4 940.9 L620.3 940.3 L621.3 940.2 L622.2 940.1 L623.2 939.4 L624.1 939 L625.1 938.8 L626 938.8 L626.9 938.6 L627.9 938.3 L628.8 938 L629.8 937.7 L630.7 937.5 L631.7 937.6 L632.6 937.5 L633.5 936.8 L634.4 936.4 L635.2 936.2 L636.1 935.8 L637 935.4 L637.9 935 L638.8 934.7 L639.6 934.3 L640.5 934.2 L641.4 933.9 L642.3 933.3 L643.2 933.1 L644 932.9 L644.9 932.3 L645.8 931.8 L646.7 931.4 L647.7 931.3 L648.7 931.2 L649.6 930.8 L650.6 931 L651.6 931.2 L652.6 931.1 L653.5 930.7 L654.5 930.1 L655.4 929.7 L656.3 929.5 L657.3 929.4 L658.1 929.5 L659 929.5 L660.1 929.2 L661.1 928.8 L662.2 928.6 L663.2 928.6 L664.1 928.5 L665.1 928.3 L666.1 928.7 L667 929.4 L667.9 929.6 L668.7 929.1 L669.6 928.9 L670.6 929.3 L671.5 929.5 L672.4 930 L673.3 930.6 L674.1 931.1 L675 931.3 L675.8 931.8 L676.6 932.4 L677.5 932.8 L678.2 933.3 L679 934.1 L679.7 934.7 L680.4 935.1 L681.2 935.6 L681.9 936.3 L682.6 937 L683.3 937.5 L684 938.2 L684.7 939.3 L685.4 939.7 L686 939.8 L686.5 940.7 L687.1 941.8 L687.6 942.3 L688.2 943.2 L688.7 944.3 L689.2 944.6 L689.7 945.2 L690.2 946.2 L690.7 947.1 L691.1 948.3 L691.6 949.3 L692 949.8 L692.4 950.7 L692.8 952.3 L693.2 953.5 L693.5 954.2 L693.8 955 L694.1 956.3 L694.4 957.5 L694.7 958.5 L695 959.4 L695.3 959.9 L695.6 960.2 L695.9 960.4 L696.5 960.6 L697.1 960.2 L697.7 958.9 L698.3 957.5 L698.9 956.6 L699.4 955.8 L699.9 955.4 L700.2 955.8 L700.5 956.3 L700.7 957.1 L701 958 L701.2 959.1 L701.5 960.2 L701.7 961.4 L701.9 962.6 L702.1 963.8 L702.3 964.9 L702.5 966 L702.6 966.8 L702.8 967.5 L702.9 968 L703 968.6 L703 969.1 L703.1 969.7 L703.2 970.3 L703.3 971.1 L703.4 972 L703.5 973.1 L703.6 974.4 L703.7 976.1 L703.8 978 L703.8 978.7 L703.9 979.4 L703.9 980.1 L704 980.9 L704 981.8 L704.1 982.7 L704.1 983.6 L704.2 984.6 L704.2 985.6 L704.3 986.6 L704.4 987.7 L704.4 988.8 L704.5 989.9 L704.5 991 L704.6 992.1 L704.6 993.3 L704.7 994.5 L704.8 995.7 L704.8 996.8 L704.9 998 L704.9 999.2 L705 1000.4 L705.1 1001.6 L705.1 1002.8 L705.2 1004 L705.2 1005.1 L705.3 1006.3 L705.4 1007.4 L705.4 1008.5 L705.5 1009.6 L705.6 1010.7 L705.6 1011.7 L705.7 1012.8 L705.7 1013.7 L705.8 1014.7 L705.8 1015.6 L705.9 1016.5 L705.9 1017.3 L706 1018.1 L706.1 1018.8 L706.1 1019.5 L706.2 1020.1 L706.2 1020.7 L706.6 1024.3 L706.9 1026 L707.2 1026.3 L707.5 1025.8 L707.9 1025.1 L708.1 1024.7 L708.3 1024.3 L708.5 1023.7 L708.7 1023 L708.9 1022.1 L709.1 1021.2 L709.4 1020.2 L709.6 1019.1 L709.8 1017.8 L710.1 1016.5 L710.3 1015.2 L710.6 1013.7 L710.7 1013 L710.9 1012.2 L711 1011.3 L711.1 1010.4 L711.3 1009.5 L711.4 1008.6 L711.5 1007.6 L711.7 1006.6 L711.8 1005.5 L712 1004.5 L712.1 1003.4 L712.3 1002.3 L712.4 1001.2 L712.5 1000.2 L712.7 999.1 L712.8 998 L713 996.9 L713.1 995.9 L713.3 994.8 L713.4 993.8 L713.6 992.8 L713.7 991.8 L713.8 990.9 L714 990 L714.1 989.1 L714.3 987.9 L714.5 986.7 L714.7 985.4 L714.8 984.1 L715 982.8 L715.2 981.5 L715.4 980.3 L715.6 979.1 L715.7 977.9 L715.9 976.8 L716.1 975.7 L716.3 974.8 L716.4 973.9 L716.6 973.2 L716.7 972.5 L716.9 972 L717.1 971.7 L717.2 971.5 L717.4 971.5 L717.5 971.7 L717.7 972 L717.8 972.6 L718 973.2 L718.1 974.1 L718.2 975 L718.3 976.1 L718.5 977.2 L718.6 978.5 L718.7 979.8 L718.9 981.2 L719 982.6 L719.1 984 L719.3 985.5 L719.4 986.2 L719.5 987 L719.5 987.7 L719.6 988.5 L719.7 989.3 L719.8 990.1 L719.9 991 L720 991.8 L720 992.7 L720.1 993.6 L720.2 994.5 L720.3 995.4 L720.4 996.4 L720.5 997.3 L720.6 998.3 L720.7 999.3 L720.8 1000.3 L720.8 1001.3 L720.9 1002.3 L721 1003.4 L721.1 1004.4 L721.2 1005.5 L721.3 1006.5 L721.4 1007.6 L721.5 1008.7 L721.6 1009.8 L721.7 1010.9 L721.7 1012 L721.8 1013.1 L721.9 1014.3 L722 1015.4 L722.1 1016.3 L722.1 1017.1 L722.2 1018 L722.3 1018.9 L722.3 1019.8 L722.4 1020.7 L722.4 1021.7 L722.5 1022.6 L722.6 1023.5 L722.6 1024.5 L722.7 1025.4 L722.8 1026.4 L722.8 1027.3 L722.9 1028.3 L723 1029.3 L723 1030.3 L723.1 1031.3 L723.1 1032.3 L723.2 1033.3 L723.3 1034.3 L723.3 1035.3 L723.4 1036.3 L723.5 1037.3 L723.5 1038.3 L723.6 1039.3 L723.6 1040.4 L723.7 1041.4 L723.8 1042.4 L723.8 1043.5 L723.9 1044.5 L724 1045.5 L724 1046.6 L724.1 1047.6 L724.2 1048.7 L724.2 1049.7 L724.3 1050.7 L724.3 1051.8 L724.4 1052.8 L724.5 1053.8 L724.5 1054.9 L724.6 1055.9 L724.7 1056.8 L724.7 1057.8 L724.8 1058.8 L724.8 1059.8 L724.9 1060.8 L725 1061.8 L725 1062.8 L725.1 1063.8 L725.1 1064.9 L725.2 1065.9 L725.3 1067 L725.3 1068 L725.4 1069.1 L725.5 1070.2 L725.5 1071.2 L725.6 1072.3 L725.7 1073.4 L725.7 1074.5 L725.8 1075.5 L725.8 1076.6 L725.9 1077.7 L726 1078.7 L726 1079.8 L726.1 1080.8 L726.2 1081.9 L726.2 1082.9 L726.3 1083.9 L726.3 1085 L726.4 1086 L726.5 1087 L726.5 1088 L726.6 1088.9 L726.6 1089.9 L726.7 1090.8 L726.8 1091.7 L726.8 1092.7 L726.9 1093.5 L726.9 1094.4 L727 1095.3 L727 1096.1 L727.1 1096.9 L727.1 1097.7 L727.2 1098.5 L727.3 1099.2 L727.3 1099.9 L727.4 1101.5 L727.5 1102.9 L727.6 1104.2 L727.7 1105.4 L727.8 1106.5 L727.8 1107.5 L727.9 1108.4 L728 1109.3 L728 1110.1 L728.1 1110.9 L728.2 1111.6 L728.3 1112.4 L728.3 1113.1 L728.4 1113.9 L728.5 1114.8 L728.6 1115.6 L728.7 1116.6 L728.9 1117.6 L729 1118.7 L729.1 1119.6 L729.2 1120.4 L729.4 1121.3 L729.5 1122.3 L729.6 1123.2 L729.7 1124.2 L729.9 1125.2 L730 1126.1 L730.2 1127.1 L730.3 1128.1 L730.5 1129.2 L730.7 1130.2 L730.8 1131.2 L731 1132.2 L731.1 1133.3 L731.3 1134.3 L731.5 1135.3 L731.6 1136.3 L731.8 1137.3 L732 1138.3 L732.1 1139.3 L732.3 1140.2 L732.4 1141.2 L732.6 1142.1 L732.7 1143 L732.9 1143.9 L733.1 1145 L733.3 1146.1 L733.5 1147.3 L733.7 1148.4 L733.9 1149.6 L734 1150.7 L734.2 1151.9 L734.4 1153 L734.6 1154.2 L734.8 1155.3 L735 1156.3 L735.2 1157.4 L735.4 1158.4 L735.6 1159.3 L735.8 1160.2 L735.9 1161.1 L736.1 1161.9 L736.3 1162.6 L736.5 1163.2 L736.6 1163.7 L736.8 1164.2 L737.5 1165.6 L738.1 1166.1 L738.6 1165.6 L739.2 1164.1 L739.7 1161.3 L739.8 1160.7 L739.9 1160.1 L740 1159.5 L740 1158.7 L740.1 1158 L740.2 1157.2 L740.3 1156.3 L740.4 1155.4 L740.5 1154.5 L740.5 1153.6 L740.6 1152.6 L740.7 1151.6 L740.8 1150.6 L740.9 1149.5 L740.9 1148.4 L741 1147.3 L741.1 1146.2 L741.2 1145.1 L741.3 1144 L741.3 1142.9 L741.4 1141.8 L741.5 1140.6 L741.6 1139.5 L741.6 1138.4 L741.7 1137.3 L741.8 1136.2 L741.9 1135.1 L741.9 1134 L742 1133 L742.1 1132 L742.1 1131 L742.2 1130 L742.3 1129 L742.3 1128.1 L742.4 1127.2 L742.5 1126.2 L742.5 1125.4 L742.6 1124.5 L742.6 1123.6 L742.7 1122.8 L742.7 1121.9 L742.8 1121.1 L742.9 1120.3 L742.9 1119.4 L743 1118.6 L743 1117.8 L743.1 1116.9 L743.1 1116 L743.2 1115.2 L743.2 1114.3 L743.3 1113.4 L743.3 1112.4 L743.4 1111.5 L743.4 1110.5 L743.5 1109.5 L743.6 1108.4 L743.6 1107.4 L743.7 1106.2 L743.7 1105.1 L743.8 1103.9 L743.9 1102.6 L743.9 1101.3 L744 1100 L744 1099.2 L744.1 1098.4 L744.1 1097.6 L744.2 1096.8 L744.2 1096 L744.2 1095.2 L744.3 1094.3 L744.3 1093.4 L744.4 1092.5 L744.4 1091.6 L744.5 1090.7 L744.5 1089.8 L744.5 1088.9 L744.6 1087.9 L744.6 1086.9 L744.7 1086 L744.7 1085 L744.8 1084 L744.8 1083 L744.9 1082 L744.9 1081 L745 1080 L745 1079 L745.1 1078 L745.1 1076.9 L745.1 1075.9 L745.2 1074.8 L745.2 1073.8 L745.3 1072.7 L745.3 1071.7 L745.4 1070.6 L745.4 1069.6 L745.5 1068.5 L745.5 1067.5 L745.6 1066.4 L745.6 1065.4 L745.7 1064.3 L745.7 1063.2 L745.8 1062.2 L745.8 1061.1 L745.9 1060.1 L745.9 1059 L746 1058 L746 1057 L746.1 1055.9 L746.1 1054.9 L746.2 1053.9 L746.2 1052.9 L746.3 1051.8 L746.3 1050.8 L746.4 1049.8 L746.4 1048.9 L746.5 1047.9 L746.5 1046.9 L746.6 1045.9 L746.6 1045 L746.7 1044 L746.7 1042.9 L746.8 1041.9 L746.8 1040.8 L746.9 1039.8 L746.9 1038.7 L747 1037.6 L747 1036.6 L747.1 1035.5 L747.1 1034.4 L747.2 1033.4 L747.2 1032.3 L747.3 1031.2 L747.3 1030.2 L747.4 1029.1 L747.4 1028 L747.5 1026.9 L747.5 1025.9 L747.6 1024.8 L747.7 1023.7 L747.7 1022.7 L747.8 1021.6 L747.8 1020.6 L747.9 1019.5 L747.9 1018.5 L748 1017.4 L748 1016.4 L748.1 1015.4 L748.1 1014.4 L748.2 1013.4 L748.2 1012.3 L748.3 1011.3 L748.4 1010.4 L748.4 1009.4 L748.5 1008.4 L748.5 1007.4 L748.6 1006.5 L748.6 1005.5 L748.7 1004.6 L748.7 1003.7 L748.8 1002.7 L748.8 1001.8 L748.9 1000.9 L748.9 1000.1 L749 999.2 L749 998.4 L749.1 997.5 L749.1 996.7 L749.2 995.9 L749.2 995.1 L749.3 994.3 L749.4 993 L749.5 991.7 L749.6 990.4 L749.6 989.1 L749.7 987.9 L749.8 986.7 L749.9 985.6 L750 984.5 L750.1 983.4 L750.1 982.3 L750.2 981.3 L750.3 980.3 L750.4 979.3 L750.5 978.3 L750.5 977.4 L750.6 976.5 L750.7 975.6 L750.8 974.7 L750.9 973.8 L751 973 L751.1 972.2 L751.1 971.4 L751.2 970.6 L751.3 969.8 L751.4 969.1 L751.6 968.3 L751.7 967.6 L751.8 966.9 L751.9 966.2 L752.2 964.8 L752.4 963.6 L752.8 962.4 L753.1 961.4 L753.4 960.4 L753.8 959.5 L754.1 958.7 L754.4 957.9 L754.8 957.2 L755.1 956.5 L755.4 955.8 L755.8 955.2 L756 954.6 L756.3 953.9 L756.8 952.8 L757.2 952 L757.5 951.5 L757.9 950.9 L758.2 950.2 L758.5 949.2 L758.9 947.7 L759 947 L759.2 946.3 L759.3 945.4 L759.5 944.6 L759.6 943.6 L759.7 942.6 L759.9 941.6 L760 940.6 L760.2 939.5 L760.3 938.5 L760.5 937.4 L760.6 936.3 L760.8 935.2 L760.9 934.1 L761 933.1 L761.2 932.1 L761.3 931.1 L761.5 930.2 L761.6 929.3 L761.8 928.2 L762 927.2 L762.1 926.2 L762.3 925.2 L762.5 924.3 L762.7 923.4 L762.9 922.4 L763 921.5 L763.2 920.6 L763.4 919.7 L763.6 918.8 L763.7 918 L763.9 917 L764.1 916.1 L764.2 915.2 L764.3 914.2 L764.5 913.2 L764.6 912.2 L764.7 911.1 L764.9 910.1 L765 909 L765.1 908 L765.2 906.9 L765.3 905.9 L765.4 904.9 L765.5 904 L765.7 903.2 L765.8 902.4 L765.9 901.7 L766 901.1 L766.4 899.4 L766.9 898.3 L767.3 898 L767.7 898.5 L767.9 898.9 L768 899.4 L768.2 900 L768.3 900.7 L768.5 901.6 L768.7 902.6 L768.8 903.7 L769 905 L769.3 906.5 L769.5 908.1 L769.6 908.8 L769.7 909.5 L769.8 910.3 L770 911.1 L770.1 911.9 L770.2 912.8 L770.4 913.6 L770.5 914.5 L770.7 915.4 L770.8 916.4 L771 917.4 L771.1 918.3 L771.3 919.4 L771.4 920.4 L771.6 921.4 L771.7 922.5 L771.9 923.6 L772 924.7 L772.2 925.8 L772.3 926.9 L772.5 928.1 L772.6 929.3 L772.7 930.4 L772.9 931.6 L773 932.8 L773.1 933.6 L773.2 934.5 L773.2 935.4 L773.3 936.3 L773.4 937.1 L773.5 938.1 L773.6 939 L773.6 939.9 L773.7 940.9 L773.8 941.8 L773.9 942.8 L773.9 943.8 L774 944.7 L774.1 945.7 L774.1 946.7 L774.2 947.7 L774.3 948.7 L774.4 949.8 L774.4 950.8 L774.5 951.8 L774.6 952.8 L774.6 953.8 L774.7 954.9 L774.8 955.9 L774.8 956.9 L774.9 957.9 L775 959 L775 960 L775.1 961 L775.2 962 L775.2 963 L775.3 964 L775.4 965 L775.5 966 L775.5 967 L775.6 968 L775.7 969 L775.7 970 L775.8 970.9 L775.9 971.9 L776 972.9 L776 973.9 L776.1 974.9 L776.2 975.9 L776.2 976.9 L776.3 977.9 L776.4 978.8 L776.5 979.8 L776.5 980.8 L776.6 981.8 L776.7 982.8 L776.7 983.8 L776.8 984.8 L776.9 985.8 L777 986.8 L777 987.7 L777.1 988.7 L777.2 989.7 L777.3 990.7 L777.3 991.7 L777.4 992.6 L777.5 993.6 L777.6 994.6 L777.6 995.5 L777.7 996.5 L777.8 997.4 L777.9 998.4 L778 999.3 L778 1000.3 L778.1 1001.2 L778.2 1002.2 L778.3 1003.1 L778.4 1004.1 L778.5 1005.2 L778.6 1006.3 L778.7 1007.3 L778.8 1008.4 L778.9 1009.4 L779 1010.5 L779.1 1011.6 L779.3 1012.6 L779.4 1013.7 L779.5 1014.7 L779.6 1015.8 L779.7 1016.8 L779.8 1017.9 L779.9 1018.9 L780.1 1019.9 L780.2 1021 L780.3 1022 L780.4 1023 L780.5 1024 L780.6 1025 L780.7 1025.9 L780.9 1026.9 L781 1027.8 L781.1 1028.8 L781.2 1029.7 L781.3 1030.6 L781.4 1031.5 L781.5 1032.3 L781.6 1033.2 L781.7 1034 L781.8 1034.8 L782 1036.1 L782.1 1037.3 L782.2 1038.4 L782.4 1039.6 L782.5 1040.6 L782.7 1041.7 L782.8 1042.7 L782.9 1043.7 L783 1044.7 L783.2 1045.6 L783.3 1046.5 L783.4 1047.4 L783.5 1048.3 L783.7 1049.1 L783.8 1050 L783.9 1050.8 L784 1051.7 L784.2 1052.5 L784.3 1053.3 L784.4 1054.1 L784.6 1055.3 L784.7 1056.6 L784.9 1057.8 L785.1 1059.1 L785.2 1060.4 L785.4 1061.7 L785.5 1062.8 L785.7 1063.9 L785.8 1064.9 L786 1065.8 L786.2 1066.4 L786.3 1066.9 L786.5 1067.2 L786.7 1067.3 L786.9 1067.1 L787 1066.8 L787.2 1066.3 L787.4 1065.6 L787.6 1064.8 L787.8 1063.9 L788 1062.9 L788.2 1061.8 L788.4 1060.6 L788.6 1059.4 L788.8 1058.2 L789 1057 L789.2 1055.8 L789.3 1054.6 L789.5 1053.5 L789.7 1052.4 L789.9 1051.5 L790 1050.5 L790.2 1049.4 L790.3 1048.4 L790.4 1047.3 L790.6 1046.1 L790.7 1045 L790.9 1043.9 L791 1042.8 L791.2 1041.7 L791.3 1040.6 L791.4 1039.6 L791.6 1038.6 L791.7 1037.7 L791.9 1036.9 L792 1036.1 L792.2 1035.4 L792.3 1034.8 L793 1033.4 L793.6 1033.2 L794.3 1033.4 L795 1033 L795.3 1032.5 L795.6 1032 L795.9 1031.5 L796.2 1030.8 L796.6 1030 L796.9 1029 L797.2 1027.7 L797.6 1026 L797.7 1025.3 L797.9 1024.6 L798 1023.8 L798.1 1022.9 L798.3 1021.9 L798.4 1020.9 L798.6 1019.9 L798.7 1018.8 L798.9 1017.7 L799 1016.6 L799.2 1015.5 L799.3 1014.3 L799.5 1013.2 L799.7 1012.1 L799.8 1011 L800 1009.9 L800.1 1008.8 L800.3 1007.8 L800.4 1006.9 L800.6 1006 L800.7 1005.1 L800.8 1004.4 L801 1003.7 L801.1 1003.1 L801.7 1001 L802.2 999.9 L802.7 999.4 L803.2 999.4 L803.8 999.6 L804.3 1000 L804.7 1000.8 L805.2 1001.8 L805.8 1002.9 L806.3 1003.9 L806.8 1004.6 L807.3 1004.9 L807.8 1004.8 L808.2 1004.3 L808.7 1003.7 L809.2 1002.9 L809.7 1001.9 L810.2 1000.8 L810.8 999.6 L811.2 998.9 L811.5 998 L811.9 997 L812.4 996 L812.8 994.9 L813.2 993.7 L813.7 992.6 L814.1 991.6 L814.5 990.6 L815 989.8 L815.4 989.1 L815.7 988.5 L816.1 988.2 L816.6 988 L817.1 988.1 L817.5 988.5 L818 989.1 L818.4 990 L818.8 991.2 L819.2 992.6 L819.6 994.3 L819.7 994.9 L819.9 995.6 L820 996.3 L820.2 997.1 L820.3 997.9 L820.5 998.7 L820.6 999.5 L820.8 1000.4 L820.9 1001.3 L821.1 1002.3 L821.2 1003.3 L821.3 1004.3 L821.5 1005.3 L821.6 1006.3 L821.8 1007.4 L821.9 1008.4 L822.1 1009.5 L822.2 1010.6 L822.4 1011.7 L822.5 1012.8 L822.7 1013.9 L822.8 1015 L823 1016.1 L823.1 1017.2 L823.2 1018.1 L823.3 1019 L823.4 1019.9 L823.6 1020.9 L823.7 1021.9 L823.8 1023 L823.9 1024 L824 1025.1 L824.2 1026.2 L824.3 1027.3 L824.4 1028.4 L824.5 1029.6 L824.7 1030.7 L824.8 1031.8 L824.9 1032.9 L825 1034 L825.1 1035.1 L825.3 1036.2 L825.4 1037.2 L825.5 1038.3 L825.6 1039.3 L825.7 1040.3 L825.8 1041.2 L826 1042.1 L826.1 1043 L826.2 1043.8 L826.3 1044.6 L826.4 1045.3 L826.5 1046 L826.6 1046.6 L826.7 1047.1 L827.4 1050 L828 1051.1 L828.6 1050.6 L829.3 1048.9 L829.5 1048.4 L829.6 1048 L829.8 1047.5 L829.9 1046.9 L830.1 1046.3 L830.3 1045.7 L830.4 1045 L830.6 1044.3 L830.8 1043.5 L830.9 1042.6 L831.1 1041.7 L831.3 1040.7 L831.5 1039.6 L831.7 1038.4 L831.8 1037.2 L832 1035.9 L832.2 1034.4 L832.4 1032.9 L832.6 1031.2 L832.8 1029.5 L832.9 1028.8 L833 1028.1 L833 1027.3 L833.1 1026.5 L833.2 1025.7 L833.3 1024.9 L833.3 1024 L833.4 1023.1 L833.5 1022.2 L833.6 1021.3 L833.7 1020.3 L833.7 1019.4 L833.8 1018.4 L833.9 1017.4 L834 1016.3 L834.1 1015.3 L834.1 1014.2 L834.2 1013.2 L834.3 1012.1 L834.4 1011 L834.5 1009.9 L834.6 1008.8 L834.6 1007.7 L834.7 1006.6 L834.8 1005.4 L834.9 1004.3 L835 1003.2 L835.1 1002.1 L835.2 1000.9 L835.2 999.8 L835.3 998.7 L835.4 997.5 L835.5 996.4 L835.6 995.3 L835.7 994.2 L835.8 993.1 L835.8 992 L835.9 990.9 L836 989.9 L836.1 988.8 L836.2 987.8 L836.3 986.7 L836.4 985.7 L836.4 984.7 L836.5 983.7 L836.6 982.8 L836.7 981.8 L836.8 980.9 L836.9 980 L836.9 979.2 L837 978.3 L837.1 977.5 L837.2 976.7 L837.3 975.4 L837.5 974.1 L837.6 972.7 L837.8 971.5 L837.9 970.2 L838.1 968.9 L838.2 967.7 L838.4 966.4 L838.5 965.2 L838.7 964.1 L838.8 962.9 L839 961.8 L839.1 960.7 L839.3 959.6 L839.4 958.5 L839.6 957.5 L839.7 956.5 L839.9 955.6 L840 954.6 L840.2 953.7 L840.3 952.9 L840.5 952.1 L840.6 951.3 L840.7 950.6 L840.9 949.9 L841 949.3 L841.1 948.7 L841.2 948.1 L841.4 947.6 L841.5 947.2 L841.6 946.8 L842 945.7 L842.4 945.2 L842.7 945.3 L843 946 L843.3 947.2 L843.6 948.9 L843.9 951.2 L844.2 953.9 L844.3 954.5 L844.3 955.1 L844.4 955.8 L844.5 956.5 L844.5 957.2 L844.6 957.9 L844.7 958.7 L844.7 959.4 L844.8 960.3 L844.9 961.1 L845 961.9 L845 962.8 L845.1 963.7 L845.2 964.6 L845.2 965.6 L845.3 966.5 L845.4 967.5 L845.5 968.5 L845.5 969.5 L845.6 970.5 L845.7 971.6 L845.7 972.6 L845.8 973.7 L845.9 974.8 L846 975.9 L846 977 L846.1 978.1 L846.2 979.2 L846.2 980.3 L846.3 981.5 L846.3 982.6 L846.4 983.8 L846.5 984.9 L846.5 986.1 L846.6 987.3 L846.6 988.4 L846.7 989.6 L846.7 990.8 L846.8 991.9 L846.9 993.1 L846.9 994.3 L846.9 995.2 L847 996.1 L847 997 L847 997.9 L847.1 998.8 L847.1 999.8 L847.1 1000.7 L847.1 1001.7 L847.2 1002.7 L847.2 1003.7 L847.2 1004.7 L847.3 1005.7 L847.3 1006.7 L847.3 1007.8 L847.3 1008.8 L847.3 1009.9 L847.4 1011 L847.4 1012 L847.4 1013.1 L847.4 1014.2 L847.4 1015.3 L847.5 1016.3 L847.5 1017.4 L847.5 1018.5 L847.5 1019.6 L847.5 1020.7 L847.6 1021.8 L847.6 1022.9 L847.6 1024 L847.6 1025.1 L847.6 1026.2 L847.6 1027.2 L847.7 1028.3 L847.7 1029.4 L847.7 1030.4 L847.7 1031.5 L847.7 1032.6 L847.7 1033.6 L847.8 1034.6 L847.8 1035.7 L847.8 1036.7 L847.8 1037.7 L847.8 1038.7 L847.9 1039.6 L847.9 1040.6 L847.9 1041.6 L847.9 1042.5 L847.9 1043.4 L847.9 1044.3 L848 1045.2 L848 1046.1 L848 1047 L848 1047.8 L848.1 1048.6 L848.1 1049.4 L848.1 1050.2 L848.1 1051.6 L848.2 1052.9 L848.2 1054.1 L848.3 1055.4 L848.3 1056.5 L848.4 1057.7 L848.4 1058.8 L848.4 1059.8 L848.5 1060.9 L848.5 1061.9 L848.6 1062.8 L848.6 1063.8 L848.7 1064.7 L848.7 1065.6 L848.8 1066.5 L848.8 1067.4 L848.9 1068.2 L848.9 1069.1 L848.9 1069.9 L849 1070.8 L849 1071.6 L849.1 1072.4 L849.1 1073.3 L849.2 1074.1 L849.3 1075 L849.3 1075.8 L849.4 1076.7 L849.4 1077.6 L849.5 1078.4 L849.5 1079.4 L849.6 1080.3 L849.7 1081.3 L849.7 1082.4 L849.8 1083.5 L849.9 1084.6 L850 1085.7 L850 1086.8 L850.1 1087.9 L850.2 1089.1 L850.3 1090.2 L850.3 1091.4 L850.4 1092.5 L850.5 1093.6 L850.6 1094.8 L850.7 1095.9 L850.7 1097 L850.8 1098.1 L850.9 1099.1 L851 1100.2 L851.1 1101.2 L851.2 1102.1 L851.3 1103.1 L851.3 1104 L851.4 1104.9 L851.5 1105.7 L851.6 1106.4 L851.7 1107.2 L851.7 1107.8 L851.8 1108.4 L851.9 1109 L852.6 1111.5 L853.4 1111 L854.1 1110.5 L854.9 1110.6 L855.6 1110.6 L856.4 1112 L856.6 1112.6 L856.7 1113.2 L856.9 1113.8 L857.1 1114.5 L857.2 1115.3 L857.4 1116.1 L857.6 1117 L857.7 1118 L857.9 1119 L858.1 1120.2 L858.2 1121.4 L858.4 1122.7 L858.5 1124.1 L858.7 1125.6 L858.8 1126.3 L858.8 1127.1 L858.9 1127.9 L859 1128.7 L859.1 1129.5 L859.1 1130.4 L859.2 1131.3 L859.3 1132.2 L859.3 1133.1 L859.4 1134.1 L859.5 1135.1 L859.6 1136 L859.6 1137.1 L859.7 1138.1 L859.8 1139.1 L859.8 1140.1 L859.9 1141.2 L860 1142.2 L860 1143.3 L860.1 1144.3 L860.2 1145.4 L860.3 1146.5 L860.3 1147.5 L860.4 1148.6 L860.5 1149.6 L860.5 1150.7 L860.6 1151.7 L860.7 1152.7 L860.8 1153.7 L860.8 1154.7 L860.9 1155.7 L861 1156.7 L861 1157.7 L861.1 1158.7 L861.2 1159.8 L861.3 1160.8 L861.3 1161.9 L861.4 1163 L861.5 1164.1 L861.5 1165.2 L861.6 1166.3 L861.7 1167.4 L861.8 1168.5 L861.8 1169.6 L861.9 1170.7 L862 1171.8 L862 1172.8 L862.1 1173.9 L862.2 1174.9 L862.3 1176 L862.3 1177 L862.4 1177.9 L862.5 1178.9 L862.6 1179.8 L862.6 1180.7 L862.7 1181.6 L862.8 1182.4 L862.9 1183.2 L862.9 1183.9 L863 1184.6 L863.1 1185.3 L863.2 1185.9 L863.6 1188 L864 1189.4 L864.4 1190.2 L864.8 1190.6 L865.3 1190.9 L865.7 1191.3 L866.2 1192 L866.6 1192.9 L867.1 1194 L867.6 1195.2 L868.1 1196.3 L868.5 1197.3 L869 1198.1 L869.5 1198.6 L870 1198.7 L870.4 1198.4 L870.7 1197.7 L871.1 1196.7 L871.5 1195.5 L871.9 1194.2 L872.2 1193 L872.6 1191.8 L873 1190.8 L873.3 1190.1 L873.7 1189.7 L874.2 1189.9 L874.6 1190.6 L875.1 1191.7 L875.5 1192.9 L876 1194.2 L876.5 1195.2 L877 1195.7 L877.5 1195.7 L877.8 1195.4 L878.1 1194.9 L878.4 1194.3 L878.8 1193.6 L879.1 1192.8 L879.5 1191.9 L879.8 1190.9 L880.1 1189.8 L880.5 1188.7 L880.8 1187.6 L881.1 1186.4 L881.4 1185.2 L881.7 1184.1 L882 1182.9 L882.2 1182.1 L882.4 1181.3 L882.5 1180.5 L882.7 1179.7 L882.9 1178.9 L883.1 1178.1 L883.2 1177.3 L883.4 1176.4 L883.5 1175.6 L883.7 1174.7 L883.8 1173.7 L884 1172.8 L884.1 1171.8 L884.3 1170.7 L884.4 1169.6 L884.5 1168.5 L884.6 1167.3 L884.8 1166 L884.9 1164.7 L885 1163.3 L885.1 1162.5 L885.1 1161.8 L885.2 1161 L885.2 1160.1 L885.3 1159.3 L885.3 1158.4 L885.4 1157.6 L885.4 1156.7 L885.5 1155.8 L885.5 1154.9 L885.6 1153.9 L885.6 1153 L885.7 1152 L885.7 1151.1 L885.7 1150.1 L885.8 1149.1 L885.8 1148.1 L885.9 1147.1 L885.9 1146.1 L885.9 1145 L886 1144 L886 1142.9 L886 1141.9 L886.1 1140.8 L886.1 1139.8 L886.1 1138.7 L886.2 1137.6 L886.2 1136.5 L886.3 1135.4 L886.3 1134.4 L886.3 1133.3 L886.4 1132.2 L886.4 1131.1 L886.4 1130 L886.5 1128.9 L886.5 1127.8 L886.6 1126.7 L886.6 1125.6 L886.6 1124.7 L886.7 1123.8 L886.7 1122.8 L886.7 1121.9 L886.8 1120.9 L886.8 1120 L886.8 1119 L886.9 1118 L886.9 1117 L886.9 1116 L887 1115 L887 1114 L887 1113 L887 1112 L887.1 1111 L887.1 1109.9 L887.1 1108.9 L887.2 1107.9 L887.2 1106.8 L887.2 1105.8 L887.3 1104.7 L887.3 1103.7 L887.3 1102.7 L887.3 1101.6 L887.4 1100.6 L887.4 1099.6 L887.4 1098.5 L887.5 1097.5 L887.5 1096.5 L887.5 1095.5 L887.6 1094.4 L887.6 1093.4 L887.6 1092.4 L887.7 1091.4 L887.7 1090.5 L887.7 1089.5 L887.8 1088.5 L887.8 1087.6 L887.8 1086.6 L887.9 1085.7 L887.9 1084.7 L887.9 1083.8 L888 1082.9 L888 1082 L888.1 1081.2 L888.1 1080.3 L888.2 1079.2 L888.2 1078 L888.3 1076.9 L888.3 1075.8 L888.4 1074.7 L888.4 1073.6 L888.5 1072.6 L888.6 1071.5 L888.6 1070.5 L888.7 1069.5 L888.7 1068.4 L888.8 1067.4 L888.9 1066.4 L888.9 1065.5 L889 1064.5 L889 1063.5 L889.1 1062.6 L889.2 1061.6 L889.2 1060.7 L889.3 1059.7 L889.4 1058.8 L889.4 1057.9 L889.5 1057 L889.6 1056 L889.6 1055.1 L889.7 1054.2 L889.8 1053.3 L889.9 1052.4 L889.9 1051.5 L890 1050.9 L890.1 1049.8 L890.1 1048.5 L890.2 1047.3 L890.3 1046.8 L890.4 1046.1 L890.5 1044.7 L890.6 1043.4 L890.7 1042.6 L890.8 1041.9 L890.9 1041.3 L891 1040.6 L891.1 1039.8 L891.2 1039 L891.3 1037.8 L891.4 1036.3 L891.6 1035.3 L891.7 1034.7 L891.8 1033.7 L891.9 1032.6 L892 1031.8 L892.1 1031 L892.2 1029.9 L892.3 1028.8 L892.4 1028 L892.6 1027.4 L892.7 1026.5 L892.8 1025.3 L892.9 1024 L893 1023 L893.1 1022.5 L893.2 1021.6 L893.3 1020.5 L893.4 1019.7 L893.5 1018.4 L893.5 1017.2 L893.6 1016.4 L893.7 1015.5 L893.7 1014.6 L893.8 1013.8 L893.9 1013.1 L894 1012.5 L894 1011.5 L894.1 1010.3 L894.2 1009.6 L894.2 1008.8 L894.3 1007.7 L894.4 1006.7 L894.4 1005.7 L894.5 1004.4 L894.6 1003 L894.6 1002.1 L894.7 1001.5 L894.8 1000.4 L894.9 999.3 L894.9 998.2 L895 997 L895.1 995.8 L895.1 994.9 L895.2 994.3 L895.3 993.3 L895.4 992.4 L895.4 991.7 L895.5 990.7 L895.6 989.7 L895.7 988.8 L895.7 987.5 L895.8 985.8 L895.9 984.9 L896 984.4 L896 983.5 L896.1 982.5 L896.2 981.1 L896.3 980 L896.3 979.5 L896.4 978.6 L896.5 977.7 L896.6 976.8 L896.6 975.7 L896.7 974.8 L896.8 973.6 L896.9 972.2 L897 971.2 L897 970.4 L897.1 969.7 L897.2 968.6 L897.3 967.1 L897.4 965.7 L897.4 965 L897.5 964.5 L897.6 963.7 L897.7 962.6 L897.8 961.5 L897.9 960.3 L897.9 958.9 L898 958.1 L898.1 957.6 L898.2 956.6 L898.3 955.6 L898.3 954.4 L898.4 952.9 L898.5 951.7 L898.6 950.8 L898.6 950.1 L898.7 949.3 L898.8 948.4 L898.9 947.6 L898.9 946.4 L899 945.2 L899.1 944.6 L899.1 944 L899.2 942.9 L899.3 941.9 L899.4 941 L899.4 939.8 L899.5 938.5 L899.6 937.3 L899.7 936.6 L899.8 935.6 L899.8 934.1 L899.9 932.6 L900 931.7 L900.1 931.2 L900.1 929.9 L900.2 928.7 L900.3 928.1 L900.3 927.4 L900.4 926.1 L900.5 924.7 L900.6 923.6 L900.6 922.5 L900.7 921.7 L900.8 921.2 L900.8 920.1 L900.9 918.9 L900.9 918.6 L901 918 L901.1 916.7 L901.1 915.1 L901.2 914.1 L901.2 913.5 L901.3 912.9 L901.3 912.3 L901.4 911.6 L901.4 910.5 L901.5 909.2 L901.6 907.8 L901.6 906.5 L901.7 905.3 L901.7 903.9 L901.8 902.6 L901.8 901.6 L901.9 900.6 L901.9 899.7 L901.9 898.7 L902 897.3 L902 896.2 L902 895.7 L902.1 894.9 L902.1 893.9 L902.1 892.9 L902.2 891.9 L902.2 890.9 L902.2 889.8 L902.3 888.5 L902.3 887.7 L902.4 887.1 L902.4 886.2 L902.5 885.4 L902.5 884.7 L902.6 884.2 L902.8 883 L903 881.5 L903.2 880 L903.4 879 L903.6 878.5 L903.8 877.8 L904.1 877.1 L904.4 876.7 L904.6 876.3 L904.9 875.8 L905.5 874.9 L906.2 874.5 L906.9 874.2 L907.6 874 L908.3 873.2 L908.7 872.1 L909.2 871.2 L909.6 870.2 L910 869 L910.4 868.3 L910.8 867.7 L911.2 867 L911.6 866.3 L912 866.7 L912.4 868 L912.7 869.4 L913.1 870.7 L913.5 871.1 L913.9 870.4 L914.1 869.9 L914.2 869.3 L914.4 868.6 L914.5 867.9 L914.7 867.5 L914.9 866.5 L915.1 864.7 L915.3 863.1 L915.4 862.3 L915.6 861.5 L915.8 860.2 L916 859 L916.2 857.7 L916.4 856.4 L916.6 855.5 L916.8 854.7 L916.9 853.8 L917.1 853.4 L917.3 852.7 L918 850.6 L918.6 849.7 L919.3 849.7 L919.9 849.7 L920.7 849.7 L921.2 849.9 L921.8 850.6 L922.4 851.3 L923 851.9 L923.5 852.7 L924.1 853.6 L924.7 854.7 L925.2 856.1 L925.4 856.8 L925.6 857.6 L925.8 858.3 L926 858.8 L926.1 859.8 L926.3 861.1 L926.5 862.1 L926.6 863.3 L926.8 864.5 L927 865.1 L927.1 865.9 L927.3 867.3 L927.5 868.4 L927.6 869.3 L927.8 870.6 L927.9 871.3 L928.1 871.8 L928.3 872.7 L928.4 873.9 L928.6 875.3 L928.8 876.4 L929 876.9 L929.2 877.8 L929.4 879.2 L929.6 880.4 L929.8 881.5 L929.9 882.9 L930.1 884.2 L930.3 885.2 L930.5 885.7 L930.7 885.9 L930.9 886.8 L931.1 888.2 L931.3 889.2 L931.5 889.5 L931.8 890.2 L932 890.9 L932.6 891.9 L933.2 892.3 L933.9 892.5 L934.5 892.6 L935.2 893 L935.8 894.1 L936.5 895.7 L936.7 896.5 L936.9 897.4 L937.1 898.2 L937.4 898.9 L937.6 899.9 L937.8 900.8 L938 901.9 L938.2 903.1 L938.4 903.9 L938.6 905 L938.9 906.1 L939.1 907 L939.3 908.1 L939.5 909.1 L939.7 910.3 L939.9 911.9 L940.1 913.3 L940.4 914.1 L940.6 914.3 L940.8 914.8 L941 915.7 L941.5 917.2 L942 918.5 L942.6 919.8 L943.1 920.7 L943.6 921.2 L944.2 921.8 L944.7 922.3 L945.1 922.8 L945.6 923.4 L946.3 923.4 L947 922.7 L947.6 921.3 L948.3 920.1 L948.9 920.3 L949.2 920.9 L949.5 921.2 L949.8 921.5 L950.1 921.8 L950.5 922.5 L950.8 923.5 L951.1 924.5 L951.5 925.8 L951.9 927.6 L952.3 929.6 L952.5 930.1 L952.6 930.9 L952.8 931.9 L952.9 932.5 L953.1 933 L953.3 934 L953.5 935.2 L953.7 936.1 L953.8 937.1 L954 938.5 L954.2 939.6 L954.4 940.6 L954.6 941.9 L954.8 942.9 L955 943.7 L955.2 944.8 L955.4 946.3 L955.6 947.6 L955.8 948.4 L956 949.3 L956.2 950.6 L956.4 952.1 L956.6 953.1 L956.8 953.8 L957 955.1 L957.2 956 L957.4 956.6 L957.6 957.5 L957.8 958.3 L958 958.8 L958.5 960.1 L959 961.4 L959.5 962.8 L960 964 L960.5 964.7 L961 964.7 L961.5 964.9 L962 965.5 L962.5 966.5 L963 967.5 L963.6 968.2 L964.1 968.6 L964.5 969.3 L965 970.1 L965.5 970.7 L966 971.7 L966.5 972.5 L967 973.1 L967.5 973.9 L968 974.4 L968.5 975 L969 975.9 L969.5 976.6 L969.9 977.6 L970.4 979.1 L970.7 980.2 L971 980.8 L971.4 982 L971.7 983.6 L972 984.8 L972.3 985.8 L972.6 986.8 L972.9 987.8 L973.2 989 L973.5 990.1 L973.8 991 L974.1 991.9 L974.3 992.7 L974.6 993.6 L974.9 994.8 L975.2 996 L975.5 996.4 L975.8 996.8 L976.1 997.2 L976.7 997.6 L977.3 997.7 L977.9 997.2 L978.5 996.1 L979.1 995 L979.7 993.7 L980.4 992 L981 990.8 L981.7 990.2 L982.3 989.6 L982.9 989.1 L983.6 988.5 L984.2 987.9 L984.9 987.8 L985.6 987.1 L986.3 986.1 L987 985.5 L987.7 984.9 L988.5 984 L989 983.6 L989.5 982.7 L990 981.6 L990.6 980.9 L991.2 979.7 L991.7 978.4 L992.3 977.4 L992.9 976.8 L993.5 976.1 L994.1 974.8 L994.6 973.6 L995.2 973.1 L995.7 972.5 L996.2 971.6 L996.7 970.9 L997.1 970.8 L997.5 970.4 L998.5 969.7 L999.3 970.8 L999.8 972.5 L1000.3 973.5 L1000.9 973.3 L1001.1 973.1 L1001.3 972.5 L1001.5 971.9 L1001.6 971.2 L1001.8 970 L1002 969.1 L1002.2 968.3 L1002.4 966.9 L1002.5 965.6 L1002.7 964.8 L1002.9 963.8 L1003.1 962.5 L1003.3 961.3 L1003.5 960.5 L1003.7 959.8 L1003.9 958.7 L1004.1 957.5 L1004.3 956.2 L1004.6 955.1 L1004.9 954.4 L1005.2 953.6 L1005.5 952.6 L1005.9 951.6 L1006.2 950.3 L1006.6 949.5 L1006.9 948.8 L1007.3 947.9 L1007.6 946.8 L1007.9 945.7 L1008.2 945 L1008.4 944.3 L1008.6 943.8 L1008.8 943.5" stroke="#2020c8" stroke-width="2.9" fill="none" stroke-linejoin="round"/>
<path d="M303.8 1430.7 L303.8 1470.3 M421.3 1263.6 L421.3 1336.1 M705.8 1117.7 L669 1178.7 M737.7 1283.2 L707.7 1340.3 M754.7 1096.4 L754.7 1289 M781.8 1178.7 L781.8 1228" stroke="#222" stroke-width="1.6" fill="none"/>
<text x="48.5" y="824.9" font-size="43.5">B</text>
<text x="97.6" y="857.6" font-size="28.5">100</text>
<text x="110.6" y="942.1" font-size="28.5" textLength="29.82" lengthAdjust="spacingAndGlyphs">60</text>
<text x="112.1" y="1024.0" font-size="28.5">40</text>
<text x="110.7" y="1105.8" font-size="28.5" textLength="28.94" lengthAdjust="spacingAndGlyphs">20</text>
<text x="126.05" y="1188.0" font-size="28.5" textLength="14.61" lengthAdjust="spacingAndGlyphs">0</text>
<text x="103.95" y="1273.9" font-size="28.5" textLength="38.95" lengthAdjust="spacingAndGlyphs">-20</text>
<text x="102.1" y="1357.5" font-size="28.5" textLength="40.74" lengthAdjust="spacingAndGlyphs">-40</text>
<text x="103.95" y="1441.0" font-size="28.5" textLength="38.95" lengthAdjust="spacingAndGlyphs">-60</text>
<text x="103.95" y="1523.3" font-size="28.5" textLength="40.01" lengthAdjust="spacingAndGlyphs">-80</text>
<text x="144.45" y="1566.9" font-size="28.5" textLength="57.92" lengthAdjust="spacingAndGlyphs">4000</text>
<text x="261.0" y="1566.9" font-size="28.5" textLength="59.69" lengthAdjust="spacingAndGlyphs">3500</text>
<text x="380.75" y="1566.9" font-size="28.5" textLength="58.97" lengthAdjust="spacingAndGlyphs">3000</text>
<text x="506.85" y="1568.0" font-size="28.5" textLength="58.97" lengthAdjust="spacingAndGlyphs">2500</text>
<text x="628.6" y="1568.0" font-size="28.5" textLength="59.28" lengthAdjust="spacingAndGlyphs">2000</text>
<text x="752.4" y="1566.8" font-size="28.5" textLength="60.17" lengthAdjust="spacingAndGlyphs">1500</text>
<text x="876.25" y="1566.8" font-size="28.5" textLength="60.06" lengthAdjust="spacingAndGlyphs">1000</text>
<text x="997.05" y="1566.8" font-size="28.5" textLength="44.11" lengthAdjust="spacingAndGlyphs">500</text>
<text x="285.9" y="1503.7" font-size="28.5" textLength="60.11" lengthAdjust="spacingAndGlyphs">3416</text>
<text x="410.55" y="1374.9" font-size="28.5" textLength="59.59" lengthAdjust="spacingAndGlyphs">2938</text>
<text x="645.35" y="1219.9" font-size="28.5" textLength="59.43" lengthAdjust="spacingAndGlyphs">1743</text>
<text x="688.85" y="1369.9" font-size="28.5" textLength="59.43" lengthAdjust="spacingAndGlyphs">1620</text>
<text x="740.1" y="1318.6" font-size="28.5" textLength="60.38" lengthAdjust="spacingAndGlyphs">1558</text>
<text x="771.05" y="1263.5" font-size="28.5" textLength="60.48" lengthAdjust="spacingAndGlyphs">1419</text>
<text x="1030.5" y="947.5" font-size="27.5" textLength="75.56" lengthAdjust="spacingAndGlyphs">PPP-I</text>
<text x="1031.5" y="1158.8" font-size="27.5" textLength="54.93" lengthAdjust="spacingAndGlyphs">PPP</text>
<text x="452.8" y="1619.6" font-size="34.7">Wavenumbers <tspan dx="5">(cm</tspan><tspan font-size="22" dy="-12.5" dx="0.8">-1</tspan><tspan dy="12.5" dx="1.8">)</tspan></text>
<text transform="translate(80.2 1291.3) rotate(-90)" font-size="35.5">Transttance (%)</text>
</svg></body></html>
